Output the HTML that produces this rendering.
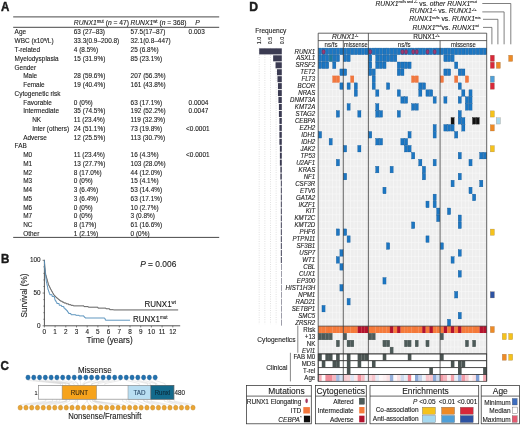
<!DOCTYPE html>
<html><head><meta charset="utf-8"><title>RUNX1 figure</title>
<style>
html,body{margin:0;padding:0;background:#fff;}
body{width:520px;height:425px;overflow:hidden;}
svg{display:block;}
text{font-family:'Liberation Sans', Arial, sans-serif;fill:#1a1a1a;stroke:#1a1a1a;stroke-width:0.1px;}
</style></head>
<body>
<svg width="520" height="425" viewBox="0 0 520 425" font-family="'Liberation Sans', Arial, sans-serif">
<rect width="520" height="425" fill="#fff"/>
<text x="1.0" y="11.4" font-size="11.6" font-weight="bold" style="stroke-width:0.4px" transform="matrix(1 0 0 1.08 0 -0.91)">A</text>
<line x1="13.2" y1="16.9" x2="219.2" y2="16.9" stroke="#333" stroke-width="0.9"/>
<line x1="13.2" y1="27.3" x2="219.2" y2="27.3" stroke="#333" stroke-width="0.9"/>
<line x1="13.2" y1="237.4" x2="219.2" y2="237.4" stroke="#333" stroke-width="0.9"/>
<text x="73.8" y="25.4" font-size="6.75" transform="matrix(1 0 0 1.08 0 -2.03)"><tspan font-style="italic">RUNX1</tspan><tspan font-size="4.3" dy="-2.6">mut</tspan><tspan dy="2.6"> (</tspan><tspan font-style="italic">n</tspan> = 47)</text>
<text x="130.4" y="25.4" font-size="6.75" transform="matrix(1 0 0 1.08 0 -2.03)"><tspan font-style="italic">RUNX1</tspan><tspan font-size="4.3" dy="-2.6">wt</tspan><tspan dy="2.6"> (</tspan><tspan font-style="italic">n</tspan> = 368)</text>
<text x="195.2" y="25.4" font-size="6.75" font-style="italic" transform="matrix(1 0 0 1.08 0 -2.03)">P</text>
<g font-size="6.45">
<text x="14.6" y="34.5" transform="matrix(1 0 0 1.08 0 -2.76)">Age</text>
<text x="73.8" y="34.5" transform="matrix(1 0 0 1.08 0 -2.76)">63 (27–83)</text>
<text x="130.6" y="34.5" transform="matrix(1 0 0 1.08 0 -2.76)">57.5(17–87)</text>
<text x="188.6" y="34.5" transform="matrix(1 0 0 1.08 0 -2.76)">0.003</text>
<text x="14.6" y="43.26" transform="matrix(1 0 0 1.08 0 -3.46)">WBC (x10<tspan font-size="3.8" dy="-2.4">9</tspan><tspan dy="2.4">/L)</tspan></text>
<text x="73.8" y="43.26" transform="matrix(1 0 0 1.08 0 -3.46)">33.3(0.9–200.8)</text>
<text x="130.6" y="43.26" transform="matrix(1 0 0 1.08 0 -3.46)">32.1(0.8–447)</text>
<text x="14.6" y="52.02" transform="matrix(1 0 0 1.08 0 -4.16)">T-related</text>
<text x="73.8" y="52.02" transform="matrix(1 0 0 1.08 0 -4.16)">4 (8.5%)</text>
<text x="130.6" y="52.02" transform="matrix(1 0 0 1.08 0 -4.16)">25 (6.8%)</text>
<text x="14.6" y="60.78" transform="matrix(1 0 0 1.08 0 -4.86)">Myelodysplasia</text>
<text x="73.8" y="60.78" transform="matrix(1 0 0 1.08 0 -4.86)">15 (31.9%)</text>
<text x="130.6" y="60.78" transform="matrix(1 0 0 1.08 0 -4.86)">85 (23.1%)</text>
<text x="14.6" y="69.54" transform="matrix(1 0 0 1.08 0 -5.56)">Gender</text>
<text x="23.2" y="78.3" transform="matrix(1 0 0 1.08 0 -6.26)">Male</text>
<text x="73.8" y="78.3" transform="matrix(1 0 0 1.08 0 -6.26)">28 (59.6%)</text>
<text x="130.6" y="78.3" transform="matrix(1 0 0 1.08 0 -6.26)">207 (56.3%)</text>
<text x="23.2" y="87.06" transform="matrix(1 0 0 1.08 0 -6.96)">Female</text>
<text x="73.8" y="87.06" transform="matrix(1 0 0 1.08 0 -6.96)">19 (40.4%)</text>
<text x="130.6" y="87.06" transform="matrix(1 0 0 1.08 0 -6.96)">161 (43.8%)</text>
<text x="14.6" y="95.82" transform="matrix(1 0 0 1.08 0 -7.67)">Cytogenetic risk</text>
<text x="23.2" y="104.58" transform="matrix(1 0 0 1.08 0 -8.37)">Favorable</text>
<text x="73.8" y="104.58" transform="matrix(1 0 0 1.08 0 -8.37)">0 (0%)</text>
<text x="130.6" y="104.58" transform="matrix(1 0 0 1.08 0 -8.37)">63 (17.1%)</text>
<text x="188.6" y="104.58" transform="matrix(1 0 0 1.08 0 -8.37)">0.0004</text>
<text x="23.2" y="113.34" transform="matrix(1 0 0 1.08 0 -9.07)">Intermediate</text>
<text x="73.8" y="113.34" transform="matrix(1 0 0 1.08 0 -9.07)">35 (74.5%)</text>
<text x="130.6" y="113.34" transform="matrix(1 0 0 1.08 0 -9.07)">192 (52.2%)</text>
<text x="188.6" y="113.34" transform="matrix(1 0 0 1.08 0 -9.07)">0.0047</text>
<text x="32.2" y="122.1" transform="matrix(1 0 0 1.08 0 -9.77)">NK</text>
<text x="73.8" y="122.1" transform="matrix(1 0 0 1.08 0 -9.77)">11 (23.4%)</text>
<text x="130.6" y="122.1" transform="matrix(1 0 0 1.08 0 -9.77)">119 (32.3%)</text>
<text x="32.2" y="130.86" transform="matrix(1 0 0 1.08 0 -10.47)">Inter (others)</text>
<text x="73.8" y="130.86" transform="matrix(1 0 0 1.08 0 -10.47)">24 (51.1%)</text>
<text x="130.6" y="130.86" transform="matrix(1 0 0 1.08 0 -10.47)">73 (19.8%)</text>
<text x="186.1" y="130.86" transform="matrix(1 0 0 1.08 0 -10.47)">&lt;0.0001</text>
<text x="23.2" y="139.62" transform="matrix(1 0 0 1.08 0 -11.17)">Adverse</text>
<text x="73.8" y="139.62" transform="matrix(1 0 0 1.08 0 -11.17)">12 (25.5%)</text>
<text x="130.6" y="139.62" transform="matrix(1 0 0 1.08 0 -11.17)">113 (30.7%)</text>
<text x="14.6" y="148.38" transform="matrix(1 0 0 1.08 0 -11.87)">FAB</text>
<text x="23.2" y="157.14" transform="matrix(1 0 0 1.08 0 -12.57)">M0</text>
<text x="73.8" y="157.14" transform="matrix(1 0 0 1.08 0 -12.57)">11 (23.4%)</text>
<text x="130.6" y="157.14" transform="matrix(1 0 0 1.08 0 -12.57)">16 (4.3%)</text>
<text x="186.1" y="157.14" transform="matrix(1 0 0 1.08 0 -12.57)">&lt;0.0001</text>
<text x="23.2" y="165.9" transform="matrix(1 0 0 1.08 0 -13.27)">M1</text>
<text x="73.8" y="165.9" transform="matrix(1 0 0 1.08 0 -13.27)">13 (27.7%)</text>
<text x="130.6" y="165.9" transform="matrix(1 0 0 1.08 0 -13.27)">103 (28.0%)</text>
<text x="23.2" y="174.66" transform="matrix(1 0 0 1.08 0 -13.97)">M2</text>
<text x="73.8" y="174.66" transform="matrix(1 0 0 1.08 0 -13.97)">8 (17.0%)</text>
<text x="130.6" y="174.66" transform="matrix(1 0 0 1.08 0 -13.97)">44 (12.0%)</text>
<text x="23.2" y="183.42" transform="matrix(1 0 0 1.08 0 -14.67)">M3</text>
<text x="73.8" y="183.42" transform="matrix(1 0 0 1.08 0 -14.67)">0 (0%)</text>
<text x="130.6" y="183.42" transform="matrix(1 0 0 1.08 0 -14.67)">15 (4.1%)</text>
<text x="23.2" y="192.18" transform="matrix(1 0 0 1.08 0 -15.37)">M4</text>
<text x="73.8" y="192.18" transform="matrix(1 0 0 1.08 0 -15.37)">3 (6.4%)</text>
<text x="130.6" y="192.18" transform="matrix(1 0 0 1.08 0 -15.37)">53 (14.4%)</text>
<text x="23.2" y="200.94" transform="matrix(1 0 0 1.08 0 -16.08)">M5</text>
<text x="73.8" y="200.94" transform="matrix(1 0 0 1.08 0 -16.08)">3 (6.4%)</text>
<text x="130.6" y="200.94" transform="matrix(1 0 0 1.08 0 -16.08)">63 (17.1%)</text>
<text x="23.2" y="209.7" transform="matrix(1 0 0 1.08 0 -16.78)">M6</text>
<text x="73.8" y="209.7" transform="matrix(1 0 0 1.08 0 -16.78)">0 (0%)</text>
<text x="130.6" y="209.7" transform="matrix(1 0 0 1.08 0 -16.78)">10 (2.7%)</text>
<text x="23.2" y="218.46" transform="matrix(1 0 0 1.08 0 -17.48)">M7</text>
<text x="73.8" y="218.46" transform="matrix(1 0 0 1.08 0 -17.48)">0 (0%)</text>
<text x="130.6" y="218.46" transform="matrix(1 0 0 1.08 0 -17.48)">3 (0.8%)</text>
<text x="23.2" y="227.22" transform="matrix(1 0 0 1.08 0 -18.18)">NC</text>
<text x="73.8" y="227.22" transform="matrix(1 0 0 1.08 0 -18.18)">8 (17%)</text>
<text x="130.6" y="227.22" transform="matrix(1 0 0 1.08 0 -18.18)">61 (16.6%)</text>
<text x="23.2" y="235.98" transform="matrix(1 0 0 1.08 0 -18.88)">Other</text>
<text x="73.8" y="235.98" transform="matrix(1 0 0 1.08 0 -18.88)">1 (2.1%)</text>
<text x="130.6" y="235.98" transform="matrix(1 0 0 1.08 0 -18.88)">0 (0%)</text>
</g>
<text x="1.0" y="262.7" font-size="11.6" font-weight="bold" style="stroke-width:0.4px" transform="matrix(1 0 0 1.08 0 -21.02)">B</text>
<line x1="44.4" y1="259.8" x2="44.4" y2="325.8" stroke="#555" stroke-width="1.0"/>
<line x1="44.4" y1="325.8" x2="180.2" y2="325.8" stroke="#555" stroke-width="1.0"/>
<line x1="42.6" y1="325.8" x2="44.4" y2="325.8" stroke="#333" stroke-width="0.6"/>
<line x1="43.4" y1="319.25" x2="44.4" y2="319.25" stroke="#333" stroke-width="0.6"/>
<line x1="43.4" y1="312.7" x2="44.4" y2="312.7" stroke="#333" stroke-width="0.6"/>
<line x1="43.4" y1="306.15" x2="44.4" y2="306.15" stroke="#333" stroke-width="0.6"/>
<line x1="43.4" y1="299.6" x2="44.4" y2="299.6" stroke="#333" stroke-width="0.6"/>
<line x1="42.6" y1="293.05" x2="44.4" y2="293.05" stroke="#333" stroke-width="0.6"/>
<line x1="43.4" y1="286.5" x2="44.4" y2="286.5" stroke="#333" stroke-width="0.6"/>
<line x1="43.4" y1="279.95" x2="44.4" y2="279.95" stroke="#333" stroke-width="0.6"/>
<line x1="43.4" y1="273.4" x2="44.4" y2="273.4" stroke="#333" stroke-width="0.6"/>
<line x1="43.4" y1="266.85" x2="44.4" y2="266.85" stroke="#333" stroke-width="0.6"/>
<line x1="42.6" y1="260.3" x2="44.4" y2="260.3" stroke="#333" stroke-width="0.6"/>
<line x1="44.4" y1="325.8" x2="44.4" y2="327.4" stroke="#333" stroke-width="0.6"/>
<line x1="55.1" y1="325.8" x2="55.1" y2="327.4" stroke="#333" stroke-width="0.6"/>
<line x1="65.8" y1="325.8" x2="65.8" y2="327.4" stroke="#333" stroke-width="0.6"/>
<line x1="76.5" y1="325.8" x2="76.5" y2="327.4" stroke="#333" stroke-width="0.6"/>
<line x1="87.2" y1="325.8" x2="87.2" y2="327.4" stroke="#333" stroke-width="0.6"/>
<line x1="97.9" y1="325.8" x2="97.9" y2="327.4" stroke="#333" stroke-width="0.6"/>
<line x1="108.6" y1="325.8" x2="108.6" y2="327.4" stroke="#333" stroke-width="0.6"/>
<line x1="119.3" y1="325.8" x2="119.3" y2="327.4" stroke="#333" stroke-width="0.6"/>
<line x1="130" y1="325.8" x2="130" y2="327.4" stroke="#333" stroke-width="0.6"/>
<line x1="140.7" y1="325.8" x2="140.7" y2="327.4" stroke="#333" stroke-width="0.6"/>
<line x1="151.4" y1="325.8" x2="151.4" y2="327.4" stroke="#333" stroke-width="0.6"/>
<line x1="162.1" y1="325.8" x2="162.1" y2="327.4" stroke="#333" stroke-width="0.6"/>
<line x1="172.8" y1="325.8" x2="172.8" y2="327.4" stroke="#333" stroke-width="0.6"/>
<g font-size="6.4">
<text x="40.6" y="262.5" text-anchor="end" transform="matrix(1 0 0 1.08 0 -21)">100</text>
<text x="40.6" y="295.25" text-anchor="end" transform="matrix(1 0 0 1.08 0 -23.62)">50</text>
<text x="40.6" y="328" text-anchor="end" transform="matrix(1 0 0 1.08 0 -26.24)">0</text>
<text x="44.4" y="333.6" text-anchor="middle" transform="matrix(1 0 0 1.08 0 -26.69)">0</text>
<text x="55.1" y="333.6" text-anchor="middle" transform="matrix(1 0 0 1.08 0 -26.69)">1</text>
<text x="65.8" y="333.6" text-anchor="middle" transform="matrix(1 0 0 1.08 0 -26.69)">2</text>
<text x="76.5" y="333.6" text-anchor="middle" transform="matrix(1 0 0 1.08 0 -26.69)">3</text>
<text x="87.2" y="333.6" text-anchor="middle" transform="matrix(1 0 0 1.08 0 -26.69)">4</text>
<text x="97.9" y="333.6" text-anchor="middle" transform="matrix(1 0 0 1.08 0 -26.69)">5</text>
<text x="108.6" y="333.6" text-anchor="middle" transform="matrix(1 0 0 1.08 0 -26.69)">6</text>
<text x="119.3" y="333.6" text-anchor="middle" transform="matrix(1 0 0 1.08 0 -26.69)">7</text>
<text x="130" y="333.6" text-anchor="middle" transform="matrix(1 0 0 1.08 0 -26.69)">8</text>
<text x="140.7" y="333.6" text-anchor="middle" transform="matrix(1 0 0 1.08 0 -26.69)">9</text>
<text x="151.4" y="333.6" text-anchor="middle" transform="matrix(1 0 0 1.08 0 -26.69)">10</text>
<text x="162.1" y="333.6" text-anchor="middle" transform="matrix(1 0 0 1.08 0 -26.69)">11</text>
<text x="172.8" y="333.6" text-anchor="middle" transform="matrix(1 0 0 1.08 0 -26.69)">12</text>
</g>
<text x="109.6" y="342.6" font-size="8.3" text-anchor="middle" transform="matrix(1 0 0 1.08 0 -27.41)">Time (years)</text>
<text transform="translate(26.6,295.5) rotate(-90)" font-size="8.2" text-anchor="middle">Survival (%)</text>
<text x="176.3" y="266.6" font-size="8.4" text-anchor="end" transform="matrix(1 0 0 1.08 0 -21.33)"><tspan font-style="italic">P</tspan> = 0.006</text>
<text x="144.5" y="307.2" font-size="8" transform="matrix(1 0 0 1.08 0 -24.58)">RUNX1<tspan font-size="4.3" dy="-3.2">wt</tspan></text>
<text x="132.9" y="322.3" font-size="8" transform="matrix(1 0 0 1.08 0 -25.78)">RUNX1<tspan font-size="4.6" dy="-3">mut</tspan></text>
<path d="M44.4,260.3 H44.45 V261.05 H44.49 V261.8 H44.54 V262.55 H44.58 V263.29 H44.63 V264.04 H44.68 V264.79 H44.72 V265.54 H44.8 V266.3 H44.88 V267.07 H44.96 V267.83 H45.04 V268.6 H45.12 V269.36 H45.2 V270.12 H45.28 V270.89 H45.36 V271.65 H45.44 V272.42 H45.52 V273.18 H45.6 V273.95 H45.68 V274.71 H45.91 V275.52 H46.13 V276.32 H46.35 V277.13 H46.57 V277.93 H46.8 V278.74 H47.02 V279.55 H47.24 V280.35 H47.46 V281.16 H47.68 V281.97 H47.91 V282.77 H48.13 V283.58 H48.35 V284.38 H48.57 V285.19 H48.97 V285.99 H49.36 V286.78 H49.75 V287.58 H50.14 V288.38 H50.53 V289.17 H50.93 V289.97 H51.35 V290.73 H51.78 V291.49 H52.21 V292.25 H52.64 V293 H53.07 V293.76 H53.49 V294.52 H53.92 V295.28 H54.65 V296.01 H55.37 V296.75 H56.09 V297.49 H56.81 V298.22 H57.72 V298.96 H58.63 V299.7 H59.54 V300.44 H60.45 V301.17 H62.16 V302.09 H63.87 V303.01 H66.23 V303.86 H68.58 V304.71 H70.94 V305.3 H73.29 V305.89 H83.99 V306.61 H88.27 V307.2 H97.9 V308.12 H105.92 V308.77 H109.67 V309.69 H113.41 V309.95 H178.15 V309.95" fill="none" stroke="#5a5a5a" stroke-width="0.95"/>
<path d="M44.4,260.3 H44.44 V261.61 H44.47 V262.92 H44.51 V264.23 H44.54 V265.54 H44.58 V266.85 H44.61 V268.16 H44.79 V269.58 H44.97 V271 H45.15 V272.42 H45.32 V273.76 H45.49 V275.09 H45.65 V276.43 H45.82 V277.77 H45.99 V279.11 H46.16 V280.45 H46.33 V281.78 H46.61 V283.15 H46.9 V284.51 H47.18 V285.88 H47.47 V287.24 H47.75 V288.61 H48.04 V289.97 H48.47 V291.15 H48.89 V292.33 H49.32 V293.51 H49.75 V294.69 H52.1 V296.52 H54.46 V298.22 H54.78 V299.4 H55.1 V300.58 H55.96 V302.06 H56.81 V303.53 H59.17 V305.3 H61.52 V306.48 H63.87 V308.18 H65.1 V309.39 H66.33 V310.6 H67.46 V312.05 H68.58 V313.49 H70.94 V314.73 H75.75 V315.32 H79.17 V315.91 H83.99 V317.09 H85.06 V318.01 H104.32 V318.01 H104.85 V319.12 H105.39 V320.23 H130 V320.23" fill="none" stroke="#5a92bd" stroke-width="0.95"/>
<text x="0.6" y="370.2" font-size="11.6" font-weight="bold" style="stroke-width:0.4px" transform="matrix(1 0 0 1.08 0 -29.62)">C</text>
<text x="77.9" y="373.1" font-size="8" transform="matrix(1 0 0 1.08 0 -29.85)">Missense</text>
<text x="68.3" y="419.3" font-size="7.7" transform="matrix(1 0 0 1.08 0 -33.54)">Nonsense/Frameshift</text>
<g stroke="#c4c4c4" stroke-width="0.35" fill="none">
<path d="M28,379.5 L28,380.4 L60.5,383.6 L60.5,385.4"/>
<path d="M33.78,379.5 L33.78,380.4 L62.49,383.6 L62.49,385.4"/>
<path d="M39.56,379.5 L39.56,380.4 L65.72,383.6 L65.72,385.4"/>
<path d="M45.34,379.5 L45.34,380.4 L68.9,383.6 L68.9,385.4"/>
<path d="M51.12,379.5 L51.12,380.4 L69.04,383.6 L69.04,385.4"/>
<path d="M56.9,379.5 L56.9,380.4 L69.86,383.6 L69.86,385.4"/>
<path d="M62.68,379.5 L62.68,380.4 L74.06,383.6 L74.06,385.4"/>
<path d="M68.46,379.5 L68.46,380.4 L77.87,383.6 L77.87,385.4"/>
<path d="M74.24,379.5 L74.24,380.4 L78.1,383.6 L78.1,385.4"/>
<path d="M80.02,379.5 L80.02,380.4 L80.68,383.6 L80.68,385.4"/>
<path d="M85.8,379.5 L85.8,380.4 L82.95,383.6 L82.95,385.4"/>
<path d="M91.58,379.5 L91.58,380.4 L83.78,383.6 L83.78,385.4"/>
<path d="M97.36,379.5 L97.36,380.4 L84.28,383.6 L84.28,385.4"/>
<path d="M103.14,379.5 L103.14,380.4 L91.79,383.6 L91.79,385.4"/>
<path d="M108.92,379.5 L108.92,380.4 L91.82,383.6 L91.82,385.4"/>
<path d="M114.7,379.5 L114.7,380.4 L97.83,383.6 L97.83,385.4"/>
<path d="M120.48,379.5 L120.48,380.4 L104.8,383.6 L104.8,385.4"/>
<path d="M126.26,379.5 L126.26,380.4 L139.24,383.6 L139.24,385.4"/>
<path d="M132.04,379.5 L132.04,380.4 L147.61,383.6 L147.61,385.4"/>
<path d="M137.82,379.5 L137.82,380.4 L150.36,383.6 L150.36,385.4"/>
<path d="M143.6,379.5 L143.6,380.4 L155.59,383.6 L155.59,385.4"/>
<path d="M149.38,379.5 L149.38,380.4 L156.87,383.6 L156.87,385.4"/>
<path d="M155.16,379.5 L155.16,380.4 L165.1,383.6 L165.1,385.4"/>
<path d="M20.2,405.6 L20.2,404.8 L45.78,401.2 L45.78,399.2"/>
<path d="M25.96,405.6 L25.96,404.8 L52.53,401.2 L52.53,399.2"/>
<path d="M31.72,405.6 L31.72,404.8 L56.82,401.2 L56.82,399.2"/>
<path d="M37.48,405.6 L37.48,404.8 L59.78,401.2 L59.78,399.2"/>
<path d="M43.24,405.6 L43.24,404.8 L65.41,401.2 L65.41,399.2"/>
<path d="M49,405.6 L49,404.8 L66.64,401.2 L66.64,399.2"/>
<path d="M54.76,405.6 L54.76,404.8 L66.76,401.2 L66.76,399.2"/>
<path d="M60.52,405.6 L60.52,404.8 L69.59,401.2 L69.59,399.2"/>
<path d="M66.28,405.6 L66.28,404.8 L75.82,401.2 L75.82,399.2"/>
<path d="M72.04,405.6 L72.04,404.8 L77.27,401.2 L77.27,399.2"/>
<path d="M77.8,405.6 L77.8,404.8 L77.56,401.2 L77.56,399.2"/>
<path d="M83.56,405.6 L83.56,404.8 L86.99,401.2 L86.99,399.2"/>
<path d="M89.32,405.6 L89.32,404.8 L87.16,401.2 L87.16,399.2"/>
<path d="M95.08,405.6 L95.08,404.8 L90.03,401.2 L90.03,399.2"/>
<path d="M100.84,405.6 L100.84,404.8 L92.76,401.2 L92.76,399.2"/>
<path d="M106.6,405.6 L106.6,404.8 L92.76,401.2 L92.76,399.2"/>
<path d="M112.36,405.6 L112.36,404.8 L94.24,401.2 L94.24,399.2"/>
<path d="M118.12,405.6 L118.12,404.8 L94.75,401.2 L94.75,399.2"/>
<path d="M123.88,405.6 L123.88,404.8 L95.79,401.2 L95.79,399.2"/>
<path d="M129.64,405.6 L129.64,404.8 L122.58,401.2 L122.58,399.2"/>
<path d="M135.4,405.6 L135.4,404.8 L126.32,401.2 L126.32,399.2"/>
<path d="M141.16,405.6 L141.16,404.8 L128.94,401.2 L128.94,399.2"/>
<path d="M146.92,405.6 L146.92,404.8 L138.04,401.2 L138.04,399.2"/>
<path d="M152.68,405.6 L152.68,404.8 L143.82,401.2 L143.82,399.2"/>
<path d="M158.44,405.6 L158.44,404.8 L143.88,401.2 L143.88,399.2"/>
<path d="M164.2,405.6 L164.2,404.8 L147,401.2 L147,399.2"/>
<path d="M169.96,405.6 L169.96,404.8 L151.15,401.2 L151.15,399.2"/>
<path d="M175.72,405.6 L175.72,404.8 L164.23,401.2 L164.23,399.2"/>
<path d="M181.48,405.6 L181.48,404.8 L167.82,401.2 L167.82,399.2"/>
<path d="M187.24,405.6 L187.24,404.8 L169.67,401.2 L169.67,399.2"/>
<path d="M193,405.6 L193,404.8 L174.32,401.2 L174.32,399.2"/>
</g>
<rect x="38.5" y="385.4" width="135.4" height="13.8" fill="#fff" stroke="#8a8a8a" stroke-width="0.7"/>
<rect x="62.1" y="385.4" width="34.5" height="13.8" fill="#f6a31c" stroke="#8a8a8a" stroke-width="0.5"/>
<rect x="128.0" y="385.4" width="22.9" height="13.8" fill="#b9def2" stroke="#8a8a8a" stroke-width="0.5"/>
<rect x="150.9" y="385.4" width="23" height="13.8" fill="#136a8c" stroke="#5a5a5a" stroke-width="0.5"/>
<text x="79.4" y="395.0" font-size="6.3" text-anchor="middle" style="fill:#3a2a10;stroke:#3a2a10" transform="matrix(1 0 0 1.08 0 -31.6)">RUNT</text>
<text x="139.5" y="395.0" font-size="6.3" text-anchor="middle" style="fill:#2a4a6a;stroke:#2a4a6a" transform="matrix(1 0 0 1.08 0 -31.6)">TAD</text>
<text x="162.4" y="394.8" font-size="6.0" text-anchor="middle" style="fill:#0b2a3a;stroke:#0b2a3a" transform="matrix(1 0 0 1.08 0 -31.58)">Runxl</text>
<text x="37.6" y="395.0" font-size="5.6" text-anchor="end" transform="matrix(1 0 0 1.08 0 -31.6)">1</text>
<text x="174.4" y="395.2" font-size="6.3" transform="matrix(1 0 0 1.08 0 -31.62)">480</text>
<ellipse cx="28" cy="377.5" rx="2.15" ry="2.4" fill="#2272b0" stroke="#174f80" stroke-width="0.35"/>
<ellipse cx="33.78" cy="377.5" rx="2.15" ry="2.4" fill="#2272b0" stroke="#174f80" stroke-width="0.35"/>
<ellipse cx="39.56" cy="377.5" rx="2.15" ry="2.4" fill="#2272b0" stroke="#174f80" stroke-width="0.35"/>
<ellipse cx="45.34" cy="377.5" rx="2.15" ry="2.4" fill="#2272b0" stroke="#174f80" stroke-width="0.35"/>
<ellipse cx="51.12" cy="377.5" rx="2.15" ry="2.4" fill="#2272b0" stroke="#174f80" stroke-width="0.35"/>
<ellipse cx="56.9" cy="377.5" rx="2.15" ry="2.4" fill="#2272b0" stroke="#174f80" stroke-width="0.35"/>
<ellipse cx="62.68" cy="377.5" rx="2.15" ry="2.4" fill="#2272b0" stroke="#174f80" stroke-width="0.35"/>
<ellipse cx="68.46" cy="377.5" rx="2.15" ry="2.4" fill="#2272b0" stroke="#174f80" stroke-width="0.35"/>
<ellipse cx="74.24" cy="377.5" rx="2.15" ry="2.4" fill="#2272b0" stroke="#174f80" stroke-width="0.35"/>
<ellipse cx="80.02" cy="377.5" rx="2.15" ry="2.4" fill="#2272b0" stroke="#174f80" stroke-width="0.35"/>
<ellipse cx="85.8" cy="377.5" rx="2.15" ry="2.4" fill="#2272b0" stroke="#174f80" stroke-width="0.35"/>
<ellipse cx="91.58" cy="377.5" rx="2.15" ry="2.4" fill="#2272b0" stroke="#174f80" stroke-width="0.35"/>
<ellipse cx="97.36" cy="377.5" rx="2.15" ry="2.4" fill="#2272b0" stroke="#174f80" stroke-width="0.35"/>
<ellipse cx="103.14" cy="377.5" rx="2.15" ry="2.4" fill="#2272b0" stroke="#174f80" stroke-width="0.35"/>
<ellipse cx="108.92" cy="377.5" rx="2.15" ry="2.4" fill="#2272b0" stroke="#174f80" stroke-width="0.35"/>
<ellipse cx="114.7" cy="377.5" rx="2.15" ry="2.4" fill="#2272b0" stroke="#174f80" stroke-width="0.35"/>
<ellipse cx="120.48" cy="377.5" rx="2.15" ry="2.4" fill="#2272b0" stroke="#174f80" stroke-width="0.35"/>
<ellipse cx="126.26" cy="377.5" rx="2.15" ry="2.4" fill="#2272b0" stroke="#174f80" stroke-width="0.35"/>
<ellipse cx="132.04" cy="377.5" rx="2.15" ry="2.4" fill="#2272b0" stroke="#174f80" stroke-width="0.35"/>
<ellipse cx="137.82" cy="377.5" rx="2.15" ry="2.4" fill="#2272b0" stroke="#174f80" stroke-width="0.35"/>
<ellipse cx="143.6" cy="377.5" rx="2.15" ry="2.4" fill="#2272b0" stroke="#174f80" stroke-width="0.35"/>
<ellipse cx="149.38" cy="377.5" rx="2.15" ry="2.4" fill="#2272b0" stroke="#174f80" stroke-width="0.35"/>
<ellipse cx="155.16" cy="377.5" rx="2.15" ry="2.4" fill="#2272b0" stroke="#174f80" stroke-width="0.35"/>
<ellipse cx="20.2" cy="407.7" rx="2.15" ry="2.4" fill="#eba533" stroke="#b57b16" stroke-width="0.4"/>
<ellipse cx="25.96" cy="407.7" rx="2.15" ry="2.4" fill="#eba533" stroke="#b57b16" stroke-width="0.4"/>
<ellipse cx="31.72" cy="407.7" rx="2.15" ry="2.4" fill="#eba533" stroke="#b57b16" stroke-width="0.4"/>
<ellipse cx="37.48" cy="407.7" rx="2.15" ry="2.4" fill="#eba533" stroke="#b57b16" stroke-width="0.4"/>
<ellipse cx="43.24" cy="407.7" rx="2.15" ry="2.4" fill="#eba533" stroke="#b57b16" stroke-width="0.4"/>
<ellipse cx="49" cy="407.7" rx="2.15" ry="2.4" fill="#eba533" stroke="#b57b16" stroke-width="0.4"/>
<ellipse cx="54.76" cy="407.7" rx="2.15" ry="2.4" fill="#eba533" stroke="#b57b16" stroke-width="0.4"/>
<ellipse cx="60.52" cy="407.7" rx="2.15" ry="2.4" fill="#eba533" stroke="#b57b16" stroke-width="0.4"/>
<ellipse cx="66.28" cy="407.7" rx="2.15" ry="2.4" fill="#eba533" stroke="#b57b16" stroke-width="0.4"/>
<ellipse cx="72.04" cy="407.7" rx="2.15" ry="2.4" fill="#eba533" stroke="#b57b16" stroke-width="0.4"/>
<ellipse cx="77.8" cy="407.7" rx="2.15" ry="2.4" fill="#eba533" stroke="#b57b16" stroke-width="0.4"/>
<ellipse cx="83.56" cy="407.7" rx="2.15" ry="2.4" fill="#eba533" stroke="#b57b16" stroke-width="0.4"/>
<ellipse cx="89.32" cy="407.7" rx="2.15" ry="2.4" fill="#eba533" stroke="#b57b16" stroke-width="0.4"/>
<ellipse cx="95.08" cy="407.7" rx="2.15" ry="2.4" fill="#eba533" stroke="#b57b16" stroke-width="0.4"/>
<ellipse cx="100.84" cy="407.7" rx="2.15" ry="2.4" fill="#eba533" stroke="#b57b16" stroke-width="0.4"/>
<ellipse cx="106.6" cy="407.7" rx="2.15" ry="2.4" fill="#eba533" stroke="#b57b16" stroke-width="0.4"/>
<ellipse cx="112.36" cy="407.7" rx="2.15" ry="2.4" fill="#eba533" stroke="#b57b16" stroke-width="0.4"/>
<ellipse cx="118.12" cy="407.7" rx="2.15" ry="2.4" fill="#eba533" stroke="#b57b16" stroke-width="0.4"/>
<ellipse cx="123.88" cy="407.7" rx="2.15" ry="2.4" fill="#eba533" stroke="#b57b16" stroke-width="0.4"/>
<ellipse cx="129.64" cy="407.7" rx="2.15" ry="2.4" fill="#eba533" stroke="#b57b16" stroke-width="0.4"/>
<ellipse cx="135.4" cy="407.7" rx="2.15" ry="2.4" fill="#eba533" stroke="#b57b16" stroke-width="0.4"/>
<ellipse cx="141.16" cy="407.7" rx="2.15" ry="2.4" fill="#eba533" stroke="#b57b16" stroke-width="0.4"/>
<ellipse cx="146.92" cy="407.7" rx="2.15" ry="2.4" fill="#eba533" stroke="#b57b16" stroke-width="0.4"/>
<ellipse cx="152.68" cy="407.7" rx="2.15" ry="2.4" fill="#eba533" stroke="#b57b16" stroke-width="0.4"/>
<ellipse cx="158.44" cy="407.7" rx="2.15" ry="2.4" fill="#eba533" stroke="#b57b16" stroke-width="0.4"/>
<ellipse cx="164.2" cy="407.7" rx="2.15" ry="2.4" fill="#eba533" stroke="#b57b16" stroke-width="0.4"/>
<ellipse cx="169.96" cy="407.7" rx="2.15" ry="2.4" fill="#eba533" stroke="#b57b16" stroke-width="0.4"/>
<ellipse cx="175.72" cy="407.7" rx="2.15" ry="2.4" fill="#eba533" stroke="#b57b16" stroke-width="0.4"/>
<ellipse cx="181.48" cy="407.7" rx="2.15" ry="2.4" fill="#eba533" stroke="#b57b16" stroke-width="0.4"/>
<ellipse cx="187.24" cy="407.7" rx="2.15" ry="2.4" fill="#eba533" stroke="#b57b16" stroke-width="0.4"/>
<ellipse cx="193" cy="407.7" rx="2.15" ry="2.4" fill="#eba533" stroke="#b57b16" stroke-width="0.4"/>
<text x="249.3" y="10.8" font-size="12.2" font-weight="bold" style="stroke-width:0.45px" transform="matrix(1 0 0 1.08 0 -0.86)">D</text>
<rect x="318.2" y="47.9" width="168.5" height="306.02" fill="#f9f9f9"/>
<rect x="318.4" y="48.1" width="3.19" height="6.55" fill="#1c76c2" stroke="#125896" stroke-width="0.4"/>
<rect x="321.98" y="48.1" width="3.19" height="6.55" fill="#1c76c2" stroke="#125896" stroke-width="0.4"/>
<rect x="325.57" y="48.1" width="3.19" height="6.55" fill="#1c76c2" stroke="#125896" stroke-width="0.4"/>
<rect x="329.15" y="48.1" width="3.19" height="6.55" fill="#1c76c2" stroke="#125896" stroke-width="0.4"/>
<rect x="332.74" y="48.1" width="3.19" height="6.55" fill="#1c76c2" stroke="#125896" stroke-width="0.4"/>
<rect x="336.32" y="48.1" width="3.19" height="6.55" fill="#1c76c2" stroke="#125896" stroke-width="0.4"/>
<rect x="339.91" y="48.1" width="3.19" height="6.55" fill="#1c76c2" stroke="#125896" stroke-width="0.4"/>
<rect x="343.49" y="48.1" width="3.19" height="6.55" fill="#1c76c2" stroke="#125896" stroke-width="0.4"/>
<rect x="347.08" y="48.1" width="3.19" height="6.55" fill="#1c76c2" stroke="#125896" stroke-width="0.4"/>
<rect x="350.66" y="48.1" width="3.19" height="6.55" fill="#1c76c2" stroke="#125896" stroke-width="0.4"/>
<rect x="354.25" y="48.1" width="3.19" height="6.55" fill="#1c76c2" stroke="#125896" stroke-width="0.4"/>
<rect x="357.83" y="48.1" width="3.19" height="6.55" fill="#1c76c2" stroke="#125896" stroke-width="0.4"/>
<rect x="361.42" y="48.1" width="3.19" height="6.55" fill="#1c76c2" stroke="#125896" stroke-width="0.4"/>
<rect x="365" y="48.1" width="3.19" height="6.55" fill="#1c76c2" stroke="#125896" stroke-width="0.4"/>
<rect x="368.59" y="48.1" width="3.19" height="6.55" fill="#1c76c2" stroke="#125896" stroke-width="0.4"/>
<rect x="372.17" y="48.1" width="3.19" height="6.55" fill="#1c76c2" stroke="#125896" stroke-width="0.4"/>
<rect x="375.76" y="48.1" width="3.19" height="6.55" fill="#1c76c2" stroke="#125896" stroke-width="0.4"/>
<rect x="379.34" y="48.1" width="3.19" height="6.55" fill="#1c76c2" stroke="#125896" stroke-width="0.4"/>
<rect x="382.93" y="48.1" width="3.19" height="6.55" fill="#1c76c2" stroke="#125896" stroke-width="0.4"/>
<rect x="386.51" y="48.1" width="3.19" height="6.55" fill="#1c76c2" stroke="#125896" stroke-width="0.4"/>
<rect x="390.1" y="48.1" width="3.19" height="6.55" fill="#1c76c2" stroke="#125896" stroke-width="0.4"/>
<rect x="393.69" y="48.1" width="3.19" height="6.55" fill="#1c76c2" stroke="#125896" stroke-width="0.4"/>
<rect x="397.27" y="48.1" width="3.19" height="6.55" fill="#1c76c2" stroke="#125896" stroke-width="0.4"/>
<rect x="400.85" y="48.1" width="3.19" height="6.55" fill="#1c76c2" stroke="#125896" stroke-width="0.4"/>
<rect x="404.44" y="48.1" width="3.19" height="6.55" fill="#1c76c2" stroke="#125896" stroke-width="0.4"/>
<rect x="408.02" y="48.1" width="3.19" height="6.55" fill="#1c76c2" stroke="#125896" stroke-width="0.4"/>
<rect x="411.61" y="48.1" width="3.19" height="6.55" fill="#1c76c2" stroke="#125896" stroke-width="0.4"/>
<rect x="415.19" y="48.1" width="3.19" height="6.55" fill="#1c76c2" stroke="#125896" stroke-width="0.4"/>
<rect x="418.78" y="48.1" width="3.19" height="6.55" fill="#1c76c2" stroke="#125896" stroke-width="0.4"/>
<rect x="422.36" y="48.1" width="3.19" height="6.55" fill="#1c76c2" stroke="#125896" stroke-width="0.4"/>
<rect x="425.95" y="48.1" width="3.19" height="6.55" fill="#1c76c2" stroke="#125896" stroke-width="0.4"/>
<rect x="429.53" y="48.1" width="3.19" height="6.55" fill="#1c76c2" stroke="#125896" stroke-width="0.4"/>
<rect x="433.12" y="48.1" width="3.19" height="6.55" fill="#1c76c2" stroke="#125896" stroke-width="0.4"/>
<rect x="436.7" y="48.1" width="3.19" height="6.55" fill="#1c76c2" stroke="#125896" stroke-width="0.4"/>
<rect x="440.29" y="48.1" width="3.19" height="6.55" fill="#1c76c2" stroke="#125896" stroke-width="0.4"/>
<rect x="443.87" y="48.1" width="3.19" height="6.55" fill="#1c76c2" stroke="#125896" stroke-width="0.4"/>
<rect x="447.46" y="48.1" width="3.19" height="6.55" fill="#1c76c2" stroke="#125896" stroke-width="0.4"/>
<rect x="451.05" y="48.1" width="3.19" height="6.55" fill="#1c76c2" stroke="#125896" stroke-width="0.4"/>
<rect x="454.63" y="48.1" width="3.19" height="6.55" fill="#1c76c2" stroke="#125896" stroke-width="0.4"/>
<rect x="458.21" y="48.1" width="3.19" height="6.55" fill="#1c76c2" stroke="#125896" stroke-width="0.4"/>
<rect x="461.8" y="48.1" width="3.19" height="6.55" fill="#1c76c2" stroke="#125896" stroke-width="0.4"/>
<rect x="465.38" y="48.1" width="3.19" height="6.55" fill="#1c76c2" stroke="#125896" stroke-width="0.4"/>
<rect x="468.97" y="48.1" width="3.19" height="6.55" fill="#1c76c2" stroke="#125896" stroke-width="0.4"/>
<rect x="472.56" y="48.1" width="3.19" height="6.55" fill="#1c76c2" stroke="#125896" stroke-width="0.4"/>
<rect x="476.14" y="48.1" width="3.19" height="6.55" fill="#1c76c2" stroke="#125896" stroke-width="0.4"/>
<rect x="479.72" y="48.1" width="3.19" height="6.55" fill="#1c76c2" stroke="#125896" stroke-width="0.4"/>
<rect x="483.31" y="48.1" width="3.19" height="6.55" fill="#1c76c2" stroke="#125896" stroke-width="0.4"/>
<rect x="318.4" y="55.05" width="3.19" height="6.55" fill="#1c76c2" stroke="#125896" stroke-width="0.4"/>
<rect x="321.98" y="55.05" width="3.19" height="6.55" fill="#1c76c2" stroke="#125896" stroke-width="0.4"/>
<rect x="325.57" y="55.05" width="3.19" height="6.55" fill="#1c76c2" stroke="#125896" stroke-width="0.4"/>
<rect x="329.15" y="55.05" width="3.19" height="6.55" fill="#1d7aa0" stroke="#14628a" stroke-width="0.4"/>
<rect x="332.74" y="55.05" width="3.19" height="6.55" fill="#1c76c2" stroke="#125896" stroke-width="0.4"/>
<rect x="336.32" y="55.05" width="3.19" height="6.55" fill="#1c76c2" stroke="#125896" stroke-width="0.4"/>
<rect x="339.98" y="55.13" width="3.04" height="6.41" fill="#eeeeee"/>
<rect x="343.49" y="55.05" width="3.19" height="6.55" fill="#1c76c2" stroke="#125896" stroke-width="0.4"/>
<rect x="347.08" y="55.05" width="3.19" height="6.55" fill="#1c76c2" stroke="#125896" stroke-width="0.4"/>
<rect x="350.74" y="55.13" width="3.04" height="6.41" fill="#eeeeee"/>
<rect x="354.32" y="55.13" width="3.04" height="6.41" fill="#eeeeee"/>
<rect x="357.91" y="55.13" width="3.04" height="6.41" fill="#eeeeee"/>
<rect x="361.49" y="55.13" width="3.04" height="6.41" fill="#eeeeee"/>
<rect x="365.08" y="55.13" width="3.04" height="6.41" fill="#eeeeee"/>
<rect x="368.59" y="55.05" width="3.19" height="6.55" fill="#1c76c2" stroke="#125896" stroke-width="0.4"/>
<rect x="372.25" y="55.13" width="3.04" height="6.41" fill="#eeeeee"/>
<rect x="375.76" y="55.05" width="3.19" height="6.55" fill="#1c76c2" stroke="#125896" stroke-width="0.4"/>
<rect x="379.34" y="55.05" width="3.19" height="6.55" fill="#1c76c2" stroke="#125896" stroke-width="0.4"/>
<rect x="382.93" y="55.05" width="3.19" height="6.55" fill="#1c76c2" stroke="#125896" stroke-width="0.4"/>
<rect x="386.51" y="55.05" width="3.19" height="6.55" fill="#1c76c2" stroke="#125896" stroke-width="0.4"/>
<rect x="390.1" y="55.05" width="3.19" height="6.55" fill="#1c76c2" stroke="#125896" stroke-width="0.4"/>
<rect x="393.69" y="55.05" width="3.19" height="6.55" fill="#1c76c2" stroke="#125896" stroke-width="0.4"/>
<rect x="397.34" y="55.13" width="3.04" height="6.41" fill="#eeeeee"/>
<rect x="400.93" y="55.13" width="3.04" height="6.41" fill="#eeeeee"/>
<rect x="404.51" y="55.13" width="3.04" height="6.41" fill="#eeeeee"/>
<rect x="408.1" y="55.13" width="3.04" height="6.41" fill="#eeeeee"/>
<rect x="411.68" y="55.13" width="3.04" height="6.41" fill="#eeeeee"/>
<rect x="415.27" y="55.13" width="3.04" height="6.41" fill="#eeeeee"/>
<rect x="418.85" y="55.13" width="3.04" height="6.41" fill="#eeeeee"/>
<rect x="422.44" y="55.13" width="3.04" height="6.41" fill="#eeeeee"/>
<rect x="426.02" y="55.13" width="3.04" height="6.41" fill="#eeeeee"/>
<rect x="429.61" y="55.13" width="3.04" height="6.41" fill="#eeeeee"/>
<rect x="433.19" y="55.13" width="3.04" height="6.41" fill="#eeeeee"/>
<rect x="436.78" y="55.13" width="3.04" height="6.41" fill="#eeeeee"/>
<rect x="440.36" y="55.13" width="3.04" height="6.41" fill="#eeeeee"/>
<rect x="443.87" y="55.05" width="3.19" height="6.55" fill="#1c76c2" stroke="#125896" stroke-width="0.4"/>
<rect x="447.46" y="55.05" width="3.19" height="6.55" fill="#1c76c2" stroke="#125896" stroke-width="0.4"/>
<rect x="451.05" y="55.05" width="3.19" height="6.55" fill="#1c76c2" stroke="#125896" stroke-width="0.4"/>
<rect x="454.7" y="55.13" width="3.04" height="6.41" fill="#eeeeee"/>
<rect x="458.29" y="55.13" width="3.04" height="6.41" fill="#eeeeee"/>
<rect x="461.88" y="55.13" width="3.04" height="6.41" fill="#eeeeee"/>
<rect x="465.46" y="55.13" width="3.04" height="6.41" fill="#eeeeee"/>
<rect x="469.04" y="55.13" width="3.04" height="6.41" fill="#eeeeee"/>
<rect x="472.63" y="55.13" width="3.04" height="6.41" fill="#eeeeee"/>
<rect x="476.21" y="55.13" width="3.04" height="6.41" fill="#eeeeee"/>
<rect x="479.8" y="55.13" width="3.04" height="6.41" fill="#eeeeee"/>
<rect x="483.38" y="55.13" width="3.04" height="6.41" fill="#eeeeee"/>
<rect x="318.4" y="62.01" width="3.19" height="6.55" fill="#1c76c2" stroke="#125896" stroke-width="0.4"/>
<rect x="321.98" y="62.01" width="3.19" height="6.55" fill="#1c76c2" stroke="#125896" stroke-width="0.4"/>
<rect x="325.57" y="62.01" width="3.19" height="6.55" fill="#1c76c2" stroke="#125896" stroke-width="0.4"/>
<rect x="329.23" y="62.09" width="3.04" height="6.41" fill="#eeeeee"/>
<rect x="332.74" y="62.01" width="3.19" height="6.55" fill="#1c76c2" stroke="#125896" stroke-width="0.4"/>
<rect x="336.4" y="62.09" width="3.04" height="6.41" fill="#eeeeee"/>
<rect x="339.98" y="62.09" width="3.04" height="6.41" fill="#eeeeee"/>
<rect x="343.57" y="62.09" width="3.04" height="6.41" fill="#eeeeee"/>
<rect x="347.15" y="62.09" width="3.04" height="6.41" fill="#eeeeee"/>
<rect x="350.74" y="62.09" width="3.04" height="6.41" fill="#eeeeee"/>
<rect x="354.32" y="62.09" width="3.04" height="6.41" fill="#eeeeee"/>
<rect x="357.91" y="62.09" width="3.04" height="6.41" fill="#eeeeee"/>
<rect x="361.49" y="62.09" width="3.04" height="6.41" fill="#eeeeee"/>
<rect x="365.08" y="62.09" width="3.04" height="6.41" fill="#eeeeee"/>
<rect x="368.59" y="62.01" width="3.19" height="6.55" fill="#1c76c2" stroke="#125896" stroke-width="0.4"/>
<rect x="372.25" y="62.09" width="3.04" height="6.41" fill="#eeeeee"/>
<rect x="375.76" y="62.01" width="3.19" height="6.55" fill="#1c76c2" stroke="#125896" stroke-width="0.4"/>
<rect x="379.34" y="62.01" width="3.19" height="6.55" fill="#1c76c2" stroke="#125896" stroke-width="0.4"/>
<rect x="382.93" y="62.01" width="3.19" height="6.55" fill="#1c76c2" stroke="#125896" stroke-width="0.4"/>
<rect x="386.59" y="62.09" width="3.04" height="6.41" fill="#eeeeee"/>
<rect x="390.17" y="62.09" width="3.04" height="6.41" fill="#eeeeee"/>
<rect x="393.76" y="62.09" width="3.04" height="6.41" fill="#eeeeee"/>
<rect x="397.27" y="62.01" width="3.19" height="6.55" fill="#1c76c2" stroke="#125896" stroke-width="0.4"/>
<rect x="400.85" y="62.01" width="3.19" height="6.55" fill="#1c76c2" stroke="#125896" stroke-width="0.4"/>
<rect x="404.44" y="62.01" width="3.19" height="6.55" fill="#1c76c2" stroke="#125896" stroke-width="0.4"/>
<rect x="408.02" y="62.01" width="3.19" height="6.55" fill="#1c76c2" stroke="#125896" stroke-width="0.4"/>
<rect x="411.68" y="62.09" width="3.04" height="6.41" fill="#eeeeee"/>
<rect x="415.27" y="62.09" width="3.04" height="6.41" fill="#eeeeee"/>
<rect x="418.85" y="62.09" width="3.04" height="6.41" fill="#eeeeee"/>
<rect x="422.44" y="62.09" width="3.04" height="6.41" fill="#eeeeee"/>
<rect x="426.02" y="62.09" width="3.04" height="6.41" fill="#eeeeee"/>
<rect x="429.61" y="62.09" width="3.04" height="6.41" fill="#eeeeee"/>
<rect x="433.19" y="62.09" width="3.04" height="6.41" fill="#eeeeee"/>
<rect x="436.78" y="62.09" width="3.04" height="6.41" fill="#eeeeee"/>
<rect x="440.36" y="62.09" width="3.04" height="6.41" fill="#eeeeee"/>
<rect x="443.95" y="62.09" width="3.04" height="6.41" fill="#eeeeee"/>
<rect x="447.53" y="62.09" width="3.04" height="6.41" fill="#eeeeee"/>
<rect x="451.12" y="62.09" width="3.04" height="6.41" fill="#eeeeee"/>
<rect x="454.63" y="62.01" width="3.19" height="6.55" fill="#1c76c2" stroke="#125896" stroke-width="0.4"/>
<rect x="458.29" y="62.09" width="3.04" height="6.41" fill="#eeeeee"/>
<rect x="461.88" y="62.09" width="3.04" height="6.41" fill="#eeeeee"/>
<rect x="465.46" y="62.09" width="3.04" height="6.41" fill="#eeeeee"/>
<rect x="469.04" y="62.09" width="3.04" height="6.41" fill="#eeeeee"/>
<rect x="472.63" y="62.09" width="3.04" height="6.41" fill="#eeeeee"/>
<rect x="476.21" y="62.09" width="3.04" height="6.41" fill="#eeeeee"/>
<rect x="479.8" y="62.09" width="3.04" height="6.41" fill="#eeeeee"/>
<rect x="483.38" y="62.09" width="3.04" height="6.41" fill="#eeeeee"/>
<rect x="318.47" y="69.04" width="3.04" height="6.41" fill="#eeeeee"/>
<rect x="322.06" y="69.04" width="3.04" height="6.41" fill="#eeeeee"/>
<rect x="325.64" y="69.04" width="3.04" height="6.41" fill="#eeeeee"/>
<rect x="329.23" y="69.04" width="3.04" height="6.41" fill="#eeeeee"/>
<rect x="332.81" y="69.04" width="3.04" height="6.41" fill="#eeeeee"/>
<rect x="336.4" y="69.04" width="3.04" height="6.41" fill="#eeeeee"/>
<rect x="339.91" y="68.97" width="3.19" height="6.55" fill="#1c76c2" stroke="#125896" stroke-width="0.4"/>
<rect x="343.49" y="68.97" width="3.19" height="6.55" fill="#1c76c2" stroke="#125896" stroke-width="0.4"/>
<rect x="347.15" y="69.04" width="3.04" height="6.41" fill="#eeeeee"/>
<rect x="350.74" y="69.04" width="3.04" height="6.41" fill="#eeeeee"/>
<rect x="354.32" y="69.04" width="3.04" height="6.41" fill="#eeeeee"/>
<rect x="357.91" y="69.04" width="3.04" height="6.41" fill="#eeeeee"/>
<rect x="361.49" y="69.04" width="3.04" height="6.41" fill="#eeeeee"/>
<rect x="365.08" y="69.04" width="3.04" height="6.41" fill="#eeeeee"/>
<rect x="368.59" y="68.97" width="3.19" height="6.55" fill="#1c76c2" stroke="#125896" stroke-width="0.4"/>
<rect x="372.17" y="68.97" width="3.19" height="6.55" fill="#1c76c2" stroke="#125896" stroke-width="0.4"/>
<rect x="375.83" y="69.04" width="3.04" height="6.41" fill="#eeeeee"/>
<rect x="379.42" y="69.04" width="3.04" height="6.41" fill="#eeeeee"/>
<rect x="383" y="69.04" width="3.04" height="6.41" fill="#eeeeee"/>
<rect x="386.59" y="69.04" width="3.04" height="6.41" fill="#eeeeee"/>
<rect x="390.17" y="69.04" width="3.04" height="6.41" fill="#eeeeee"/>
<rect x="393.76" y="69.04" width="3.04" height="6.41" fill="#eeeeee"/>
<rect x="397.27" y="68.97" width="3.19" height="6.55" fill="#1c76c2" stroke="#125896" stroke-width="0.4"/>
<rect x="400.85" y="68.97" width="3.19" height="6.55" fill="#1c76c2" stroke="#125896" stroke-width="0.4"/>
<rect x="404.51" y="69.04" width="3.04" height="6.41" fill="#eeeeee"/>
<rect x="408.1" y="69.04" width="3.04" height="6.41" fill="#eeeeee"/>
<rect x="411.68" y="69.04" width="3.04" height="6.41" fill="#eeeeee"/>
<rect x="415.27" y="69.04" width="3.04" height="6.41" fill="#eeeeee"/>
<rect x="418.85" y="69.04" width="3.04" height="6.41" fill="#eeeeee"/>
<rect x="422.44" y="69.04" width="3.04" height="6.41" fill="#eeeeee"/>
<rect x="426.02" y="69.04" width="3.04" height="6.41" fill="#eeeeee"/>
<rect x="429.61" y="69.04" width="3.04" height="6.41" fill="#eeeeee"/>
<rect x="433.19" y="69.04" width="3.04" height="6.41" fill="#eeeeee"/>
<rect x="436.78" y="69.04" width="3.04" height="6.41" fill="#eeeeee"/>
<rect x="440.36" y="69.04" width="3.04" height="6.41" fill="#eeeeee"/>
<rect x="443.87" y="68.97" width="3.19" height="6.55" fill="#1c76c2" stroke="#125896" stroke-width="0.4"/>
<rect x="447.46" y="68.97" width="3.19" height="6.55" fill="#1c76c2" stroke="#125896" stroke-width="0.4"/>
<rect x="451.12" y="69.04" width="3.04" height="6.41" fill="#eeeeee"/>
<rect x="454.7" y="69.04" width="3.04" height="6.41" fill="#eeeeee"/>
<rect x="458.21" y="68.97" width="3.19" height="6.55" fill="#1c76c2" stroke="#125896" stroke-width="0.4"/>
<rect x="461.8" y="68.97" width="3.19" height="6.55" fill="#1c76c2" stroke="#125896" stroke-width="0.4"/>
<rect x="465.46" y="69.04" width="3.04" height="6.41" fill="#eeeeee"/>
<rect x="469.04" y="69.04" width="3.04" height="6.41" fill="#eeeeee"/>
<rect x="472.63" y="69.04" width="3.04" height="6.41" fill="#eeeeee"/>
<rect x="476.21" y="69.04" width="3.04" height="6.41" fill="#eeeeee"/>
<rect x="479.8" y="69.04" width="3.04" height="6.41" fill="#eeeeee"/>
<rect x="483.38" y="69.04" width="3.04" height="6.41" fill="#eeeeee"/>
<rect x="318.47" y="76" width="3.04" height="6.41" fill="#eeeeee"/>
<rect x="322.06" y="76" width="3.04" height="6.41" fill="#eeeeee"/>
<rect x="325.64" y="76" width="3.04" height="6.41" fill="#eeeeee"/>
<rect x="329.23" y="76" width="3.04" height="6.41" fill="#eeeeee"/>
<rect x="332.74" y="75.92" width="3.19" height="6.55" fill="#f3773d" stroke="#e0652e" stroke-width="0.4"/>
<rect x="336.32" y="75.92" width="3.19" height="6.55" fill="#f3773d" stroke="#e0652e" stroke-width="0.4"/>
<rect x="339.98" y="76" width="3.04" height="6.41" fill="#eeeeee"/>
<rect x="343.57" y="76" width="3.04" height="6.41" fill="#eeeeee"/>
<rect x="347.15" y="76" width="3.04" height="6.41" fill="#eeeeee"/>
<rect x="350.66" y="75.92" width="3.19" height="6.55" fill="#f3773d" stroke="#e0652e" stroke-width="0.4"/>
<rect x="354.32" y="76" width="3.04" height="6.41" fill="#eeeeee"/>
<rect x="357.91" y="76" width="3.04" height="6.41" fill="#eeeeee"/>
<rect x="361.49" y="76" width="3.04" height="6.41" fill="#eeeeee"/>
<rect x="365.08" y="76" width="3.04" height="6.41" fill="#eeeeee"/>
<rect x="368.66" y="76" width="3.04" height="6.41" fill="#eeeeee"/>
<rect x="372.17" y="75.92" width="3.19" height="6.55" fill="#1c76c2" stroke="#125896" stroke-width="0.4"/>
<rect x="375.83" y="76" width="3.04" height="6.41" fill="#eeeeee"/>
<rect x="379.42" y="76" width="3.04" height="6.41" fill="#eeeeee"/>
<rect x="383" y="76" width="3.04" height="6.41" fill="#eeeeee"/>
<rect x="386.59" y="76" width="3.04" height="6.41" fill="#eeeeee"/>
<rect x="390.17" y="76" width="3.04" height="6.41" fill="#eeeeee"/>
<rect x="393.76" y="76" width="3.04" height="6.41" fill="#eeeeee"/>
<rect x="397.34" y="76" width="3.04" height="6.41" fill="#eeeeee"/>
<rect x="400.93" y="76" width="3.04" height="6.41" fill="#eeeeee"/>
<rect x="404.51" y="76" width="3.04" height="6.41" fill="#eeeeee"/>
<rect x="408.1" y="76" width="3.04" height="6.41" fill="#eeeeee"/>
<rect x="411.61" y="75.92" width="3.19" height="6.55" fill="#f3773d" stroke="#e0652e" stroke-width="0.4"/>
<rect x="415.19" y="75.92" width="3.19" height="6.55" fill="#f3773d" stroke="#e0652e" stroke-width="0.4"/>
<rect x="418.85" y="76" width="3.04" height="6.41" fill="#eeeeee"/>
<rect x="422.44" y="76" width="3.04" height="6.41" fill="#eeeeee"/>
<rect x="426.02" y="76" width="3.04" height="6.41" fill="#eeeeee"/>
<rect x="429.61" y="76" width="3.04" height="6.41" fill="#eeeeee"/>
<rect x="433.19" y="76" width="3.04" height="6.41" fill="#eeeeee"/>
<rect x="436.78" y="76" width="3.04" height="6.41" fill="#eeeeee"/>
<rect x="440.29" y="75.92" width="3.19" height="6.55" fill="#f3773d" stroke="#e0652e" stroke-width="0.4"/>
<rect x="443.95" y="76" width="3.04" height="6.41" fill="#eeeeee"/>
<rect x="447.53" y="76" width="3.04" height="6.41" fill="#eeeeee"/>
<rect x="451.12" y="76" width="3.04" height="6.41" fill="#eeeeee"/>
<rect x="454.63" y="75.92" width="3.19" height="6.55" fill="#f3773d" stroke="#e0652e" stroke-width="0.4"/>
<rect x="458.29" y="76" width="3.04" height="6.41" fill="#eeeeee"/>
<rect x="461.88" y="76" width="3.04" height="6.41" fill="#eeeeee"/>
<rect x="465.38" y="75.92" width="3.19" height="6.55" fill="#f3773d" stroke="#e0652e" stroke-width="0.4"/>
<rect x="469.04" y="76" width="3.04" height="6.41" fill="#eeeeee"/>
<rect x="472.63" y="76" width="3.04" height="6.41" fill="#eeeeee"/>
<rect x="476.21" y="76" width="3.04" height="6.41" fill="#eeeeee"/>
<rect x="479.8" y="76" width="3.04" height="6.41" fill="#eeeeee"/>
<rect x="483.38" y="76" width="3.04" height="6.41" fill="#eeeeee"/>
<rect x="318.47" y="82.95" width="3.04" height="6.41" fill="#eeeeee"/>
<rect x="322.06" y="82.95" width="3.04" height="6.41" fill="#eeeeee"/>
<rect x="325.64" y="82.95" width="3.04" height="6.41" fill="#eeeeee"/>
<rect x="329.23" y="82.95" width="3.04" height="6.41" fill="#eeeeee"/>
<rect x="332.81" y="82.95" width="3.04" height="6.41" fill="#eeeeee"/>
<rect x="336.4" y="82.95" width="3.04" height="6.41" fill="#eeeeee"/>
<rect x="339.91" y="82.88" width="3.19" height="6.55" fill="#1c76c2" stroke="#125896" stroke-width="0.4"/>
<rect x="343.57" y="82.95" width="3.04" height="6.41" fill="#eeeeee"/>
<rect x="347.08" y="82.88" width="3.19" height="6.55" fill="#1c76c2" stroke="#125896" stroke-width="0.4"/>
<rect x="350.74" y="82.95" width="3.04" height="6.41" fill="#eeeeee"/>
<rect x="354.25" y="82.88" width="3.19" height="6.55" fill="#1c76c2" stroke="#125896" stroke-width="0.4"/>
<rect x="357.91" y="82.95" width="3.04" height="6.41" fill="#eeeeee"/>
<rect x="361.49" y="82.95" width="3.04" height="6.41" fill="#eeeeee"/>
<rect x="365.08" y="82.95" width="3.04" height="6.41" fill="#eeeeee"/>
<rect x="368.66" y="82.95" width="3.04" height="6.41" fill="#eeeeee"/>
<rect x="372.17" y="82.88" width="3.19" height="6.55" fill="#1c76c2" stroke="#125896" stroke-width="0.4"/>
<rect x="375.83" y="82.95" width="3.04" height="6.41" fill="#eeeeee"/>
<rect x="379.42" y="82.95" width="3.04" height="6.41" fill="#eeeeee"/>
<rect x="383" y="82.95" width="3.04" height="6.41" fill="#eeeeee"/>
<rect x="386.51" y="82.88" width="3.19" height="6.55" fill="#1c76c2" stroke="#125896" stroke-width="0.4"/>
<rect x="390.17" y="82.95" width="3.04" height="6.41" fill="#eeeeee"/>
<rect x="393.76" y="82.95" width="3.04" height="6.41" fill="#eeeeee"/>
<rect x="397.34" y="82.95" width="3.04" height="6.41" fill="#eeeeee"/>
<rect x="400.93" y="82.95" width="3.04" height="6.41" fill="#eeeeee"/>
<rect x="404.51" y="82.95" width="3.04" height="6.41" fill="#eeeeee"/>
<rect x="408.1" y="82.95" width="3.04" height="6.41" fill="#eeeeee"/>
<rect x="411.68" y="82.95" width="3.04" height="6.41" fill="#eeeeee"/>
<rect x="415.27" y="82.95" width="3.04" height="6.41" fill="#eeeeee"/>
<rect x="418.78" y="82.88" width="3.19" height="6.55" fill="#1c76c2" stroke="#125896" stroke-width="0.4"/>
<rect x="422.36" y="82.88" width="3.19" height="6.55" fill="#1c76c2" stroke="#125896" stroke-width="0.4"/>
<rect x="426.02" y="82.95" width="3.04" height="6.41" fill="#eeeeee"/>
<rect x="429.61" y="82.95" width="3.04" height="6.41" fill="#eeeeee"/>
<rect x="433.19" y="82.95" width="3.04" height="6.41" fill="#eeeeee"/>
<rect x="436.78" y="82.95" width="3.04" height="6.41" fill="#eeeeee"/>
<rect x="440.36" y="82.95" width="3.04" height="6.41" fill="#eeeeee"/>
<rect x="443.95" y="82.95" width="3.04" height="6.41" fill="#eeeeee"/>
<rect x="447.53" y="82.95" width="3.04" height="6.41" fill="#eeeeee"/>
<rect x="451.12" y="82.95" width="3.04" height="6.41" fill="#eeeeee"/>
<rect x="454.7" y="82.95" width="3.04" height="6.41" fill="#eeeeee"/>
<rect x="458.21" y="82.88" width="3.19" height="6.55" fill="#1c76c2" stroke="#125896" stroke-width="0.4"/>
<rect x="461.88" y="82.95" width="3.04" height="6.41" fill="#eeeeee"/>
<rect x="465.46" y="82.95" width="3.04" height="6.41" fill="#eeeeee"/>
<rect x="469.04" y="82.95" width="3.04" height="6.41" fill="#eeeeee"/>
<rect x="472.63" y="82.95" width="3.04" height="6.41" fill="#eeeeee"/>
<rect x="476.21" y="82.95" width="3.04" height="6.41" fill="#eeeeee"/>
<rect x="479.8" y="82.95" width="3.04" height="6.41" fill="#eeeeee"/>
<rect x="483.38" y="82.95" width="3.04" height="6.41" fill="#eeeeee"/>
<rect x="318.47" y="89.91" width="3.04" height="6.41" fill="#eeeeee"/>
<rect x="322.06" y="89.91" width="3.04" height="6.41" fill="#eeeeee"/>
<rect x="325.64" y="89.91" width="3.04" height="6.41" fill="#eeeeee"/>
<rect x="329.23" y="89.91" width="3.04" height="6.41" fill="#eeeeee"/>
<rect x="332.81" y="89.91" width="3.04" height="6.41" fill="#eeeeee"/>
<rect x="336.4" y="89.91" width="3.04" height="6.41" fill="#eeeeee"/>
<rect x="339.98" y="89.91" width="3.04" height="6.41" fill="#eeeeee"/>
<rect x="343.57" y="89.91" width="3.04" height="6.41" fill="#eeeeee"/>
<rect x="347.15" y="89.91" width="3.04" height="6.41" fill="#eeeeee"/>
<rect x="350.74" y="89.91" width="3.04" height="6.41" fill="#eeeeee"/>
<rect x="354.25" y="89.83" width="3.19" height="6.55" fill="#1c76c2" stroke="#125896" stroke-width="0.4"/>
<rect x="357.91" y="89.91" width="3.04" height="6.41" fill="#eeeeee"/>
<rect x="361.49" y="89.91" width="3.04" height="6.41" fill="#eeeeee"/>
<rect x="365.08" y="89.91" width="3.04" height="6.41" fill="#eeeeee"/>
<rect x="368.66" y="89.91" width="3.04" height="6.41" fill="#eeeeee"/>
<rect x="372.25" y="89.91" width="3.04" height="6.41" fill="#eeeeee"/>
<rect x="375.76" y="89.83" width="3.19" height="6.55" fill="#1c76c2" stroke="#125896" stroke-width="0.4"/>
<rect x="379.42" y="89.91" width="3.04" height="6.41" fill="#eeeeee"/>
<rect x="383" y="89.91" width="3.04" height="6.41" fill="#eeeeee"/>
<rect x="386.59" y="89.91" width="3.04" height="6.41" fill="#eeeeee"/>
<rect x="390.17" y="89.91" width="3.04" height="6.41" fill="#eeeeee"/>
<rect x="393.76" y="89.91" width="3.04" height="6.41" fill="#eeeeee"/>
<rect x="397.27" y="89.83" width="3.19" height="6.55" fill="#1c76c2" stroke="#125896" stroke-width="0.4"/>
<rect x="400.93" y="89.91" width="3.04" height="6.41" fill="#eeeeee"/>
<rect x="404.51" y="89.91" width="3.04" height="6.41" fill="#eeeeee"/>
<rect x="408.1" y="89.91" width="3.04" height="6.41" fill="#eeeeee"/>
<rect x="411.68" y="89.91" width="3.04" height="6.41" fill="#eeeeee"/>
<rect x="415.27" y="89.91" width="3.04" height="6.41" fill="#eeeeee"/>
<rect x="418.78" y="89.83" width="3.19" height="6.55" fill="#1c76c2" stroke="#125896" stroke-width="0.4"/>
<rect x="422.44" y="89.91" width="3.04" height="6.41" fill="#eeeeee"/>
<rect x="425.95" y="89.83" width="3.19" height="6.55" fill="#1c76c2" stroke="#125896" stroke-width="0.4"/>
<rect x="429.53" y="89.83" width="3.19" height="6.55" fill="#1c76c2" stroke="#125896" stroke-width="0.4"/>
<rect x="433.19" y="89.91" width="3.04" height="6.41" fill="#eeeeee"/>
<rect x="436.78" y="89.91" width="3.04" height="6.41" fill="#eeeeee"/>
<rect x="440.36" y="89.91" width="3.04" height="6.41" fill="#eeeeee"/>
<rect x="443.95" y="89.91" width="3.04" height="6.41" fill="#eeeeee"/>
<rect x="447.53" y="89.91" width="3.04" height="6.41" fill="#eeeeee"/>
<rect x="451.12" y="89.91" width="3.04" height="6.41" fill="#eeeeee"/>
<rect x="454.7" y="89.91" width="3.04" height="6.41" fill="#eeeeee"/>
<rect x="458.29" y="89.91" width="3.04" height="6.41" fill="#eeeeee"/>
<rect x="461.8" y="89.83" width="3.19" height="6.55" fill="#1c76c2" stroke="#125896" stroke-width="0.4"/>
<rect x="465.46" y="89.91" width="3.04" height="6.41" fill="#eeeeee"/>
<rect x="468.97" y="89.83" width="3.19" height="6.55" fill="#1c76c2" stroke="#125896" stroke-width="0.4"/>
<rect x="472.63" y="89.91" width="3.04" height="6.41" fill="#eeeeee"/>
<rect x="476.21" y="89.91" width="3.04" height="6.41" fill="#eeeeee"/>
<rect x="479.8" y="89.91" width="3.04" height="6.41" fill="#eeeeee"/>
<rect x="483.38" y="89.91" width="3.04" height="6.41" fill="#eeeeee"/>
<rect x="318.47" y="96.86" width="3.04" height="6.41" fill="#eeeeee"/>
<rect x="322.06" y="96.86" width="3.04" height="6.41" fill="#eeeeee"/>
<rect x="325.64" y="96.86" width="3.04" height="6.41" fill="#eeeeee"/>
<rect x="329.23" y="96.86" width="3.04" height="6.41" fill="#eeeeee"/>
<rect x="332.81" y="96.86" width="3.04" height="6.41" fill="#eeeeee"/>
<rect x="336.4" y="96.86" width="3.04" height="6.41" fill="#eeeeee"/>
<rect x="339.98" y="96.86" width="3.04" height="6.41" fill="#eeeeee"/>
<rect x="343.57" y="96.86" width="3.04" height="6.41" fill="#eeeeee"/>
<rect x="347.15" y="96.86" width="3.04" height="6.41" fill="#eeeeee"/>
<rect x="350.74" y="96.86" width="3.04" height="6.41" fill="#eeeeee"/>
<rect x="354.32" y="96.86" width="3.04" height="6.41" fill="#eeeeee"/>
<rect x="357.91" y="96.86" width="3.04" height="6.41" fill="#eeeeee"/>
<rect x="361.49" y="96.86" width="3.04" height="6.41" fill="#eeeeee"/>
<rect x="365.08" y="96.86" width="3.04" height="6.41" fill="#eeeeee"/>
<rect x="368.66" y="96.86" width="3.04" height="6.41" fill="#eeeeee"/>
<rect x="372.25" y="96.86" width="3.04" height="6.41" fill="#eeeeee"/>
<rect x="375.83" y="96.86" width="3.04" height="6.41" fill="#eeeeee"/>
<rect x="379.42" y="96.86" width="3.04" height="6.41" fill="#eeeeee"/>
<rect x="383" y="96.86" width="3.04" height="6.41" fill="#eeeeee"/>
<rect x="386.59" y="96.86" width="3.04" height="6.41" fill="#eeeeee"/>
<rect x="390.17" y="96.86" width="3.04" height="6.41" fill="#eeeeee"/>
<rect x="393.76" y="96.86" width="3.04" height="6.41" fill="#eeeeee"/>
<rect x="397.34" y="96.86" width="3.04" height="6.41" fill="#eeeeee"/>
<rect x="400.85" y="96.79" width="3.19" height="6.55" fill="#1c76c2" stroke="#125896" stroke-width="0.4"/>
<rect x="404.44" y="96.79" width="3.19" height="6.55" fill="#1c76c2" stroke="#125896" stroke-width="0.4"/>
<rect x="408.1" y="96.86" width="3.04" height="6.41" fill="#eeeeee"/>
<rect x="411.68" y="96.86" width="3.04" height="6.41" fill="#eeeeee"/>
<rect x="415.27" y="96.86" width="3.04" height="6.41" fill="#eeeeee"/>
<rect x="418.85" y="96.86" width="3.04" height="6.41" fill="#eeeeee"/>
<rect x="422.44" y="96.86" width="3.04" height="6.41" fill="#eeeeee"/>
<rect x="426.02" y="96.86" width="3.04" height="6.41" fill="#eeeeee"/>
<rect x="429.61" y="96.86" width="3.04" height="6.41" fill="#eeeeee"/>
<rect x="433.12" y="96.79" width="3.19" height="6.55" fill="#1c76c2" stroke="#125896" stroke-width="0.4"/>
<rect x="436.78" y="96.86" width="3.04" height="6.41" fill="#eeeeee"/>
<rect x="440.36" y="96.86" width="3.04" height="6.41" fill="#eeeeee"/>
<rect x="443.87" y="96.79" width="3.19" height="6.55" fill="#1c76c2" stroke="#125896" stroke-width="0.4"/>
<rect x="447.53" y="96.86" width="3.04" height="6.41" fill="#eeeeee"/>
<rect x="451.12" y="96.86" width="3.04" height="6.41" fill="#eeeeee"/>
<rect x="454.7" y="96.86" width="3.04" height="6.41" fill="#eeeeee"/>
<rect x="458.21" y="96.79" width="3.19" height="6.55" fill="#1c76c2" stroke="#125896" stroke-width="0.4"/>
<rect x="461.88" y="96.86" width="3.04" height="6.41" fill="#eeeeee"/>
<rect x="465.38" y="96.79" width="3.19" height="6.55" fill="#1c76c2" stroke="#125896" stroke-width="0.4"/>
<rect x="468.97" y="96.79" width="3.19" height="6.55" fill="#1c76c2" stroke="#125896" stroke-width="0.4"/>
<rect x="472.63" y="96.86" width="3.04" height="6.41" fill="#eeeeee"/>
<rect x="476.21" y="96.86" width="3.04" height="6.41" fill="#eeeeee"/>
<rect x="479.8" y="96.86" width="3.04" height="6.41" fill="#eeeeee"/>
<rect x="483.38" y="96.86" width="3.04" height="6.41" fill="#eeeeee"/>
<rect x="318.47" y="103.81" width="3.04" height="6.41" fill="#eeeeee"/>
<rect x="322.06" y="103.81" width="3.04" height="6.41" fill="#eeeeee"/>
<rect x="325.64" y="103.81" width="3.04" height="6.41" fill="#eeeeee"/>
<rect x="329.23" y="103.81" width="3.04" height="6.41" fill="#eeeeee"/>
<rect x="332.81" y="103.81" width="3.04" height="6.41" fill="#eeeeee"/>
<rect x="336.4" y="103.81" width="3.04" height="6.41" fill="#eeeeee"/>
<rect x="339.98" y="103.81" width="3.04" height="6.41" fill="#eeeeee"/>
<rect x="343.57" y="103.81" width="3.04" height="6.41" fill="#eeeeee"/>
<rect x="347.08" y="103.74" width="3.19" height="6.55" fill="#1c76c2" stroke="#125896" stroke-width="0.4"/>
<rect x="350.74" y="103.81" width="3.04" height="6.41" fill="#eeeeee"/>
<rect x="354.32" y="103.81" width="3.04" height="6.41" fill="#eeeeee"/>
<rect x="357.91" y="103.81" width="3.04" height="6.41" fill="#eeeeee"/>
<rect x="361.49" y="103.81" width="3.04" height="6.41" fill="#eeeeee"/>
<rect x="365.08" y="103.81" width="3.04" height="6.41" fill="#eeeeee"/>
<rect x="368.66" y="103.81" width="3.04" height="6.41" fill="#eeeeee"/>
<rect x="372.25" y="103.81" width="3.04" height="6.41" fill="#eeeeee"/>
<rect x="375.76" y="103.74" width="3.19" height="6.55" fill="#1c76c2" stroke="#125896" stroke-width="0.4"/>
<rect x="379.42" y="103.81" width="3.04" height="6.41" fill="#eeeeee"/>
<rect x="383" y="103.81" width="3.04" height="6.41" fill="#eeeeee"/>
<rect x="386.59" y="103.81" width="3.04" height="6.41" fill="#eeeeee"/>
<rect x="390.17" y="103.81" width="3.04" height="6.41" fill="#eeeeee"/>
<rect x="393.76" y="103.81" width="3.04" height="6.41" fill="#eeeeee"/>
<rect x="397.34" y="103.81" width="3.04" height="6.41" fill="#eeeeee"/>
<rect x="400.93" y="103.81" width="3.04" height="6.41" fill="#eeeeee"/>
<rect x="404.51" y="103.81" width="3.04" height="6.41" fill="#eeeeee"/>
<rect x="408.1" y="103.81" width="3.04" height="6.41" fill="#eeeeee"/>
<rect x="411.61" y="103.74" width="3.19" height="6.55" fill="#1c76c2" stroke="#125896" stroke-width="0.4"/>
<rect x="415.19" y="103.74" width="3.19" height="6.55" fill="#1c76c2" stroke="#125896" stroke-width="0.4"/>
<rect x="418.85" y="103.81" width="3.04" height="6.41" fill="#eeeeee"/>
<rect x="422.44" y="103.81" width="3.04" height="6.41" fill="#eeeeee"/>
<rect x="426.02" y="103.81" width="3.04" height="6.41" fill="#eeeeee"/>
<rect x="429.61" y="103.81" width="3.04" height="6.41" fill="#eeeeee"/>
<rect x="433.19" y="103.81" width="3.04" height="6.41" fill="#eeeeee"/>
<rect x="436.78" y="103.81" width="3.04" height="6.41" fill="#eeeeee"/>
<rect x="440.36" y="103.81" width="3.04" height="6.41" fill="#eeeeee"/>
<rect x="443.95" y="103.81" width="3.04" height="6.41" fill="#eeeeee"/>
<rect x="447.53" y="103.81" width="3.04" height="6.41" fill="#eeeeee"/>
<rect x="451.12" y="103.81" width="3.04" height="6.41" fill="#eeeeee"/>
<rect x="454.7" y="103.81" width="3.04" height="6.41" fill="#eeeeee"/>
<rect x="458.29" y="103.81" width="3.04" height="6.41" fill="#eeeeee"/>
<rect x="461.88" y="103.81" width="3.04" height="6.41" fill="#eeeeee"/>
<rect x="465.38" y="103.74" width="3.19" height="6.55" fill="#1c76c2" stroke="#125896" stroke-width="0.4"/>
<rect x="468.97" y="103.74" width="3.19" height="6.55" fill="#1c76c2" stroke="#125896" stroke-width="0.4"/>
<rect x="472.63" y="103.81" width="3.04" height="6.41" fill="#eeeeee"/>
<rect x="476.21" y="103.81" width="3.04" height="6.41" fill="#eeeeee"/>
<rect x="479.8" y="103.81" width="3.04" height="6.41" fill="#eeeeee"/>
<rect x="483.38" y="103.81" width="3.04" height="6.41" fill="#eeeeee"/>
<rect x="318.47" y="110.77" width="3.04" height="6.41" fill="#eeeeee"/>
<rect x="322.06" y="110.77" width="3.04" height="6.41" fill="#eeeeee"/>
<rect x="325.64" y="110.77" width="3.04" height="6.41" fill="#eeeeee"/>
<rect x="329.23" y="110.77" width="3.04" height="6.41" fill="#eeeeee"/>
<rect x="332.81" y="110.77" width="3.04" height="6.41" fill="#eeeeee"/>
<rect x="336.32" y="110.7" width="3.19" height="6.55" fill="#1c76c2" stroke="#125896" stroke-width="0.4"/>
<rect x="339.98" y="110.77" width="3.04" height="6.41" fill="#eeeeee"/>
<rect x="343.57" y="110.77" width="3.04" height="6.41" fill="#eeeeee"/>
<rect x="347.15" y="110.77" width="3.04" height="6.41" fill="#eeeeee"/>
<rect x="350.74" y="110.77" width="3.04" height="6.41" fill="#eeeeee"/>
<rect x="354.32" y="110.77" width="3.04" height="6.41" fill="#eeeeee"/>
<rect x="357.83" y="110.7" width="3.19" height="6.55" fill="#1c76c2" stroke="#125896" stroke-width="0.4"/>
<rect x="361.49" y="110.77" width="3.04" height="6.41" fill="#eeeeee"/>
<rect x="365.08" y="110.77" width="3.04" height="6.41" fill="#eeeeee"/>
<rect x="368.66" y="110.77" width="3.04" height="6.41" fill="#eeeeee"/>
<rect x="372.25" y="110.77" width="3.04" height="6.41" fill="#eeeeee"/>
<rect x="375.76" y="110.7" width="3.19" height="6.55" fill="#1c76c2" stroke="#125896" stroke-width="0.4"/>
<rect x="379.34" y="110.7" width="3.19" height="6.55" fill="#1c76c2" stroke="#125896" stroke-width="0.4"/>
<rect x="383" y="110.77" width="3.04" height="6.41" fill="#eeeeee"/>
<rect x="386.59" y="110.77" width="3.04" height="6.41" fill="#eeeeee"/>
<rect x="390.17" y="110.77" width="3.04" height="6.41" fill="#eeeeee"/>
<rect x="393.76" y="110.77" width="3.04" height="6.41" fill="#eeeeee"/>
<rect x="397.27" y="110.7" width="3.19" height="6.55" fill="#1c76c2" stroke="#125896" stroke-width="0.4"/>
<rect x="400.93" y="110.77" width="3.04" height="6.41" fill="#eeeeee"/>
<rect x="404.51" y="110.77" width="3.04" height="6.41" fill="#eeeeee"/>
<rect x="408.1" y="110.77" width="3.04" height="6.41" fill="#eeeeee"/>
<rect x="411.68" y="110.77" width="3.04" height="6.41" fill="#eeeeee"/>
<rect x="415.27" y="110.77" width="3.04" height="6.41" fill="#eeeeee"/>
<rect x="418.85" y="110.77" width="3.04" height="6.41" fill="#eeeeee"/>
<rect x="422.44" y="110.77" width="3.04" height="6.41" fill="#eeeeee"/>
<rect x="426.02" y="110.77" width="3.04" height="6.41" fill="#eeeeee"/>
<rect x="429.61" y="110.77" width="3.04" height="6.41" fill="#eeeeee"/>
<rect x="433.19" y="110.77" width="3.04" height="6.41" fill="#eeeeee"/>
<rect x="436.78" y="110.77" width="3.04" height="6.41" fill="#eeeeee"/>
<rect x="440.36" y="110.77" width="3.04" height="6.41" fill="#eeeeee"/>
<rect x="443.95" y="110.77" width="3.04" height="6.41" fill="#eeeeee"/>
<rect x="447.53" y="110.77" width="3.04" height="6.41" fill="#eeeeee"/>
<rect x="451.12" y="110.77" width="3.04" height="6.41" fill="#eeeeee"/>
<rect x="454.7" y="110.77" width="3.04" height="6.41" fill="#eeeeee"/>
<rect x="458.21" y="110.7" width="3.19" height="6.55" fill="#1c76c2" stroke="#125896" stroke-width="0.4"/>
<rect x="461.88" y="110.77" width="3.04" height="6.41" fill="#eeeeee"/>
<rect x="465.46" y="110.77" width="3.04" height="6.41" fill="#eeeeee"/>
<rect x="469.04" y="110.77" width="3.04" height="6.41" fill="#eeeeee"/>
<rect x="472.63" y="110.77" width="3.04" height="6.41" fill="#eeeeee"/>
<rect x="476.21" y="110.77" width="3.04" height="6.41" fill="#eeeeee"/>
<rect x="479.8" y="110.77" width="3.04" height="6.41" fill="#eeeeee"/>
<rect x="483.38" y="110.77" width="3.04" height="6.41" fill="#eeeeee"/>
<rect x="318.47" y="117.72" width="3.04" height="6.41" fill="#eeeeee"/>
<rect x="322.06" y="117.72" width="3.04" height="6.41" fill="#eeeeee"/>
<rect x="325.64" y="117.72" width="3.04" height="6.41" fill="#eeeeee"/>
<rect x="329.23" y="117.72" width="3.04" height="6.41" fill="#eeeeee"/>
<rect x="332.81" y="117.72" width="3.04" height="6.41" fill="#eeeeee"/>
<rect x="336.4" y="117.72" width="3.04" height="6.41" fill="#eeeeee"/>
<rect x="339.98" y="117.72" width="3.04" height="6.41" fill="#eeeeee"/>
<rect x="343.57" y="117.72" width="3.04" height="6.41" fill="#eeeeee"/>
<rect x="347.15" y="117.72" width="3.04" height="6.41" fill="#eeeeee"/>
<rect x="350.74" y="117.72" width="3.04" height="6.41" fill="#eeeeee"/>
<rect x="354.32" y="117.72" width="3.04" height="6.41" fill="#eeeeee"/>
<rect x="357.91" y="117.72" width="3.04" height="6.41" fill="#eeeeee"/>
<rect x="361.49" y="117.72" width="3.04" height="6.41" fill="#eeeeee"/>
<rect x="365.08" y="117.72" width="3.04" height="6.41" fill="#eeeeee"/>
<rect x="368.66" y="117.72" width="3.04" height="6.41" fill="#eeeeee"/>
<rect x="372.25" y="117.72" width="3.04" height="6.41" fill="#eeeeee"/>
<rect x="375.83" y="117.72" width="3.04" height="6.41" fill="#eeeeee"/>
<rect x="379.42" y="117.72" width="3.04" height="6.41" fill="#eeeeee"/>
<rect x="383" y="117.72" width="3.04" height="6.41" fill="#eeeeee"/>
<rect x="386.59" y="117.72" width="3.04" height="6.41" fill="#eeeeee"/>
<rect x="390.17" y="117.72" width="3.04" height="6.41" fill="#eeeeee"/>
<rect x="393.76" y="117.72" width="3.04" height="6.41" fill="#eeeeee"/>
<rect x="397.34" y="117.72" width="3.04" height="6.41" fill="#eeeeee"/>
<rect x="400.93" y="117.72" width="3.04" height="6.41" fill="#eeeeee"/>
<rect x="404.51" y="117.72" width="3.04" height="6.41" fill="#eeeeee"/>
<rect x="408.1" y="117.72" width="3.04" height="6.41" fill="#eeeeee"/>
<rect x="411.68" y="117.72" width="3.04" height="6.41" fill="#eeeeee"/>
<rect x="415.27" y="117.72" width="3.04" height="6.41" fill="#eeeeee"/>
<rect x="418.85" y="117.72" width="3.04" height="6.41" fill="#eeeeee"/>
<rect x="422.44" y="117.72" width="3.04" height="6.41" fill="#eeeeee"/>
<rect x="426.02" y="117.72" width="3.04" height="6.41" fill="#eeeeee"/>
<rect x="429.61" y="117.72" width="3.04" height="6.41" fill="#eeeeee"/>
<rect x="433.19" y="117.72" width="3.04" height="6.41" fill="#eeeeee"/>
<rect x="436.78" y="117.72" width="3.04" height="6.41" fill="#eeeeee"/>
<rect x="440.36" y="117.72" width="3.04" height="6.41" fill="#eeeeee"/>
<rect x="443.95" y="117.72" width="3.04" height="6.41" fill="#eeeeee"/>
<rect x="447.53" y="117.72" width="3.04" height="6.41" fill="#eeeeee"/>
<rect x="451.05" y="117.65" width="3.19" height="6.55" fill="#111111" stroke="#111" stroke-width="0.4"/>
<rect x="454.7" y="117.72" width="3.04" height="6.41" fill="#eeeeee"/>
<rect x="458.21" y="117.65" width="3.19" height="6.55" fill="#1c76c2" stroke="#125896" stroke-width="0.4"/>
<rect x="461.8" y="117.65" width="3.19" height="6.55" fill="#1c76c2" stroke="#125896" stroke-width="0.4"/>
<rect x="465.46" y="117.72" width="3.04" height="6.41" fill="#eeeeee"/>
<rect x="469.04" y="117.72" width="3.04" height="6.41" fill="#eeeeee"/>
<rect x="472.56" y="117.65" width="3.19" height="6.55" fill="#111111" stroke="#111" stroke-width="0.4"/>
<rect x="476.14" y="117.65" width="3.19" height="6.55" fill="#111111" stroke="#111" stroke-width="0.4"/>
<rect x="479.8" y="117.72" width="3.04" height="6.41" fill="#eeeeee"/>
<rect x="483.38" y="117.72" width="3.04" height="6.41" fill="#eeeeee"/>
<rect x="318.47" y="124.68" width="3.04" height="6.41" fill="#eeeeee"/>
<rect x="322.06" y="124.68" width="3.04" height="6.41" fill="#eeeeee"/>
<rect x="325.64" y="124.68" width="3.04" height="6.41" fill="#eeeeee"/>
<rect x="329.23" y="124.68" width="3.04" height="6.41" fill="#eeeeee"/>
<rect x="332.81" y="124.68" width="3.04" height="6.41" fill="#eeeeee"/>
<rect x="336.4" y="124.68" width="3.04" height="6.41" fill="#eeeeee"/>
<rect x="339.98" y="124.68" width="3.04" height="6.41" fill="#eeeeee"/>
<rect x="343.57" y="124.68" width="3.04" height="6.41" fill="#eeeeee"/>
<rect x="347.15" y="124.68" width="3.04" height="6.41" fill="#eeeeee"/>
<rect x="350.74" y="124.68" width="3.04" height="6.41" fill="#eeeeee"/>
<rect x="354.32" y="124.68" width="3.04" height="6.41" fill="#eeeeee"/>
<rect x="357.91" y="124.68" width="3.04" height="6.41" fill="#eeeeee"/>
<rect x="361.49" y="124.68" width="3.04" height="6.41" fill="#eeeeee"/>
<rect x="365.08" y="124.68" width="3.04" height="6.41" fill="#eeeeee"/>
<rect x="368.66" y="124.68" width="3.04" height="6.41" fill="#eeeeee"/>
<rect x="372.25" y="124.68" width="3.04" height="6.41" fill="#eeeeee"/>
<rect x="375.83" y="124.68" width="3.04" height="6.41" fill="#eeeeee"/>
<rect x="379.42" y="124.68" width="3.04" height="6.41" fill="#eeeeee"/>
<rect x="383" y="124.68" width="3.04" height="6.41" fill="#eeeeee"/>
<rect x="386.59" y="124.68" width="3.04" height="6.41" fill="#eeeeee"/>
<rect x="390.17" y="124.68" width="3.04" height="6.41" fill="#eeeeee"/>
<rect x="393.76" y="124.68" width="3.04" height="6.41" fill="#eeeeee"/>
<rect x="397.34" y="124.68" width="3.04" height="6.41" fill="#eeeeee"/>
<rect x="400.93" y="124.68" width="3.04" height="6.41" fill="#eeeeee"/>
<rect x="404.51" y="124.68" width="3.04" height="6.41" fill="#eeeeee"/>
<rect x="408.1" y="124.68" width="3.04" height="6.41" fill="#eeeeee"/>
<rect x="411.68" y="124.68" width="3.04" height="6.41" fill="#eeeeee"/>
<rect x="415.27" y="124.68" width="3.04" height="6.41" fill="#eeeeee"/>
<rect x="418.85" y="124.68" width="3.04" height="6.41" fill="#eeeeee"/>
<rect x="422.44" y="124.68" width="3.04" height="6.41" fill="#eeeeee"/>
<rect x="426.02" y="124.68" width="3.04" height="6.41" fill="#eeeeee"/>
<rect x="429.61" y="124.68" width="3.04" height="6.41" fill="#eeeeee"/>
<rect x="433.12" y="124.61" width="3.19" height="6.55" fill="#1c76c2" stroke="#125896" stroke-width="0.4"/>
<rect x="436.78" y="124.68" width="3.04" height="6.41" fill="#eeeeee"/>
<rect x="440.36" y="124.68" width="3.04" height="6.41" fill="#eeeeee"/>
<rect x="443.87" y="124.61" width="3.19" height="6.55" fill="#1c76c2" stroke="#125896" stroke-width="0.4"/>
<rect x="447.46" y="124.61" width="3.19" height="6.55" fill="#1c76c2" stroke="#125896" stroke-width="0.4"/>
<rect x="451.05" y="124.61" width="3.19" height="6.55" fill="#1c76c2" stroke="#125896" stroke-width="0.4"/>
<rect x="454.7" y="124.68" width="3.04" height="6.41" fill="#eeeeee"/>
<rect x="458.29" y="124.68" width="3.04" height="6.41" fill="#eeeeee"/>
<rect x="461.8" y="124.61" width="3.19" height="6.55" fill="#1c76c2" stroke="#125896" stroke-width="0.4"/>
<rect x="465.46" y="124.68" width="3.04" height="6.41" fill="#eeeeee"/>
<rect x="469.04" y="124.68" width="3.04" height="6.41" fill="#eeeeee"/>
<rect x="472.63" y="124.68" width="3.04" height="6.41" fill="#eeeeee"/>
<rect x="476.21" y="124.68" width="3.04" height="6.41" fill="#eeeeee"/>
<rect x="479.8" y="124.68" width="3.04" height="6.41" fill="#eeeeee"/>
<rect x="483.38" y="124.68" width="3.04" height="6.41" fill="#eeeeee"/>
<rect x="318.4" y="131.56" width="3.19" height="6.55" fill="#1c76c2" stroke="#125896" stroke-width="0.4"/>
<rect x="322.06" y="131.64" width="3.04" height="6.41" fill="#eeeeee"/>
<rect x="325.64" y="131.64" width="3.04" height="6.41" fill="#eeeeee"/>
<rect x="329.23" y="131.64" width="3.04" height="6.41" fill="#eeeeee"/>
<rect x="332.81" y="131.64" width="3.04" height="6.41" fill="#eeeeee"/>
<rect x="336.4" y="131.64" width="3.04" height="6.41" fill="#eeeeee"/>
<rect x="339.98" y="131.64" width="3.04" height="6.41" fill="#eeeeee"/>
<rect x="343.57" y="131.64" width="3.04" height="6.41" fill="#eeeeee"/>
<rect x="347.15" y="131.64" width="3.04" height="6.41" fill="#eeeeee"/>
<rect x="350.74" y="131.64" width="3.04" height="6.41" fill="#eeeeee"/>
<rect x="354.32" y="131.64" width="3.04" height="6.41" fill="#eeeeee"/>
<rect x="357.91" y="131.64" width="3.04" height="6.41" fill="#eeeeee"/>
<rect x="361.49" y="131.64" width="3.04" height="6.41" fill="#eeeeee"/>
<rect x="365.08" y="131.64" width="3.04" height="6.41" fill="#eeeeee"/>
<rect x="368.59" y="131.56" width="3.19" height="6.55" fill="#1c76c2" stroke="#125896" stroke-width="0.4"/>
<rect x="372.25" y="131.64" width="3.04" height="6.41" fill="#eeeeee"/>
<rect x="375.83" y="131.64" width="3.04" height="6.41" fill="#eeeeee"/>
<rect x="379.42" y="131.64" width="3.04" height="6.41" fill="#eeeeee"/>
<rect x="383" y="131.64" width="3.04" height="6.41" fill="#eeeeee"/>
<rect x="386.59" y="131.64" width="3.04" height="6.41" fill="#eeeeee"/>
<rect x="390.17" y="131.64" width="3.04" height="6.41" fill="#eeeeee"/>
<rect x="393.76" y="131.64" width="3.04" height="6.41" fill="#eeeeee"/>
<rect x="397.34" y="131.64" width="3.04" height="6.41" fill="#eeeeee"/>
<rect x="400.93" y="131.64" width="3.04" height="6.41" fill="#eeeeee"/>
<rect x="404.51" y="131.64" width="3.04" height="6.41" fill="#eeeeee"/>
<rect x="408.02" y="131.56" width="3.19" height="6.55" fill="#1c76c2" stroke="#125896" stroke-width="0.4"/>
<rect x="411.68" y="131.64" width="3.04" height="6.41" fill="#eeeeee"/>
<rect x="415.27" y="131.64" width="3.04" height="6.41" fill="#eeeeee"/>
<rect x="418.85" y="131.64" width="3.04" height="6.41" fill="#eeeeee"/>
<rect x="422.44" y="131.64" width="3.04" height="6.41" fill="#eeeeee"/>
<rect x="426.02" y="131.64" width="3.04" height="6.41" fill="#eeeeee"/>
<rect x="429.61" y="131.64" width="3.04" height="6.41" fill="#eeeeee"/>
<rect x="433.12" y="131.56" width="3.19" height="6.55" fill="#1c76c2" stroke="#125896" stroke-width="0.4"/>
<rect x="436.78" y="131.64" width="3.04" height="6.41" fill="#eeeeee"/>
<rect x="440.36" y="131.64" width="3.04" height="6.41" fill="#eeeeee"/>
<rect x="443.95" y="131.64" width="3.04" height="6.41" fill="#eeeeee"/>
<rect x="447.53" y="131.64" width="3.04" height="6.41" fill="#eeeeee"/>
<rect x="451.12" y="131.64" width="3.04" height="6.41" fill="#eeeeee"/>
<rect x="454.63" y="131.56" width="3.19" height="6.55" fill="#1c76c2" stroke="#125896" stroke-width="0.4"/>
<rect x="458.29" y="131.64" width="3.04" height="6.41" fill="#eeeeee"/>
<rect x="461.88" y="131.64" width="3.04" height="6.41" fill="#eeeeee"/>
<rect x="465.46" y="131.64" width="3.04" height="6.41" fill="#eeeeee"/>
<rect x="469.04" y="131.64" width="3.04" height="6.41" fill="#eeeeee"/>
<rect x="472.63" y="131.64" width="3.04" height="6.41" fill="#eeeeee"/>
<rect x="476.21" y="131.64" width="3.04" height="6.41" fill="#eeeeee"/>
<rect x="479.8" y="131.64" width="3.04" height="6.41" fill="#eeeeee"/>
<rect x="483.38" y="131.64" width="3.04" height="6.41" fill="#eeeeee"/>
<rect x="318.47" y="138.59" width="3.04" height="6.41" fill="#eeeeee"/>
<rect x="322.06" y="138.59" width="3.04" height="6.41" fill="#eeeeee"/>
<rect x="325.64" y="138.59" width="3.04" height="6.41" fill="#eeeeee"/>
<rect x="329.15" y="138.51" width="3.19" height="6.55" fill="#1c76c2" stroke="#125896" stroke-width="0.4"/>
<rect x="332.81" y="138.59" width="3.04" height="6.41" fill="#eeeeee"/>
<rect x="336.4" y="138.59" width="3.04" height="6.41" fill="#eeeeee"/>
<rect x="339.98" y="138.59" width="3.04" height="6.41" fill="#eeeeee"/>
<rect x="343.57" y="138.59" width="3.04" height="6.41" fill="#eeeeee"/>
<rect x="347.15" y="138.59" width="3.04" height="6.41" fill="#eeeeee"/>
<rect x="350.74" y="138.59" width="3.04" height="6.41" fill="#eeeeee"/>
<rect x="354.32" y="138.59" width="3.04" height="6.41" fill="#eeeeee"/>
<rect x="357.91" y="138.59" width="3.04" height="6.41" fill="#eeeeee"/>
<rect x="361.49" y="138.59" width="3.04" height="6.41" fill="#eeeeee"/>
<rect x="365.08" y="138.59" width="3.04" height="6.41" fill="#eeeeee"/>
<rect x="368.66" y="138.59" width="3.04" height="6.41" fill="#eeeeee"/>
<rect x="372.25" y="138.59" width="3.04" height="6.41" fill="#eeeeee"/>
<rect x="375.76" y="138.51" width="3.19" height="6.55" fill="#1c76c2" stroke="#125896" stroke-width="0.4"/>
<rect x="379.34" y="138.51" width="3.19" height="6.55" fill="#1c76c2" stroke="#125896" stroke-width="0.4"/>
<rect x="383" y="138.59" width="3.04" height="6.41" fill="#eeeeee"/>
<rect x="386.59" y="138.59" width="3.04" height="6.41" fill="#eeeeee"/>
<rect x="390.17" y="138.59" width="3.04" height="6.41" fill="#eeeeee"/>
<rect x="393.76" y="138.59" width="3.04" height="6.41" fill="#eeeeee"/>
<rect x="397.34" y="138.59" width="3.04" height="6.41" fill="#eeeeee"/>
<rect x="400.85" y="138.51" width="3.19" height="6.55" fill="#1c76c2" stroke="#125896" stroke-width="0.4"/>
<rect x="404.44" y="138.51" width="3.19" height="6.55" fill="#1c76c2" stroke="#125896" stroke-width="0.4"/>
<rect x="408.1" y="138.59" width="3.04" height="6.41" fill="#eeeeee"/>
<rect x="411.68" y="138.59" width="3.04" height="6.41" fill="#eeeeee"/>
<rect x="415.27" y="138.59" width="3.04" height="6.41" fill="#eeeeee"/>
<rect x="418.85" y="138.59" width="3.04" height="6.41" fill="#eeeeee"/>
<rect x="422.44" y="138.59" width="3.04" height="6.41" fill="#eeeeee"/>
<rect x="426.02" y="138.59" width="3.04" height="6.41" fill="#eeeeee"/>
<rect x="429.61" y="138.59" width="3.04" height="6.41" fill="#eeeeee"/>
<rect x="433.19" y="138.59" width="3.04" height="6.41" fill="#eeeeee"/>
<rect x="436.78" y="138.59" width="3.04" height="6.41" fill="#eeeeee"/>
<rect x="440.36" y="138.59" width="3.04" height="6.41" fill="#eeeeee"/>
<rect x="443.95" y="138.59" width="3.04" height="6.41" fill="#eeeeee"/>
<rect x="447.53" y="138.59" width="3.04" height="6.41" fill="#eeeeee"/>
<rect x="451.12" y="138.59" width="3.04" height="6.41" fill="#eeeeee"/>
<rect x="454.7" y="138.59" width="3.04" height="6.41" fill="#eeeeee"/>
<rect x="458.29" y="138.59" width="3.04" height="6.41" fill="#eeeeee"/>
<rect x="461.88" y="138.59" width="3.04" height="6.41" fill="#eeeeee"/>
<rect x="465.46" y="138.59" width="3.04" height="6.41" fill="#eeeeee"/>
<rect x="469.04" y="138.59" width="3.04" height="6.41" fill="#eeeeee"/>
<rect x="472.63" y="138.59" width="3.04" height="6.41" fill="#eeeeee"/>
<rect x="476.21" y="138.59" width="3.04" height="6.41" fill="#eeeeee"/>
<rect x="479.8" y="138.59" width="3.04" height="6.41" fill="#eeeeee"/>
<rect x="483.38" y="138.59" width="3.04" height="6.41" fill="#eeeeee"/>
<rect x="318.47" y="145.55" width="3.04" height="6.41" fill="#eeeeee"/>
<rect x="322.06" y="145.55" width="3.04" height="6.41" fill="#eeeeee"/>
<rect x="325.64" y="145.55" width="3.04" height="6.41" fill="#eeeeee"/>
<rect x="329.23" y="145.55" width="3.04" height="6.41" fill="#eeeeee"/>
<rect x="332.81" y="145.55" width="3.04" height="6.41" fill="#eeeeee"/>
<rect x="336.4" y="145.55" width="3.04" height="6.41" fill="#eeeeee"/>
<rect x="339.98" y="145.55" width="3.04" height="6.41" fill="#eeeeee"/>
<rect x="343.49" y="145.47" width="3.19" height="6.55" fill="#1c76c2" stroke="#125896" stroke-width="0.4"/>
<rect x="347.15" y="145.55" width="3.04" height="6.41" fill="#eeeeee"/>
<rect x="350.74" y="145.55" width="3.04" height="6.41" fill="#eeeeee"/>
<rect x="354.32" y="145.55" width="3.04" height="6.41" fill="#eeeeee"/>
<rect x="357.83" y="145.47" width="3.19" height="6.55" fill="#1c76c2" stroke="#125896" stroke-width="0.4"/>
<rect x="361.49" y="145.55" width="3.04" height="6.41" fill="#eeeeee"/>
<rect x="365.08" y="145.55" width="3.04" height="6.41" fill="#eeeeee"/>
<rect x="368.66" y="145.55" width="3.04" height="6.41" fill="#eeeeee"/>
<rect x="372.25" y="145.55" width="3.04" height="6.41" fill="#eeeeee"/>
<rect x="375.83" y="145.55" width="3.04" height="6.41" fill="#eeeeee"/>
<rect x="379.42" y="145.55" width="3.04" height="6.41" fill="#eeeeee"/>
<rect x="383" y="145.55" width="3.04" height="6.41" fill="#eeeeee"/>
<rect x="386.59" y="145.55" width="3.04" height="6.41" fill="#eeeeee"/>
<rect x="390.17" y="145.55" width="3.04" height="6.41" fill="#eeeeee"/>
<rect x="393.76" y="145.55" width="3.04" height="6.41" fill="#eeeeee"/>
<rect x="397.34" y="145.55" width="3.04" height="6.41" fill="#eeeeee"/>
<rect x="400.93" y="145.55" width="3.04" height="6.41" fill="#eeeeee"/>
<rect x="404.44" y="145.47" width="3.19" height="6.55" fill="#1c76c2" stroke="#125896" stroke-width="0.4"/>
<rect x="408.02" y="145.47" width="3.19" height="6.55" fill="#1c76c2" stroke="#125896" stroke-width="0.4"/>
<rect x="411.68" y="145.55" width="3.04" height="6.41" fill="#eeeeee"/>
<rect x="415.27" y="145.55" width="3.04" height="6.41" fill="#eeeeee"/>
<rect x="418.85" y="145.55" width="3.04" height="6.41" fill="#eeeeee"/>
<rect x="422.44" y="145.55" width="3.04" height="6.41" fill="#eeeeee"/>
<rect x="426.02" y="145.55" width="3.04" height="6.41" fill="#eeeeee"/>
<rect x="429.61" y="145.55" width="3.04" height="6.41" fill="#eeeeee"/>
<rect x="433.19" y="145.55" width="3.04" height="6.41" fill="#eeeeee"/>
<rect x="436.78" y="145.55" width="3.04" height="6.41" fill="#eeeeee"/>
<rect x="440.36" y="145.55" width="3.04" height="6.41" fill="#eeeeee"/>
<rect x="443.95" y="145.55" width="3.04" height="6.41" fill="#eeeeee"/>
<rect x="447.53" y="145.55" width="3.04" height="6.41" fill="#eeeeee"/>
<rect x="451.12" y="145.55" width="3.04" height="6.41" fill="#eeeeee"/>
<rect x="454.7" y="145.55" width="3.04" height="6.41" fill="#eeeeee"/>
<rect x="458.29" y="145.55" width="3.04" height="6.41" fill="#eeeeee"/>
<rect x="461.88" y="145.55" width="3.04" height="6.41" fill="#eeeeee"/>
<rect x="465.46" y="145.55" width="3.04" height="6.41" fill="#eeeeee"/>
<rect x="469.04" y="145.55" width="3.04" height="6.41" fill="#eeeeee"/>
<rect x="472.63" y="145.55" width="3.04" height="6.41" fill="#eeeeee"/>
<rect x="476.21" y="145.55" width="3.04" height="6.41" fill="#eeeeee"/>
<rect x="479.8" y="145.55" width="3.04" height="6.41" fill="#eeeeee"/>
<rect x="483.38" y="145.55" width="3.04" height="6.41" fill="#eeeeee"/>
<rect x="318.47" y="152.5" width="3.04" height="6.41" fill="#eeeeee"/>
<rect x="322.06" y="152.5" width="3.04" height="6.41" fill="#eeeeee"/>
<rect x="325.64" y="152.5" width="3.04" height="6.41" fill="#eeeeee"/>
<rect x="329.23" y="152.5" width="3.04" height="6.41" fill="#eeeeee"/>
<rect x="332.81" y="152.5" width="3.04" height="6.41" fill="#eeeeee"/>
<rect x="336.4" y="152.5" width="3.04" height="6.41" fill="#eeeeee"/>
<rect x="339.98" y="152.5" width="3.04" height="6.41" fill="#eeeeee"/>
<rect x="343.57" y="152.5" width="3.04" height="6.41" fill="#eeeeee"/>
<rect x="347.15" y="152.5" width="3.04" height="6.41" fill="#eeeeee"/>
<rect x="350.74" y="152.5" width="3.04" height="6.41" fill="#eeeeee"/>
<rect x="354.32" y="152.5" width="3.04" height="6.41" fill="#eeeeee"/>
<rect x="357.91" y="152.5" width="3.04" height="6.41" fill="#eeeeee"/>
<rect x="361.49" y="152.5" width="3.04" height="6.41" fill="#eeeeee"/>
<rect x="365.08" y="152.5" width="3.04" height="6.41" fill="#eeeeee"/>
<rect x="368.66" y="152.5" width="3.04" height="6.41" fill="#eeeeee"/>
<rect x="372.25" y="152.5" width="3.04" height="6.41" fill="#eeeeee"/>
<rect x="375.83" y="152.5" width="3.04" height="6.41" fill="#eeeeee"/>
<rect x="379.42" y="152.5" width="3.04" height="6.41" fill="#eeeeee"/>
<rect x="383" y="152.5" width="3.04" height="6.41" fill="#eeeeee"/>
<rect x="386.59" y="152.5" width="3.04" height="6.41" fill="#eeeeee"/>
<rect x="390.17" y="152.5" width="3.04" height="6.41" fill="#eeeeee"/>
<rect x="393.76" y="152.5" width="3.04" height="6.41" fill="#eeeeee"/>
<rect x="397.34" y="152.5" width="3.04" height="6.41" fill="#eeeeee"/>
<rect x="400.93" y="152.5" width="3.04" height="6.41" fill="#eeeeee"/>
<rect x="404.51" y="152.5" width="3.04" height="6.41" fill="#eeeeee"/>
<rect x="408.1" y="152.5" width="3.04" height="6.41" fill="#eeeeee"/>
<rect x="411.61" y="152.42" width="3.19" height="6.55" fill="#1c76c2" stroke="#125896" stroke-width="0.4"/>
<rect x="415.27" y="152.5" width="3.04" height="6.41" fill="#eeeeee"/>
<rect x="418.85" y="152.5" width="3.04" height="6.41" fill="#eeeeee"/>
<rect x="422.44" y="152.5" width="3.04" height="6.41" fill="#eeeeee"/>
<rect x="426.02" y="152.5" width="3.04" height="6.41" fill="#eeeeee"/>
<rect x="429.61" y="152.5" width="3.04" height="6.41" fill="#eeeeee"/>
<rect x="433.19" y="152.5" width="3.04" height="6.41" fill="#eeeeee"/>
<rect x="436.78" y="152.5" width="3.04" height="6.41" fill="#eeeeee"/>
<rect x="440.36" y="152.5" width="3.04" height="6.41" fill="#eeeeee"/>
<rect x="443.95" y="152.5" width="3.04" height="6.41" fill="#eeeeee"/>
<rect x="447.53" y="152.5" width="3.04" height="6.41" fill="#eeeeee"/>
<rect x="451.12" y="152.5" width="3.04" height="6.41" fill="#eeeeee"/>
<rect x="454.7" y="152.5" width="3.04" height="6.41" fill="#eeeeee"/>
<rect x="458.21" y="152.42" width="3.19" height="6.55" fill="#1c76c2" stroke="#125896" stroke-width="0.4"/>
<rect x="461.88" y="152.5" width="3.04" height="6.41" fill="#eeeeee"/>
<rect x="465.46" y="152.5" width="3.04" height="6.41" fill="#eeeeee"/>
<rect x="469.04" y="152.5" width="3.04" height="6.41" fill="#eeeeee"/>
<rect x="472.63" y="152.5" width="3.04" height="6.41" fill="#eeeeee"/>
<rect x="476.21" y="152.5" width="3.04" height="6.41" fill="#eeeeee"/>
<rect x="479.72" y="152.42" width="3.19" height="6.55" fill="#1c76c2" stroke="#125896" stroke-width="0.4"/>
<rect x="483.31" y="152.42" width="3.19" height="6.55" fill="#1c76c2" stroke="#125896" stroke-width="0.4"/>
<rect x="318.47" y="159.46" width="3.04" height="6.41" fill="#eeeeee"/>
<rect x="322.06" y="159.46" width="3.04" height="6.41" fill="#eeeeee"/>
<rect x="325.64" y="159.46" width="3.04" height="6.41" fill="#eeeeee"/>
<rect x="329.23" y="159.46" width="3.04" height="6.41" fill="#eeeeee"/>
<rect x="332.81" y="159.46" width="3.04" height="6.41" fill="#eeeeee"/>
<rect x="336.32" y="159.38" width="3.19" height="6.55" fill="#1c76c2" stroke="#125896" stroke-width="0.4"/>
<rect x="339.98" y="159.46" width="3.04" height="6.41" fill="#eeeeee"/>
<rect x="343.57" y="159.46" width="3.04" height="6.41" fill="#eeeeee"/>
<rect x="347.15" y="159.46" width="3.04" height="6.41" fill="#eeeeee"/>
<rect x="350.74" y="159.46" width="3.04" height="6.41" fill="#eeeeee"/>
<rect x="354.32" y="159.46" width="3.04" height="6.41" fill="#eeeeee"/>
<rect x="357.91" y="159.46" width="3.04" height="6.41" fill="#eeeeee"/>
<rect x="361.49" y="159.46" width="3.04" height="6.41" fill="#eeeeee"/>
<rect x="365.08" y="159.46" width="3.04" height="6.41" fill="#eeeeee"/>
<rect x="368.66" y="159.46" width="3.04" height="6.41" fill="#eeeeee"/>
<rect x="372.25" y="159.46" width="3.04" height="6.41" fill="#eeeeee"/>
<rect x="375.83" y="159.46" width="3.04" height="6.41" fill="#eeeeee"/>
<rect x="379.42" y="159.46" width="3.04" height="6.41" fill="#eeeeee"/>
<rect x="383" y="159.46" width="3.04" height="6.41" fill="#eeeeee"/>
<rect x="386.59" y="159.46" width="3.04" height="6.41" fill="#eeeeee"/>
<rect x="390.17" y="159.46" width="3.04" height="6.41" fill="#eeeeee"/>
<rect x="393.76" y="159.46" width="3.04" height="6.41" fill="#eeeeee"/>
<rect x="397.34" y="159.46" width="3.04" height="6.41" fill="#eeeeee"/>
<rect x="400.93" y="159.46" width="3.04" height="6.41" fill="#eeeeee"/>
<rect x="404.51" y="159.46" width="3.04" height="6.41" fill="#eeeeee"/>
<rect x="408.1" y="159.46" width="3.04" height="6.41" fill="#eeeeee"/>
<rect x="411.68" y="159.46" width="3.04" height="6.41" fill="#eeeeee"/>
<rect x="415.27" y="159.46" width="3.04" height="6.41" fill="#eeeeee"/>
<rect x="418.78" y="159.38" width="3.19" height="6.55" fill="#1c76c2" stroke="#125896" stroke-width="0.4"/>
<rect x="422.44" y="159.46" width="3.04" height="6.41" fill="#eeeeee"/>
<rect x="426.02" y="159.46" width="3.04" height="6.41" fill="#eeeeee"/>
<rect x="429.61" y="159.46" width="3.04" height="6.41" fill="#eeeeee"/>
<rect x="433.12" y="159.38" width="3.19" height="6.55" fill="#1c76c2" stroke="#125896" stroke-width="0.4"/>
<rect x="436.78" y="159.46" width="3.04" height="6.41" fill="#eeeeee"/>
<rect x="440.36" y="159.46" width="3.04" height="6.41" fill="#eeeeee"/>
<rect x="443.95" y="159.46" width="3.04" height="6.41" fill="#eeeeee"/>
<rect x="447.53" y="159.46" width="3.04" height="6.41" fill="#eeeeee"/>
<rect x="451.12" y="159.46" width="3.04" height="6.41" fill="#eeeeee"/>
<rect x="454.7" y="159.46" width="3.04" height="6.41" fill="#eeeeee"/>
<rect x="458.29" y="159.46" width="3.04" height="6.41" fill="#eeeeee"/>
<rect x="461.88" y="159.46" width="3.04" height="6.41" fill="#eeeeee"/>
<rect x="465.46" y="159.46" width="3.04" height="6.41" fill="#eeeeee"/>
<rect x="468.97" y="159.38" width="3.19" height="6.55" fill="#1c76c2" stroke="#125896" stroke-width="0.4"/>
<rect x="472.63" y="159.46" width="3.04" height="6.41" fill="#eeeeee"/>
<rect x="476.21" y="159.46" width="3.04" height="6.41" fill="#eeeeee"/>
<rect x="479.8" y="159.46" width="3.04" height="6.41" fill="#eeeeee"/>
<rect x="483.38" y="159.46" width="3.04" height="6.41" fill="#eeeeee"/>
<rect x="318.47" y="166.41" width="3.04" height="6.41" fill="#eeeeee"/>
<rect x="322.06" y="166.41" width="3.04" height="6.41" fill="#eeeeee"/>
<rect x="325.64" y="166.41" width="3.04" height="6.41" fill="#eeeeee"/>
<rect x="329.23" y="166.41" width="3.04" height="6.41" fill="#eeeeee"/>
<rect x="332.81" y="166.41" width="3.04" height="6.41" fill="#eeeeee"/>
<rect x="336.4" y="166.41" width="3.04" height="6.41" fill="#eeeeee"/>
<rect x="339.98" y="166.41" width="3.04" height="6.41" fill="#eeeeee"/>
<rect x="343.57" y="166.41" width="3.04" height="6.41" fill="#eeeeee"/>
<rect x="347.15" y="166.41" width="3.04" height="6.41" fill="#eeeeee"/>
<rect x="350.74" y="166.41" width="3.04" height="6.41" fill="#eeeeee"/>
<rect x="354.32" y="166.41" width="3.04" height="6.41" fill="#eeeeee"/>
<rect x="357.91" y="166.41" width="3.04" height="6.41" fill="#eeeeee"/>
<rect x="361.49" y="166.41" width="3.04" height="6.41" fill="#eeeeee"/>
<rect x="365.08" y="166.41" width="3.04" height="6.41" fill="#eeeeee"/>
<rect x="368.66" y="166.41" width="3.04" height="6.41" fill="#eeeeee"/>
<rect x="372.25" y="166.41" width="3.04" height="6.41" fill="#eeeeee"/>
<rect x="375.76" y="166.33" width="3.19" height="6.55" fill="#1c76c2" stroke="#125896" stroke-width="0.4"/>
<rect x="379.42" y="166.41" width="3.04" height="6.41" fill="#eeeeee"/>
<rect x="383" y="166.41" width="3.04" height="6.41" fill="#eeeeee"/>
<rect x="386.59" y="166.41" width="3.04" height="6.41" fill="#eeeeee"/>
<rect x="390.1" y="166.33" width="3.19" height="6.55" fill="#1c76c2" stroke="#125896" stroke-width="0.4"/>
<rect x="393.76" y="166.41" width="3.04" height="6.41" fill="#eeeeee"/>
<rect x="397.34" y="166.41" width="3.04" height="6.41" fill="#eeeeee"/>
<rect x="400.93" y="166.41" width="3.04" height="6.41" fill="#eeeeee"/>
<rect x="404.51" y="166.41" width="3.04" height="6.41" fill="#eeeeee"/>
<rect x="408.1" y="166.41" width="3.04" height="6.41" fill="#eeeeee"/>
<rect x="411.68" y="166.41" width="3.04" height="6.41" fill="#eeeeee"/>
<rect x="415.27" y="166.41" width="3.04" height="6.41" fill="#eeeeee"/>
<rect x="418.85" y="166.41" width="3.04" height="6.41" fill="#eeeeee"/>
<rect x="422.36" y="166.33" width="3.19" height="6.55" fill="#1c76c2" stroke="#125896" stroke-width="0.4"/>
<rect x="426.02" y="166.41" width="3.04" height="6.41" fill="#eeeeee"/>
<rect x="429.61" y="166.41" width="3.04" height="6.41" fill="#eeeeee"/>
<rect x="433.19" y="166.41" width="3.04" height="6.41" fill="#eeeeee"/>
<rect x="436.78" y="166.41" width="3.04" height="6.41" fill="#eeeeee"/>
<rect x="440.36" y="166.41" width="3.04" height="6.41" fill="#eeeeee"/>
<rect x="443.95" y="166.41" width="3.04" height="6.41" fill="#eeeeee"/>
<rect x="447.53" y="166.41" width="3.04" height="6.41" fill="#eeeeee"/>
<rect x="451.12" y="166.41" width="3.04" height="6.41" fill="#eeeeee"/>
<rect x="454.7" y="166.41" width="3.04" height="6.41" fill="#eeeeee"/>
<rect x="458.29" y="166.41" width="3.04" height="6.41" fill="#eeeeee"/>
<rect x="461.88" y="166.41" width="3.04" height="6.41" fill="#eeeeee"/>
<rect x="465.46" y="166.41" width="3.04" height="6.41" fill="#eeeeee"/>
<rect x="469.04" y="166.41" width="3.04" height="6.41" fill="#eeeeee"/>
<rect x="472.63" y="166.41" width="3.04" height="6.41" fill="#eeeeee"/>
<rect x="476.21" y="166.41" width="3.04" height="6.41" fill="#eeeeee"/>
<rect x="479.8" y="166.41" width="3.04" height="6.41" fill="#eeeeee"/>
<rect x="483.38" y="166.41" width="3.04" height="6.41" fill="#eeeeee"/>
<rect x="318.47" y="173.37" width="3.04" height="6.41" fill="#eeeeee"/>
<rect x="322.06" y="173.37" width="3.04" height="6.41" fill="#eeeeee"/>
<rect x="325.64" y="173.37" width="3.04" height="6.41" fill="#eeeeee"/>
<rect x="329.23" y="173.37" width="3.04" height="6.41" fill="#eeeeee"/>
<rect x="332.81" y="173.37" width="3.04" height="6.41" fill="#eeeeee"/>
<rect x="336.4" y="173.37" width="3.04" height="6.41" fill="#eeeeee"/>
<rect x="339.98" y="173.37" width="3.04" height="6.41" fill="#eeeeee"/>
<rect x="343.49" y="173.29" width="3.19" height="6.55" fill="#1c76c2" stroke="#125896" stroke-width="0.4"/>
<rect x="347.15" y="173.37" width="3.04" height="6.41" fill="#eeeeee"/>
<rect x="350.74" y="173.37" width="3.04" height="6.41" fill="#eeeeee"/>
<rect x="354.32" y="173.37" width="3.04" height="6.41" fill="#eeeeee"/>
<rect x="357.91" y="173.37" width="3.04" height="6.41" fill="#eeeeee"/>
<rect x="361.49" y="173.37" width="3.04" height="6.41" fill="#eeeeee"/>
<rect x="365.08" y="173.37" width="3.04" height="6.41" fill="#eeeeee"/>
<rect x="368.66" y="173.37" width="3.04" height="6.41" fill="#eeeeee"/>
<rect x="372.25" y="173.37" width="3.04" height="6.41" fill="#eeeeee"/>
<rect x="375.83" y="173.37" width="3.04" height="6.41" fill="#eeeeee"/>
<rect x="379.42" y="173.37" width="3.04" height="6.41" fill="#eeeeee"/>
<rect x="383" y="173.37" width="3.04" height="6.41" fill="#eeeeee"/>
<rect x="386.59" y="173.37" width="3.04" height="6.41" fill="#eeeeee"/>
<rect x="390.17" y="173.37" width="3.04" height="6.41" fill="#eeeeee"/>
<rect x="393.76" y="173.37" width="3.04" height="6.41" fill="#eeeeee"/>
<rect x="397.34" y="173.37" width="3.04" height="6.41" fill="#eeeeee"/>
<rect x="400.93" y="173.37" width="3.04" height="6.41" fill="#eeeeee"/>
<rect x="404.51" y="173.37" width="3.04" height="6.41" fill="#eeeeee"/>
<rect x="408.1" y="173.37" width="3.04" height="6.41" fill="#eeeeee"/>
<rect x="411.68" y="173.37" width="3.04" height="6.41" fill="#eeeeee"/>
<rect x="415.27" y="173.37" width="3.04" height="6.41" fill="#eeeeee"/>
<rect x="418.85" y="173.37" width="3.04" height="6.41" fill="#eeeeee"/>
<rect x="422.36" y="173.29" width="3.19" height="6.55" fill="#1c76c2" stroke="#125896" stroke-width="0.4"/>
<rect x="426.02" y="173.37" width="3.04" height="6.41" fill="#eeeeee"/>
<rect x="429.61" y="173.37" width="3.04" height="6.41" fill="#eeeeee"/>
<rect x="433.19" y="173.37" width="3.04" height="6.41" fill="#eeeeee"/>
<rect x="436.78" y="173.37" width="3.04" height="6.41" fill="#eeeeee"/>
<rect x="440.36" y="173.37" width="3.04" height="6.41" fill="#eeeeee"/>
<rect x="443.95" y="173.37" width="3.04" height="6.41" fill="#eeeeee"/>
<rect x="447.53" y="173.37" width="3.04" height="6.41" fill="#eeeeee"/>
<rect x="451.12" y="173.37" width="3.04" height="6.41" fill="#eeeeee"/>
<rect x="454.7" y="173.37" width="3.04" height="6.41" fill="#eeeeee"/>
<rect x="458.21" y="173.29" width="3.19" height="6.55" fill="#1c76c2" stroke="#125896" stroke-width="0.4"/>
<rect x="461.88" y="173.37" width="3.04" height="6.41" fill="#eeeeee"/>
<rect x="465.46" y="173.37" width="3.04" height="6.41" fill="#eeeeee"/>
<rect x="469.04" y="173.37" width="3.04" height="6.41" fill="#eeeeee"/>
<rect x="472.63" y="173.37" width="3.04" height="6.41" fill="#eeeeee"/>
<rect x="476.21" y="173.37" width="3.04" height="6.41" fill="#eeeeee"/>
<rect x="479.8" y="173.37" width="3.04" height="6.41" fill="#eeeeee"/>
<rect x="483.38" y="173.37" width="3.04" height="6.41" fill="#eeeeee"/>
<rect x="318.47" y="180.32" width="3.04" height="6.41" fill="#eeeeee"/>
<rect x="322.06" y="180.32" width="3.04" height="6.41" fill="#eeeeee"/>
<rect x="325.64" y="180.32" width="3.04" height="6.41" fill="#eeeeee"/>
<rect x="329.23" y="180.32" width="3.04" height="6.41" fill="#eeeeee"/>
<rect x="332.81" y="180.32" width="3.04" height="6.41" fill="#eeeeee"/>
<rect x="336.4" y="180.32" width="3.04" height="6.41" fill="#eeeeee"/>
<rect x="339.98" y="180.32" width="3.04" height="6.41" fill="#eeeeee"/>
<rect x="343.57" y="180.32" width="3.04" height="6.41" fill="#eeeeee"/>
<rect x="347.15" y="180.32" width="3.04" height="6.41" fill="#eeeeee"/>
<rect x="350.74" y="180.32" width="3.04" height="6.41" fill="#eeeeee"/>
<rect x="354.32" y="180.32" width="3.04" height="6.41" fill="#eeeeee"/>
<rect x="357.91" y="180.32" width="3.04" height="6.41" fill="#eeeeee"/>
<rect x="361.49" y="180.32" width="3.04" height="6.41" fill="#eeeeee"/>
<rect x="365.08" y="180.32" width="3.04" height="6.41" fill="#eeeeee"/>
<rect x="368.66" y="180.32" width="3.04" height="6.41" fill="#eeeeee"/>
<rect x="372.25" y="180.32" width="3.04" height="6.41" fill="#eeeeee"/>
<rect x="375.83" y="180.32" width="3.04" height="6.41" fill="#eeeeee"/>
<rect x="379.42" y="180.32" width="3.04" height="6.41" fill="#eeeeee"/>
<rect x="383" y="180.32" width="3.04" height="6.41" fill="#eeeeee"/>
<rect x="386.59" y="180.32" width="3.04" height="6.41" fill="#eeeeee"/>
<rect x="390.17" y="180.32" width="3.04" height="6.41" fill="#eeeeee"/>
<rect x="393.76" y="180.32" width="3.04" height="6.41" fill="#eeeeee"/>
<rect x="397.34" y="180.32" width="3.04" height="6.41" fill="#eeeeee"/>
<rect x="400.93" y="180.32" width="3.04" height="6.41" fill="#eeeeee"/>
<rect x="404.51" y="180.32" width="3.04" height="6.41" fill="#eeeeee"/>
<rect x="408.1" y="180.32" width="3.04" height="6.41" fill="#eeeeee"/>
<rect x="411.68" y="180.32" width="3.04" height="6.41" fill="#eeeeee"/>
<rect x="415.27" y="180.32" width="3.04" height="6.41" fill="#eeeeee"/>
<rect x="418.85" y="180.32" width="3.04" height="6.41" fill="#eeeeee"/>
<rect x="422.44" y="180.32" width="3.04" height="6.41" fill="#eeeeee"/>
<rect x="426.02" y="180.32" width="3.04" height="6.41" fill="#eeeeee"/>
<rect x="429.61" y="180.32" width="3.04" height="6.41" fill="#eeeeee"/>
<rect x="433.19" y="180.32" width="3.04" height="6.41" fill="#eeeeee"/>
<rect x="436.78" y="180.32" width="3.04" height="6.41" fill="#eeeeee"/>
<rect x="440.36" y="180.32" width="3.04" height="6.41" fill="#eeeeee"/>
<rect x="443.95" y="180.32" width="3.04" height="6.41" fill="#eeeeee"/>
<rect x="447.53" y="180.32" width="3.04" height="6.41" fill="#eeeeee"/>
<rect x="451.05" y="180.25" width="3.19" height="6.55" fill="#1c76c2" stroke="#125896" stroke-width="0.4"/>
<rect x="454.7" y="180.32" width="3.04" height="6.41" fill="#eeeeee"/>
<rect x="458.29" y="180.32" width="3.04" height="6.41" fill="#eeeeee"/>
<rect x="461.88" y="180.32" width="3.04" height="6.41" fill="#eeeeee"/>
<rect x="465.46" y="180.32" width="3.04" height="6.41" fill="#eeeeee"/>
<rect x="469.04" y="180.32" width="3.04" height="6.41" fill="#eeeeee"/>
<rect x="472.63" y="180.32" width="3.04" height="6.41" fill="#eeeeee"/>
<rect x="476.21" y="180.32" width="3.04" height="6.41" fill="#eeeeee"/>
<rect x="479.72" y="180.25" width="3.19" height="6.55" fill="#1c76c2" stroke="#125896" stroke-width="0.4"/>
<rect x="483.38" y="180.32" width="3.04" height="6.41" fill="#eeeeee"/>
<rect x="318.47" y="187.28" width="3.04" height="6.41" fill="#eeeeee"/>
<rect x="322.06" y="187.28" width="3.04" height="6.41" fill="#eeeeee"/>
<rect x="325.64" y="187.28" width="3.04" height="6.41" fill="#eeeeee"/>
<rect x="329.23" y="187.28" width="3.04" height="6.41" fill="#eeeeee"/>
<rect x="332.81" y="187.28" width="3.04" height="6.41" fill="#eeeeee"/>
<rect x="336.4" y="187.28" width="3.04" height="6.41" fill="#eeeeee"/>
<rect x="339.98" y="187.28" width="3.04" height="6.41" fill="#eeeeee"/>
<rect x="343.57" y="187.28" width="3.04" height="6.41" fill="#eeeeee"/>
<rect x="347.15" y="187.28" width="3.04" height="6.41" fill="#eeeeee"/>
<rect x="350.74" y="187.28" width="3.04" height="6.41" fill="#eeeeee"/>
<rect x="354.32" y="187.28" width="3.04" height="6.41" fill="#eeeeee"/>
<rect x="357.91" y="187.28" width="3.04" height="6.41" fill="#eeeeee"/>
<rect x="361.49" y="187.28" width="3.04" height="6.41" fill="#eeeeee"/>
<rect x="365.08" y="187.28" width="3.04" height="6.41" fill="#eeeeee"/>
<rect x="368.66" y="187.28" width="3.04" height="6.41" fill="#eeeeee"/>
<rect x="372.25" y="187.28" width="3.04" height="6.41" fill="#eeeeee"/>
<rect x="375.83" y="187.28" width="3.04" height="6.41" fill="#eeeeee"/>
<rect x="379.42" y="187.28" width="3.04" height="6.41" fill="#eeeeee"/>
<rect x="382.93" y="187.2" width="3.19" height="6.55" fill="#1c76c2" stroke="#125896" stroke-width="0.4"/>
<rect x="386.59" y="187.28" width="3.04" height="6.41" fill="#eeeeee"/>
<rect x="390.17" y="187.28" width="3.04" height="6.41" fill="#eeeeee"/>
<rect x="393.76" y="187.28" width="3.04" height="6.41" fill="#eeeeee"/>
<rect x="397.34" y="187.28" width="3.04" height="6.41" fill="#eeeeee"/>
<rect x="400.93" y="187.28" width="3.04" height="6.41" fill="#eeeeee"/>
<rect x="404.51" y="187.28" width="3.04" height="6.41" fill="#eeeeee"/>
<rect x="408.1" y="187.28" width="3.04" height="6.41" fill="#eeeeee"/>
<rect x="411.68" y="187.28" width="3.04" height="6.41" fill="#eeeeee"/>
<rect x="415.27" y="187.28" width="3.04" height="6.41" fill="#eeeeee"/>
<rect x="418.85" y="187.28" width="3.04" height="6.41" fill="#eeeeee"/>
<rect x="422.44" y="187.28" width="3.04" height="6.41" fill="#eeeeee"/>
<rect x="426.02" y="187.28" width="3.04" height="6.41" fill="#eeeeee"/>
<rect x="429.61" y="187.28" width="3.04" height="6.41" fill="#eeeeee"/>
<rect x="433.19" y="187.28" width="3.04" height="6.41" fill="#eeeeee"/>
<rect x="436.78" y="187.28" width="3.04" height="6.41" fill="#eeeeee"/>
<rect x="440.36" y="187.28" width="3.04" height="6.41" fill="#eeeeee"/>
<rect x="443.95" y="187.28" width="3.04" height="6.41" fill="#eeeeee"/>
<rect x="447.53" y="187.28" width="3.04" height="6.41" fill="#eeeeee"/>
<rect x="451.12" y="187.28" width="3.04" height="6.41" fill="#eeeeee"/>
<rect x="454.7" y="187.28" width="3.04" height="6.41" fill="#eeeeee"/>
<rect x="458.29" y="187.28" width="3.04" height="6.41" fill="#eeeeee"/>
<rect x="461.88" y="187.28" width="3.04" height="6.41" fill="#eeeeee"/>
<rect x="465.46" y="187.28" width="3.04" height="6.41" fill="#eeeeee"/>
<rect x="468.97" y="187.2" width="3.19" height="6.55" fill="#1c76c2" stroke="#125896" stroke-width="0.4"/>
<rect x="472.63" y="187.28" width="3.04" height="6.41" fill="#eeeeee"/>
<rect x="476.21" y="187.28" width="3.04" height="6.41" fill="#eeeeee"/>
<rect x="479.8" y="187.28" width="3.04" height="6.41" fill="#eeeeee"/>
<rect x="483.38" y="187.28" width="3.04" height="6.41" fill="#eeeeee"/>
<rect x="318.47" y="194.23" width="3.04" height="6.41" fill="#eeeeee"/>
<rect x="322.06" y="194.23" width="3.04" height="6.41" fill="#eeeeee"/>
<rect x="325.64" y="194.23" width="3.04" height="6.41" fill="#eeeeee"/>
<rect x="329.23" y="194.23" width="3.04" height="6.41" fill="#eeeeee"/>
<rect x="332.81" y="194.23" width="3.04" height="6.41" fill="#eeeeee"/>
<rect x="336.4" y="194.23" width="3.04" height="6.41" fill="#eeeeee"/>
<rect x="339.98" y="194.23" width="3.04" height="6.41" fill="#eeeeee"/>
<rect x="343.57" y="194.23" width="3.04" height="6.41" fill="#eeeeee"/>
<rect x="347.15" y="194.23" width="3.04" height="6.41" fill="#eeeeee"/>
<rect x="350.74" y="194.23" width="3.04" height="6.41" fill="#eeeeee"/>
<rect x="354.32" y="194.23" width="3.04" height="6.41" fill="#eeeeee"/>
<rect x="357.91" y="194.23" width="3.04" height="6.41" fill="#eeeeee"/>
<rect x="361.49" y="194.23" width="3.04" height="6.41" fill="#eeeeee"/>
<rect x="365.08" y="194.23" width="3.04" height="6.41" fill="#eeeeee"/>
<rect x="368.66" y="194.23" width="3.04" height="6.41" fill="#eeeeee"/>
<rect x="372.25" y="194.23" width="3.04" height="6.41" fill="#eeeeee"/>
<rect x="375.83" y="194.23" width="3.04" height="6.41" fill="#eeeeee"/>
<rect x="379.42" y="194.23" width="3.04" height="6.41" fill="#eeeeee"/>
<rect x="383" y="194.23" width="3.04" height="6.41" fill="#eeeeee"/>
<rect x="386.59" y="194.23" width="3.04" height="6.41" fill="#eeeeee"/>
<rect x="390.17" y="194.23" width="3.04" height="6.41" fill="#eeeeee"/>
<rect x="393.76" y="194.23" width="3.04" height="6.41" fill="#eeeeee"/>
<rect x="397.34" y="194.23" width="3.04" height="6.41" fill="#eeeeee"/>
<rect x="400.93" y="194.23" width="3.04" height="6.41" fill="#eeeeee"/>
<rect x="404.51" y="194.23" width="3.04" height="6.41" fill="#eeeeee"/>
<rect x="408.1" y="194.23" width="3.04" height="6.41" fill="#eeeeee"/>
<rect x="411.68" y="194.23" width="3.04" height="6.41" fill="#eeeeee"/>
<rect x="415.27" y="194.23" width="3.04" height="6.41" fill="#eeeeee"/>
<rect x="418.85" y="194.23" width="3.04" height="6.41" fill="#eeeeee"/>
<rect x="422.44" y="194.23" width="3.04" height="6.41" fill="#eeeeee"/>
<rect x="426.02" y="194.23" width="3.04" height="6.41" fill="#eeeeee"/>
<rect x="429.61" y="194.23" width="3.04" height="6.41" fill="#eeeeee"/>
<rect x="433.12" y="194.16" width="3.19" height="6.55" fill="#1c76c2" stroke="#125896" stroke-width="0.4"/>
<rect x="436.78" y="194.23" width="3.04" height="6.41" fill="#eeeeee"/>
<rect x="440.36" y="194.23" width="3.04" height="6.41" fill="#eeeeee"/>
<rect x="443.95" y="194.23" width="3.04" height="6.41" fill="#eeeeee"/>
<rect x="447.53" y="194.23" width="3.04" height="6.41" fill="#eeeeee"/>
<rect x="451.12" y="194.23" width="3.04" height="6.41" fill="#eeeeee"/>
<rect x="454.7" y="194.23" width="3.04" height="6.41" fill="#eeeeee"/>
<rect x="458.29" y="194.23" width="3.04" height="6.41" fill="#eeeeee"/>
<rect x="461.88" y="194.23" width="3.04" height="6.41" fill="#eeeeee"/>
<rect x="465.46" y="194.23" width="3.04" height="6.41" fill="#eeeeee"/>
<rect x="469.04" y="194.23" width="3.04" height="6.41" fill="#eeeeee"/>
<rect x="472.56" y="194.16" width="3.19" height="6.55" fill="#1c76c2" stroke="#125896" stroke-width="0.4"/>
<rect x="476.21" y="194.23" width="3.04" height="6.41" fill="#eeeeee"/>
<rect x="479.8" y="194.23" width="3.04" height="6.41" fill="#eeeeee"/>
<rect x="483.38" y="194.23" width="3.04" height="6.41" fill="#eeeeee"/>
<rect x="318.47" y="201.19" width="3.04" height="6.41" fill="#eeeeee"/>
<rect x="322.06" y="201.19" width="3.04" height="6.41" fill="#eeeeee"/>
<rect x="325.64" y="201.19" width="3.04" height="6.41" fill="#eeeeee"/>
<rect x="329.23" y="201.19" width="3.04" height="6.41" fill="#eeeeee"/>
<rect x="332.81" y="201.19" width="3.04" height="6.41" fill="#eeeeee"/>
<rect x="336.4" y="201.19" width="3.04" height="6.41" fill="#eeeeee"/>
<rect x="339.98" y="201.19" width="3.04" height="6.41" fill="#eeeeee"/>
<rect x="343.57" y="201.19" width="3.04" height="6.41" fill="#eeeeee"/>
<rect x="347.15" y="201.19" width="3.04" height="6.41" fill="#eeeeee"/>
<rect x="350.74" y="201.19" width="3.04" height="6.41" fill="#eeeeee"/>
<rect x="354.32" y="201.19" width="3.04" height="6.41" fill="#eeeeee"/>
<rect x="357.91" y="201.19" width="3.04" height="6.41" fill="#eeeeee"/>
<rect x="361.49" y="201.19" width="3.04" height="6.41" fill="#eeeeee"/>
<rect x="365.08" y="201.19" width="3.04" height="6.41" fill="#eeeeee"/>
<rect x="368.66" y="201.19" width="3.04" height="6.41" fill="#eeeeee"/>
<rect x="372.25" y="201.19" width="3.04" height="6.41" fill="#eeeeee"/>
<rect x="375.83" y="201.19" width="3.04" height="6.41" fill="#eeeeee"/>
<rect x="379.42" y="201.19" width="3.04" height="6.41" fill="#eeeeee"/>
<rect x="383" y="201.19" width="3.04" height="6.41" fill="#eeeeee"/>
<rect x="386.59" y="201.19" width="3.04" height="6.41" fill="#eeeeee"/>
<rect x="390.17" y="201.19" width="3.04" height="6.41" fill="#eeeeee"/>
<rect x="393.76" y="201.19" width="3.04" height="6.41" fill="#eeeeee"/>
<rect x="397.34" y="201.19" width="3.04" height="6.41" fill="#eeeeee"/>
<rect x="400.93" y="201.19" width="3.04" height="6.41" fill="#eeeeee"/>
<rect x="404.51" y="201.19" width="3.04" height="6.41" fill="#eeeeee"/>
<rect x="408.1" y="201.19" width="3.04" height="6.41" fill="#eeeeee"/>
<rect x="411.68" y="201.19" width="3.04" height="6.41" fill="#eeeeee"/>
<rect x="415.27" y="201.19" width="3.04" height="6.41" fill="#eeeeee"/>
<rect x="418.85" y="201.19" width="3.04" height="6.41" fill="#eeeeee"/>
<rect x="422.44" y="201.19" width="3.04" height="6.41" fill="#eeeeee"/>
<rect x="425.95" y="201.11" width="3.19" height="6.55" fill="#1c76c2" stroke="#125896" stroke-width="0.4"/>
<rect x="429.61" y="201.19" width="3.04" height="6.41" fill="#eeeeee"/>
<rect x="433.12" y="201.11" width="3.19" height="6.55" fill="#1c76c2" stroke="#125896" stroke-width="0.4"/>
<rect x="436.78" y="201.19" width="3.04" height="6.41" fill="#eeeeee"/>
<rect x="440.36" y="201.19" width="3.04" height="6.41" fill="#eeeeee"/>
<rect x="443.95" y="201.19" width="3.04" height="6.41" fill="#eeeeee"/>
<rect x="447.53" y="201.19" width="3.04" height="6.41" fill="#eeeeee"/>
<rect x="451.12" y="201.19" width="3.04" height="6.41" fill="#eeeeee"/>
<rect x="454.7" y="201.19" width="3.04" height="6.41" fill="#eeeeee"/>
<rect x="458.29" y="201.19" width="3.04" height="6.41" fill="#eeeeee"/>
<rect x="461.88" y="201.19" width="3.04" height="6.41" fill="#eeeeee"/>
<rect x="465.46" y="201.19" width="3.04" height="6.41" fill="#eeeeee"/>
<rect x="469.04" y="201.19" width="3.04" height="6.41" fill="#eeeeee"/>
<rect x="472.63" y="201.19" width="3.04" height="6.41" fill="#eeeeee"/>
<rect x="476.21" y="201.19" width="3.04" height="6.41" fill="#eeeeee"/>
<rect x="479.8" y="201.19" width="3.04" height="6.41" fill="#eeeeee"/>
<rect x="483.38" y="201.19" width="3.04" height="6.41" fill="#eeeeee"/>
<rect x="318.47" y="208.14" width="3.04" height="6.41" fill="#eeeeee"/>
<rect x="322.06" y="208.14" width="3.04" height="6.41" fill="#eeeeee"/>
<rect x="325.64" y="208.14" width="3.04" height="6.41" fill="#eeeeee"/>
<rect x="329.23" y="208.14" width="3.04" height="6.41" fill="#eeeeee"/>
<rect x="332.81" y="208.14" width="3.04" height="6.41" fill="#eeeeee"/>
<rect x="336.4" y="208.14" width="3.04" height="6.41" fill="#eeeeee"/>
<rect x="339.98" y="208.14" width="3.04" height="6.41" fill="#eeeeee"/>
<rect x="343.57" y="208.14" width="3.04" height="6.41" fill="#eeeeee"/>
<rect x="347.15" y="208.14" width="3.04" height="6.41" fill="#eeeeee"/>
<rect x="350.74" y="208.14" width="3.04" height="6.41" fill="#eeeeee"/>
<rect x="354.32" y="208.14" width="3.04" height="6.41" fill="#eeeeee"/>
<rect x="357.91" y="208.14" width="3.04" height="6.41" fill="#eeeeee"/>
<rect x="361.49" y="208.14" width="3.04" height="6.41" fill="#eeeeee"/>
<rect x="365.08" y="208.14" width="3.04" height="6.41" fill="#eeeeee"/>
<rect x="368.66" y="208.14" width="3.04" height="6.41" fill="#eeeeee"/>
<rect x="372.25" y="208.14" width="3.04" height="6.41" fill="#eeeeee"/>
<rect x="375.83" y="208.14" width="3.04" height="6.41" fill="#eeeeee"/>
<rect x="379.42" y="208.14" width="3.04" height="6.41" fill="#eeeeee"/>
<rect x="383" y="208.14" width="3.04" height="6.41" fill="#eeeeee"/>
<rect x="386.59" y="208.14" width="3.04" height="6.41" fill="#eeeeee"/>
<rect x="390.17" y="208.14" width="3.04" height="6.41" fill="#eeeeee"/>
<rect x="393.76" y="208.14" width="3.04" height="6.41" fill="#eeeeee"/>
<rect x="397.34" y="208.14" width="3.04" height="6.41" fill="#eeeeee"/>
<rect x="400.93" y="208.14" width="3.04" height="6.41" fill="#eeeeee"/>
<rect x="404.51" y="208.14" width="3.04" height="6.41" fill="#eeeeee"/>
<rect x="408.1" y="208.14" width="3.04" height="6.41" fill="#eeeeee"/>
<rect x="411.68" y="208.14" width="3.04" height="6.41" fill="#eeeeee"/>
<rect x="415.27" y="208.14" width="3.04" height="6.41" fill="#eeeeee"/>
<rect x="418.85" y="208.14" width="3.04" height="6.41" fill="#eeeeee"/>
<rect x="422.44" y="208.14" width="3.04" height="6.41" fill="#eeeeee"/>
<rect x="426.02" y="208.14" width="3.04" height="6.41" fill="#eeeeee"/>
<rect x="429.61" y="208.14" width="3.04" height="6.41" fill="#eeeeee"/>
<rect x="433.19" y="208.14" width="3.04" height="6.41" fill="#eeeeee"/>
<rect x="436.7" y="208.06" width="3.19" height="6.55" fill="#1c76c2" stroke="#125896" stroke-width="0.4"/>
<rect x="440.36" y="208.14" width="3.04" height="6.41" fill="#eeeeee"/>
<rect x="443.95" y="208.14" width="3.04" height="6.41" fill="#eeeeee"/>
<rect x="447.46" y="208.06" width="3.19" height="6.55" fill="#1c76c2" stroke="#125896" stroke-width="0.4"/>
<rect x="451.12" y="208.14" width="3.04" height="6.41" fill="#eeeeee"/>
<rect x="454.7" y="208.14" width="3.04" height="6.41" fill="#eeeeee"/>
<rect x="458.29" y="208.14" width="3.04" height="6.41" fill="#eeeeee"/>
<rect x="461.88" y="208.14" width="3.04" height="6.41" fill="#eeeeee"/>
<rect x="465.46" y="208.14" width="3.04" height="6.41" fill="#eeeeee"/>
<rect x="469.04" y="208.14" width="3.04" height="6.41" fill="#eeeeee"/>
<rect x="472.63" y="208.14" width="3.04" height="6.41" fill="#eeeeee"/>
<rect x="476.21" y="208.14" width="3.04" height="6.41" fill="#eeeeee"/>
<rect x="479.8" y="208.14" width="3.04" height="6.41" fill="#eeeeee"/>
<rect x="483.38" y="208.14" width="3.04" height="6.41" fill="#eeeeee"/>
<rect x="318.47" y="215.1" width="3.04" height="6.41" fill="#eeeeee"/>
<rect x="322.06" y="215.1" width="3.04" height="6.41" fill="#eeeeee"/>
<rect x="325.64" y="215.1" width="3.04" height="6.41" fill="#eeeeee"/>
<rect x="329.23" y="215.1" width="3.04" height="6.41" fill="#eeeeee"/>
<rect x="332.81" y="215.1" width="3.04" height="6.41" fill="#eeeeee"/>
<rect x="336.4" y="215.1" width="3.04" height="6.41" fill="#eeeeee"/>
<rect x="339.98" y="215.1" width="3.04" height="6.41" fill="#eeeeee"/>
<rect x="343.57" y="215.1" width="3.04" height="6.41" fill="#eeeeee"/>
<rect x="347.15" y="215.1" width="3.04" height="6.41" fill="#eeeeee"/>
<rect x="350.74" y="215.1" width="3.04" height="6.41" fill="#eeeeee"/>
<rect x="354.32" y="215.1" width="3.04" height="6.41" fill="#eeeeee"/>
<rect x="357.91" y="215.1" width="3.04" height="6.41" fill="#eeeeee"/>
<rect x="361.49" y="215.1" width="3.04" height="6.41" fill="#eeeeee"/>
<rect x="365.08" y="215.1" width="3.04" height="6.41" fill="#eeeeee"/>
<rect x="368.66" y="215.1" width="3.04" height="6.41" fill="#eeeeee"/>
<rect x="372.25" y="215.1" width="3.04" height="6.41" fill="#eeeeee"/>
<rect x="375.83" y="215.1" width="3.04" height="6.41" fill="#eeeeee"/>
<rect x="379.42" y="215.1" width="3.04" height="6.41" fill="#eeeeee"/>
<rect x="383" y="215.1" width="3.04" height="6.41" fill="#eeeeee"/>
<rect x="386.59" y="215.1" width="3.04" height="6.41" fill="#eeeeee"/>
<rect x="390.17" y="215.1" width="3.04" height="6.41" fill="#eeeeee"/>
<rect x="393.76" y="215.1" width="3.04" height="6.41" fill="#eeeeee"/>
<rect x="397.34" y="215.1" width="3.04" height="6.41" fill="#eeeeee"/>
<rect x="400.93" y="215.1" width="3.04" height="6.41" fill="#eeeeee"/>
<rect x="404.51" y="215.1" width="3.04" height="6.41" fill="#eeeeee"/>
<rect x="408.1" y="215.1" width="3.04" height="6.41" fill="#eeeeee"/>
<rect x="411.68" y="215.1" width="3.04" height="6.41" fill="#eeeeee"/>
<rect x="415.27" y="215.1" width="3.04" height="6.41" fill="#eeeeee"/>
<rect x="418.85" y="215.1" width="3.04" height="6.41" fill="#eeeeee"/>
<rect x="422.44" y="215.1" width="3.04" height="6.41" fill="#eeeeee"/>
<rect x="426.02" y="215.1" width="3.04" height="6.41" fill="#eeeeee"/>
<rect x="429.61" y="215.1" width="3.04" height="6.41" fill="#eeeeee"/>
<rect x="433.19" y="215.1" width="3.04" height="6.41" fill="#eeeeee"/>
<rect x="436.7" y="215.02" width="3.19" height="6.55" fill="#1c76c2" stroke="#125896" stroke-width="0.4"/>
<rect x="440.36" y="215.1" width="3.04" height="6.41" fill="#eeeeee"/>
<rect x="443.95" y="215.1" width="3.04" height="6.41" fill="#eeeeee"/>
<rect x="447.53" y="215.1" width="3.04" height="6.41" fill="#eeeeee"/>
<rect x="451.12" y="215.1" width="3.04" height="6.41" fill="#eeeeee"/>
<rect x="454.7" y="215.1" width="3.04" height="6.41" fill="#eeeeee"/>
<rect x="458.21" y="215.02" width="3.19" height="6.55" fill="#1c76c2" stroke="#125896" stroke-width="0.4"/>
<rect x="461.88" y="215.1" width="3.04" height="6.41" fill="#eeeeee"/>
<rect x="465.46" y="215.1" width="3.04" height="6.41" fill="#eeeeee"/>
<rect x="469.04" y="215.1" width="3.04" height="6.41" fill="#eeeeee"/>
<rect x="472.63" y="215.1" width="3.04" height="6.41" fill="#eeeeee"/>
<rect x="476.21" y="215.1" width="3.04" height="6.41" fill="#eeeeee"/>
<rect x="479.8" y="215.1" width="3.04" height="6.41" fill="#eeeeee"/>
<rect x="483.38" y="215.1" width="3.04" height="6.41" fill="#eeeeee"/>
<rect x="318.47" y="222.05" width="3.04" height="6.41" fill="#eeeeee"/>
<rect x="322.06" y="222.05" width="3.04" height="6.41" fill="#eeeeee"/>
<rect x="325.64" y="222.05" width="3.04" height="6.41" fill="#eeeeee"/>
<rect x="329.23" y="222.05" width="3.04" height="6.41" fill="#eeeeee"/>
<rect x="332.81" y="222.05" width="3.04" height="6.41" fill="#eeeeee"/>
<rect x="336.4" y="222.05" width="3.04" height="6.41" fill="#eeeeee"/>
<rect x="339.98" y="222.05" width="3.04" height="6.41" fill="#eeeeee"/>
<rect x="343.57" y="222.05" width="3.04" height="6.41" fill="#eeeeee"/>
<rect x="347.15" y="222.05" width="3.04" height="6.41" fill="#eeeeee"/>
<rect x="350.74" y="222.05" width="3.04" height="6.41" fill="#eeeeee"/>
<rect x="354.32" y="222.05" width="3.04" height="6.41" fill="#eeeeee"/>
<rect x="357.91" y="222.05" width="3.04" height="6.41" fill="#eeeeee"/>
<rect x="361.49" y="222.05" width="3.04" height="6.41" fill="#eeeeee"/>
<rect x="365.08" y="222.05" width="3.04" height="6.41" fill="#eeeeee"/>
<rect x="368.66" y="222.05" width="3.04" height="6.41" fill="#eeeeee"/>
<rect x="372.25" y="222.05" width="3.04" height="6.41" fill="#eeeeee"/>
<rect x="375.83" y="222.05" width="3.04" height="6.41" fill="#eeeeee"/>
<rect x="379.42" y="222.05" width="3.04" height="6.41" fill="#eeeeee"/>
<rect x="383" y="222.05" width="3.04" height="6.41" fill="#eeeeee"/>
<rect x="386.59" y="222.05" width="3.04" height="6.41" fill="#eeeeee"/>
<rect x="390.17" y="222.05" width="3.04" height="6.41" fill="#eeeeee"/>
<rect x="393.76" y="222.05" width="3.04" height="6.41" fill="#eeeeee"/>
<rect x="397.34" y="222.05" width="3.04" height="6.41" fill="#eeeeee"/>
<rect x="400.93" y="222.05" width="3.04" height="6.41" fill="#eeeeee"/>
<rect x="404.51" y="222.05" width="3.04" height="6.41" fill="#eeeeee"/>
<rect x="408.1" y="222.05" width="3.04" height="6.41" fill="#eeeeee"/>
<rect x="411.61" y="221.97" width="3.19" height="6.55" fill="#1c76c2" stroke="#125896" stroke-width="0.4"/>
<rect x="415.27" y="222.05" width="3.04" height="6.41" fill="#eeeeee"/>
<rect x="418.85" y="222.05" width="3.04" height="6.41" fill="#eeeeee"/>
<rect x="422.44" y="222.05" width="3.04" height="6.41" fill="#eeeeee"/>
<rect x="426.02" y="222.05" width="3.04" height="6.41" fill="#eeeeee"/>
<rect x="429.61" y="222.05" width="3.04" height="6.41" fill="#eeeeee"/>
<rect x="433.19" y="222.05" width="3.04" height="6.41" fill="#eeeeee"/>
<rect x="436.78" y="222.05" width="3.04" height="6.41" fill="#eeeeee"/>
<rect x="440.36" y="222.05" width="3.04" height="6.41" fill="#eeeeee"/>
<rect x="443.95" y="222.05" width="3.04" height="6.41" fill="#eeeeee"/>
<rect x="447.53" y="222.05" width="3.04" height="6.41" fill="#eeeeee"/>
<rect x="451.12" y="222.05" width="3.04" height="6.41" fill="#eeeeee"/>
<rect x="454.7" y="222.05" width="3.04" height="6.41" fill="#eeeeee"/>
<rect x="458.21" y="221.97" width="3.19" height="6.55" fill="#1c76c2" stroke="#125896" stroke-width="0.4"/>
<rect x="461.88" y="222.05" width="3.04" height="6.41" fill="#eeeeee"/>
<rect x="465.46" y="222.05" width="3.04" height="6.41" fill="#eeeeee"/>
<rect x="469.04" y="222.05" width="3.04" height="6.41" fill="#eeeeee"/>
<rect x="472.63" y="222.05" width="3.04" height="6.41" fill="#eeeeee"/>
<rect x="476.21" y="222.05" width="3.04" height="6.41" fill="#eeeeee"/>
<rect x="479.8" y="222.05" width="3.04" height="6.41" fill="#eeeeee"/>
<rect x="483.38" y="222.05" width="3.04" height="6.41" fill="#eeeeee"/>
<rect x="318.47" y="229.01" width="3.04" height="6.41" fill="#eeeeee"/>
<rect x="322.06" y="229.01" width="3.04" height="6.41" fill="#eeeeee"/>
<rect x="325.64" y="229.01" width="3.04" height="6.41" fill="#eeeeee"/>
<rect x="329.23" y="229.01" width="3.04" height="6.41" fill="#eeeeee"/>
<rect x="332.81" y="229.01" width="3.04" height="6.41" fill="#eeeeee"/>
<rect x="336.32" y="228.93" width="3.19" height="6.55" fill="#1c76c2" stroke="#125896" stroke-width="0.4"/>
<rect x="339.98" y="229.01" width="3.04" height="6.41" fill="#eeeeee"/>
<rect x="343.49" y="228.93" width="3.19" height="6.55" fill="#1c76c2" stroke="#125896" stroke-width="0.4"/>
<rect x="347.15" y="229.01" width="3.04" height="6.41" fill="#eeeeee"/>
<rect x="350.74" y="229.01" width="3.04" height="6.41" fill="#eeeeee"/>
<rect x="354.32" y="229.01" width="3.04" height="6.41" fill="#eeeeee"/>
<rect x="357.91" y="229.01" width="3.04" height="6.41" fill="#eeeeee"/>
<rect x="361.49" y="229.01" width="3.04" height="6.41" fill="#eeeeee"/>
<rect x="365.08" y="229.01" width="3.04" height="6.41" fill="#eeeeee"/>
<rect x="368.66" y="229.01" width="3.04" height="6.41" fill="#eeeeee"/>
<rect x="372.25" y="229.01" width="3.04" height="6.41" fill="#eeeeee"/>
<rect x="375.83" y="229.01" width="3.04" height="6.41" fill="#eeeeee"/>
<rect x="379.42" y="229.01" width="3.04" height="6.41" fill="#eeeeee"/>
<rect x="383" y="229.01" width="3.04" height="6.41" fill="#eeeeee"/>
<rect x="386.59" y="229.01" width="3.04" height="6.41" fill="#eeeeee"/>
<rect x="390.17" y="229.01" width="3.04" height="6.41" fill="#eeeeee"/>
<rect x="393.76" y="229.01" width="3.04" height="6.41" fill="#eeeeee"/>
<rect x="397.34" y="229.01" width="3.04" height="6.41" fill="#eeeeee"/>
<rect x="400.93" y="229.01" width="3.04" height="6.41" fill="#eeeeee"/>
<rect x="404.51" y="229.01" width="3.04" height="6.41" fill="#eeeeee"/>
<rect x="408.1" y="229.01" width="3.04" height="6.41" fill="#eeeeee"/>
<rect x="411.68" y="229.01" width="3.04" height="6.41" fill="#eeeeee"/>
<rect x="415.27" y="229.01" width="3.04" height="6.41" fill="#eeeeee"/>
<rect x="418.85" y="229.01" width="3.04" height="6.41" fill="#eeeeee"/>
<rect x="422.44" y="229.01" width="3.04" height="6.41" fill="#eeeeee"/>
<rect x="426.02" y="229.01" width="3.04" height="6.41" fill="#eeeeee"/>
<rect x="429.61" y="229.01" width="3.04" height="6.41" fill="#eeeeee"/>
<rect x="433.19" y="229.01" width="3.04" height="6.41" fill="#eeeeee"/>
<rect x="436.78" y="229.01" width="3.04" height="6.41" fill="#eeeeee"/>
<rect x="440.36" y="229.01" width="3.04" height="6.41" fill="#eeeeee"/>
<rect x="443.95" y="229.01" width="3.04" height="6.41" fill="#eeeeee"/>
<rect x="447.53" y="229.01" width="3.04" height="6.41" fill="#eeeeee"/>
<rect x="451.12" y="229.01" width="3.04" height="6.41" fill="#eeeeee"/>
<rect x="454.7" y="229.01" width="3.04" height="6.41" fill="#eeeeee"/>
<rect x="458.29" y="229.01" width="3.04" height="6.41" fill="#eeeeee"/>
<rect x="461.88" y="229.01" width="3.04" height="6.41" fill="#eeeeee"/>
<rect x="465.46" y="229.01" width="3.04" height="6.41" fill="#eeeeee"/>
<rect x="469.04" y="229.01" width="3.04" height="6.41" fill="#eeeeee"/>
<rect x="472.63" y="229.01" width="3.04" height="6.41" fill="#eeeeee"/>
<rect x="476.21" y="229.01" width="3.04" height="6.41" fill="#eeeeee"/>
<rect x="479.8" y="229.01" width="3.04" height="6.41" fill="#eeeeee"/>
<rect x="483.38" y="229.01" width="3.04" height="6.41" fill="#eeeeee"/>
<rect x="318.47" y="235.96" width="3.04" height="6.41" fill="#eeeeee"/>
<rect x="322.06" y="235.96" width="3.04" height="6.41" fill="#eeeeee"/>
<rect x="325.64" y="235.96" width="3.04" height="6.41" fill="#eeeeee"/>
<rect x="329.23" y="235.96" width="3.04" height="6.41" fill="#eeeeee"/>
<rect x="332.81" y="235.96" width="3.04" height="6.41" fill="#eeeeee"/>
<rect x="336.4" y="235.96" width="3.04" height="6.41" fill="#eeeeee"/>
<rect x="339.98" y="235.96" width="3.04" height="6.41" fill="#eeeeee"/>
<rect x="343.57" y="235.96" width="3.04" height="6.41" fill="#eeeeee"/>
<rect x="347.08" y="235.88" width="3.19" height="6.55" fill="#1c76c2" stroke="#125896" stroke-width="0.4"/>
<rect x="350.74" y="235.96" width="3.04" height="6.41" fill="#eeeeee"/>
<rect x="354.32" y="235.96" width="3.04" height="6.41" fill="#eeeeee"/>
<rect x="357.91" y="235.96" width="3.04" height="6.41" fill="#eeeeee"/>
<rect x="361.49" y="235.96" width="3.04" height="6.41" fill="#eeeeee"/>
<rect x="365.08" y="235.96" width="3.04" height="6.41" fill="#eeeeee"/>
<rect x="368.66" y="235.96" width="3.04" height="6.41" fill="#eeeeee"/>
<rect x="372.25" y="235.96" width="3.04" height="6.41" fill="#eeeeee"/>
<rect x="375.83" y="235.96" width="3.04" height="6.41" fill="#eeeeee"/>
<rect x="379.42" y="235.96" width="3.04" height="6.41" fill="#eeeeee"/>
<rect x="383" y="235.96" width="3.04" height="6.41" fill="#eeeeee"/>
<rect x="386.59" y="235.96" width="3.04" height="6.41" fill="#eeeeee"/>
<rect x="390.17" y="235.96" width="3.04" height="6.41" fill="#eeeeee"/>
<rect x="393.76" y="235.96" width="3.04" height="6.41" fill="#eeeeee"/>
<rect x="397.34" y="235.96" width="3.04" height="6.41" fill="#eeeeee"/>
<rect x="400.93" y="235.96" width="3.04" height="6.41" fill="#eeeeee"/>
<rect x="404.51" y="235.96" width="3.04" height="6.41" fill="#eeeeee"/>
<rect x="408.1" y="235.96" width="3.04" height="6.41" fill="#eeeeee"/>
<rect x="411.68" y="235.96" width="3.04" height="6.41" fill="#eeeeee"/>
<rect x="415.27" y="235.96" width="3.04" height="6.41" fill="#eeeeee"/>
<rect x="418.85" y="235.96" width="3.04" height="6.41" fill="#eeeeee"/>
<rect x="422.44" y="235.96" width="3.04" height="6.41" fill="#eeeeee"/>
<rect x="425.95" y="235.88" width="3.19" height="6.55" fill="#1c76c2" stroke="#125896" stroke-width="0.4"/>
<rect x="429.61" y="235.96" width="3.04" height="6.41" fill="#eeeeee"/>
<rect x="433.19" y="235.96" width="3.04" height="6.41" fill="#eeeeee"/>
<rect x="436.78" y="235.96" width="3.04" height="6.41" fill="#eeeeee"/>
<rect x="440.36" y="235.96" width="3.04" height="6.41" fill="#eeeeee"/>
<rect x="443.95" y="235.96" width="3.04" height="6.41" fill="#eeeeee"/>
<rect x="447.53" y="235.96" width="3.04" height="6.41" fill="#eeeeee"/>
<rect x="451.12" y="235.96" width="3.04" height="6.41" fill="#eeeeee"/>
<rect x="454.7" y="235.96" width="3.04" height="6.41" fill="#eeeeee"/>
<rect x="458.29" y="235.96" width="3.04" height="6.41" fill="#eeeeee"/>
<rect x="461.88" y="235.96" width="3.04" height="6.41" fill="#eeeeee"/>
<rect x="465.46" y="235.96" width="3.04" height="6.41" fill="#eeeeee"/>
<rect x="469.04" y="235.96" width="3.04" height="6.41" fill="#eeeeee"/>
<rect x="472.63" y="235.96" width="3.04" height="6.41" fill="#eeeeee"/>
<rect x="476.21" y="235.96" width="3.04" height="6.41" fill="#eeeeee"/>
<rect x="479.8" y="235.96" width="3.04" height="6.41" fill="#eeeeee"/>
<rect x="483.38" y="235.96" width="3.04" height="6.41" fill="#eeeeee"/>
<rect x="318.47" y="242.92" width="3.04" height="6.41" fill="#eeeeee"/>
<rect x="322.06" y="242.92" width="3.04" height="6.41" fill="#eeeeee"/>
<rect x="325.64" y="242.92" width="3.04" height="6.41" fill="#eeeeee"/>
<rect x="329.23" y="242.92" width="3.04" height="6.41" fill="#eeeeee"/>
<rect x="332.81" y="242.92" width="3.04" height="6.41" fill="#eeeeee"/>
<rect x="336.4" y="242.92" width="3.04" height="6.41" fill="#eeeeee"/>
<rect x="339.98" y="242.92" width="3.04" height="6.41" fill="#eeeeee"/>
<rect x="343.57" y="242.92" width="3.04" height="6.41" fill="#eeeeee"/>
<rect x="347.15" y="242.92" width="3.04" height="6.41" fill="#eeeeee"/>
<rect x="350.74" y="242.92" width="3.04" height="6.41" fill="#eeeeee"/>
<rect x="354.32" y="242.92" width="3.04" height="6.41" fill="#eeeeee"/>
<rect x="357.91" y="242.92" width="3.04" height="6.41" fill="#eeeeee"/>
<rect x="361.49" y="242.92" width="3.04" height="6.41" fill="#eeeeee"/>
<rect x="365.08" y="242.92" width="3.04" height="6.41" fill="#eeeeee"/>
<rect x="368.66" y="242.92" width="3.04" height="6.41" fill="#eeeeee"/>
<rect x="372.25" y="242.92" width="3.04" height="6.41" fill="#eeeeee"/>
<rect x="375.83" y="242.92" width="3.04" height="6.41" fill="#eeeeee"/>
<rect x="379.42" y="242.92" width="3.04" height="6.41" fill="#eeeeee"/>
<rect x="383" y="242.92" width="3.04" height="6.41" fill="#eeeeee"/>
<rect x="386.51" y="242.84" width="3.19" height="6.55" fill="#1c76c2" stroke="#125896" stroke-width="0.4"/>
<rect x="390.17" y="242.92" width="3.04" height="6.41" fill="#eeeeee"/>
<rect x="393.76" y="242.92" width="3.04" height="6.41" fill="#eeeeee"/>
<rect x="397.34" y="242.92" width="3.04" height="6.41" fill="#eeeeee"/>
<rect x="400.93" y="242.92" width="3.04" height="6.41" fill="#eeeeee"/>
<rect x="404.51" y="242.92" width="3.04" height="6.41" fill="#eeeeee"/>
<rect x="408.1" y="242.92" width="3.04" height="6.41" fill="#eeeeee"/>
<rect x="411.68" y="242.92" width="3.04" height="6.41" fill="#eeeeee"/>
<rect x="415.27" y="242.92" width="3.04" height="6.41" fill="#eeeeee"/>
<rect x="418.85" y="242.92" width="3.04" height="6.41" fill="#eeeeee"/>
<rect x="422.44" y="242.92" width="3.04" height="6.41" fill="#eeeeee"/>
<rect x="426.02" y="242.92" width="3.04" height="6.41" fill="#eeeeee"/>
<rect x="429.61" y="242.92" width="3.04" height="6.41" fill="#eeeeee"/>
<rect x="433.19" y="242.92" width="3.04" height="6.41" fill="#eeeeee"/>
<rect x="436.78" y="242.92" width="3.04" height="6.41" fill="#eeeeee"/>
<rect x="440.29" y="242.84" width="3.19" height="6.55" fill="#1c76c2" stroke="#125896" stroke-width="0.4"/>
<rect x="443.95" y="242.92" width="3.04" height="6.41" fill="#eeeeee"/>
<rect x="447.53" y="242.92" width="3.04" height="6.41" fill="#eeeeee"/>
<rect x="451.12" y="242.92" width="3.04" height="6.41" fill="#eeeeee"/>
<rect x="454.7" y="242.92" width="3.04" height="6.41" fill="#eeeeee"/>
<rect x="458.29" y="242.92" width="3.04" height="6.41" fill="#eeeeee"/>
<rect x="461.88" y="242.92" width="3.04" height="6.41" fill="#eeeeee"/>
<rect x="465.46" y="242.92" width="3.04" height="6.41" fill="#eeeeee"/>
<rect x="469.04" y="242.92" width="3.04" height="6.41" fill="#eeeeee"/>
<rect x="472.63" y="242.92" width="3.04" height="6.41" fill="#eeeeee"/>
<rect x="476.21" y="242.92" width="3.04" height="6.41" fill="#eeeeee"/>
<rect x="479.8" y="242.92" width="3.04" height="6.41" fill="#eeeeee"/>
<rect x="483.38" y="242.92" width="3.04" height="6.41" fill="#eeeeee"/>
<rect x="318.47" y="249.87" width="3.04" height="6.41" fill="#eeeeee"/>
<rect x="322.06" y="249.87" width="3.04" height="6.41" fill="#eeeeee"/>
<rect x="325.64" y="249.87" width="3.04" height="6.41" fill="#eeeeee"/>
<rect x="329.23" y="249.87" width="3.04" height="6.41" fill="#eeeeee"/>
<rect x="332.81" y="249.87" width="3.04" height="6.41" fill="#eeeeee"/>
<rect x="336.4" y="249.87" width="3.04" height="6.41" fill="#eeeeee"/>
<rect x="339.91" y="249.79" width="3.19" height="6.55" fill="#1c76c2" stroke="#125896" stroke-width="0.4"/>
<rect x="343.57" y="249.87" width="3.04" height="6.41" fill="#eeeeee"/>
<rect x="347.15" y="249.87" width="3.04" height="6.41" fill="#eeeeee"/>
<rect x="350.74" y="249.87" width="3.04" height="6.41" fill="#eeeeee"/>
<rect x="354.32" y="249.87" width="3.04" height="6.41" fill="#eeeeee"/>
<rect x="357.91" y="249.87" width="3.04" height="6.41" fill="#eeeeee"/>
<rect x="361.49" y="249.87" width="3.04" height="6.41" fill="#eeeeee"/>
<rect x="365.08" y="249.87" width="3.04" height="6.41" fill="#eeeeee"/>
<rect x="368.66" y="249.87" width="3.04" height="6.41" fill="#eeeeee"/>
<rect x="372.25" y="249.87" width="3.04" height="6.41" fill="#eeeeee"/>
<rect x="375.83" y="249.87" width="3.04" height="6.41" fill="#eeeeee"/>
<rect x="379.42" y="249.87" width="3.04" height="6.41" fill="#eeeeee"/>
<rect x="383" y="249.87" width="3.04" height="6.41" fill="#eeeeee"/>
<rect x="386.59" y="249.87" width="3.04" height="6.41" fill="#eeeeee"/>
<rect x="390.17" y="249.87" width="3.04" height="6.41" fill="#eeeeee"/>
<rect x="393.76" y="249.87" width="3.04" height="6.41" fill="#eeeeee"/>
<rect x="397.34" y="249.87" width="3.04" height="6.41" fill="#eeeeee"/>
<rect x="400.93" y="249.87" width="3.04" height="6.41" fill="#eeeeee"/>
<rect x="404.51" y="249.87" width="3.04" height="6.41" fill="#eeeeee"/>
<rect x="408.1" y="249.87" width="3.04" height="6.41" fill="#eeeeee"/>
<rect x="411.68" y="249.87" width="3.04" height="6.41" fill="#eeeeee"/>
<rect x="415.27" y="249.87" width="3.04" height="6.41" fill="#eeeeee"/>
<rect x="418.85" y="249.87" width="3.04" height="6.41" fill="#eeeeee"/>
<rect x="422.44" y="249.87" width="3.04" height="6.41" fill="#eeeeee"/>
<rect x="426.02" y="249.87" width="3.04" height="6.41" fill="#eeeeee"/>
<rect x="429.61" y="249.87" width="3.04" height="6.41" fill="#eeeeee"/>
<rect x="433.19" y="249.87" width="3.04" height="6.41" fill="#eeeeee"/>
<rect x="436.78" y="249.87" width="3.04" height="6.41" fill="#eeeeee"/>
<rect x="440.36" y="249.87" width="3.04" height="6.41" fill="#eeeeee"/>
<rect x="443.95" y="249.87" width="3.04" height="6.41" fill="#eeeeee"/>
<rect x="447.53" y="249.87" width="3.04" height="6.41" fill="#eeeeee"/>
<rect x="451.12" y="249.87" width="3.04" height="6.41" fill="#eeeeee"/>
<rect x="454.7" y="249.87" width="3.04" height="6.41" fill="#eeeeee"/>
<rect x="458.21" y="249.79" width="3.19" height="6.55" fill="#1c76c2" stroke="#125896" stroke-width="0.4"/>
<rect x="461.88" y="249.87" width="3.04" height="6.41" fill="#eeeeee"/>
<rect x="465.46" y="249.87" width="3.04" height="6.41" fill="#eeeeee"/>
<rect x="469.04" y="249.87" width="3.04" height="6.41" fill="#eeeeee"/>
<rect x="472.63" y="249.87" width="3.04" height="6.41" fill="#eeeeee"/>
<rect x="476.21" y="249.87" width="3.04" height="6.41" fill="#eeeeee"/>
<rect x="479.8" y="249.87" width="3.04" height="6.41" fill="#eeeeee"/>
<rect x="483.38" y="249.87" width="3.04" height="6.41" fill="#eeeeee"/>
<rect x="318.47" y="256.82" width="3.04" height="6.41" fill="#eeeeee"/>
<rect x="322.06" y="256.82" width="3.04" height="6.41" fill="#eeeeee"/>
<rect x="325.64" y="256.82" width="3.04" height="6.41" fill="#eeeeee"/>
<rect x="329.23" y="256.82" width="3.04" height="6.41" fill="#eeeeee"/>
<rect x="332.81" y="256.82" width="3.04" height="6.41" fill="#eeeeee"/>
<rect x="336.32" y="256.75" width="3.19" height="6.55" fill="#1c76c2" stroke="#125896" stroke-width="0.4"/>
<rect x="339.98" y="256.82" width="3.04" height="6.41" fill="#eeeeee"/>
<rect x="343.57" y="256.82" width="3.04" height="6.41" fill="#eeeeee"/>
<rect x="347.15" y="256.82" width="3.04" height="6.41" fill="#eeeeee"/>
<rect x="350.74" y="256.82" width="3.04" height="6.41" fill="#eeeeee"/>
<rect x="354.32" y="256.82" width="3.04" height="6.41" fill="#eeeeee"/>
<rect x="357.91" y="256.82" width="3.04" height="6.41" fill="#eeeeee"/>
<rect x="361.49" y="256.82" width="3.04" height="6.41" fill="#eeeeee"/>
<rect x="365.08" y="256.82" width="3.04" height="6.41" fill="#eeeeee"/>
<rect x="368.66" y="256.82" width="3.04" height="6.41" fill="#eeeeee"/>
<rect x="372.25" y="256.82" width="3.04" height="6.41" fill="#eeeeee"/>
<rect x="375.83" y="256.82" width="3.04" height="6.41" fill="#eeeeee"/>
<rect x="379.42" y="256.82" width="3.04" height="6.41" fill="#eeeeee"/>
<rect x="383" y="256.82" width="3.04" height="6.41" fill="#eeeeee"/>
<rect x="386.59" y="256.82" width="3.04" height="6.41" fill="#eeeeee"/>
<rect x="390.17" y="256.82" width="3.04" height="6.41" fill="#eeeeee"/>
<rect x="393.76" y="256.82" width="3.04" height="6.41" fill="#eeeeee"/>
<rect x="397.34" y="256.82" width="3.04" height="6.41" fill="#eeeeee"/>
<rect x="400.93" y="256.82" width="3.04" height="6.41" fill="#eeeeee"/>
<rect x="404.51" y="256.82" width="3.04" height="6.41" fill="#eeeeee"/>
<rect x="408.1" y="256.82" width="3.04" height="6.41" fill="#eeeeee"/>
<rect x="411.68" y="256.82" width="3.04" height="6.41" fill="#eeeeee"/>
<rect x="415.27" y="256.82" width="3.04" height="6.41" fill="#eeeeee"/>
<rect x="418.85" y="256.82" width="3.04" height="6.41" fill="#eeeeee"/>
<rect x="422.44" y="256.82" width="3.04" height="6.41" fill="#eeeeee"/>
<rect x="426.02" y="256.82" width="3.04" height="6.41" fill="#eeeeee"/>
<rect x="429.61" y="256.82" width="3.04" height="6.41" fill="#eeeeee"/>
<rect x="433.19" y="256.82" width="3.04" height="6.41" fill="#eeeeee"/>
<rect x="436.78" y="256.82" width="3.04" height="6.41" fill="#eeeeee"/>
<rect x="440.36" y="256.82" width="3.04" height="6.41" fill="#eeeeee"/>
<rect x="443.95" y="256.82" width="3.04" height="6.41" fill="#eeeeee"/>
<rect x="447.53" y="256.82" width="3.04" height="6.41" fill="#eeeeee"/>
<rect x="451.05" y="256.75" width="3.19" height="6.55" fill="#1c76c2" stroke="#125896" stroke-width="0.4"/>
<rect x="454.7" y="256.82" width="3.04" height="6.41" fill="#eeeeee"/>
<rect x="458.29" y="256.82" width="3.04" height="6.41" fill="#eeeeee"/>
<rect x="461.88" y="256.82" width="3.04" height="6.41" fill="#eeeeee"/>
<rect x="465.46" y="256.82" width="3.04" height="6.41" fill="#eeeeee"/>
<rect x="469.04" y="256.82" width="3.04" height="6.41" fill="#eeeeee"/>
<rect x="472.63" y="256.82" width="3.04" height="6.41" fill="#eeeeee"/>
<rect x="476.21" y="256.82" width="3.04" height="6.41" fill="#eeeeee"/>
<rect x="479.8" y="256.82" width="3.04" height="6.41" fill="#eeeeee"/>
<rect x="483.38" y="256.82" width="3.04" height="6.41" fill="#eeeeee"/>
<rect x="318.47" y="263.78" width="3.04" height="6.41" fill="#eeeeee"/>
<rect x="322.06" y="263.78" width="3.04" height="6.41" fill="#eeeeee"/>
<rect x="325.64" y="263.78" width="3.04" height="6.41" fill="#eeeeee"/>
<rect x="329.23" y="263.78" width="3.04" height="6.41" fill="#eeeeee"/>
<rect x="332.81" y="263.78" width="3.04" height="6.41" fill="#eeeeee"/>
<rect x="336.4" y="263.78" width="3.04" height="6.41" fill="#eeeeee"/>
<rect x="339.91" y="263.7" width="3.19" height="6.55" fill="#1c76c2" stroke="#125896" stroke-width="0.4"/>
<rect x="343.57" y="263.78" width="3.04" height="6.41" fill="#eeeeee"/>
<rect x="347.15" y="263.78" width="3.04" height="6.41" fill="#eeeeee"/>
<rect x="350.74" y="263.78" width="3.04" height="6.41" fill="#eeeeee"/>
<rect x="354.32" y="263.78" width="3.04" height="6.41" fill="#eeeeee"/>
<rect x="357.91" y="263.78" width="3.04" height="6.41" fill="#eeeeee"/>
<rect x="361.49" y="263.78" width="3.04" height="6.41" fill="#eeeeee"/>
<rect x="365.08" y="263.78" width="3.04" height="6.41" fill="#eeeeee"/>
<rect x="368.66" y="263.78" width="3.04" height="6.41" fill="#eeeeee"/>
<rect x="372.25" y="263.78" width="3.04" height="6.41" fill="#eeeeee"/>
<rect x="375.83" y="263.78" width="3.04" height="6.41" fill="#eeeeee"/>
<rect x="379.42" y="263.78" width="3.04" height="6.41" fill="#eeeeee"/>
<rect x="383" y="263.78" width="3.04" height="6.41" fill="#eeeeee"/>
<rect x="386.59" y="263.78" width="3.04" height="6.41" fill="#eeeeee"/>
<rect x="390.17" y="263.78" width="3.04" height="6.41" fill="#eeeeee"/>
<rect x="393.76" y="263.78" width="3.04" height="6.41" fill="#eeeeee"/>
<rect x="397.34" y="263.78" width="3.04" height="6.41" fill="#eeeeee"/>
<rect x="400.93" y="263.78" width="3.04" height="6.41" fill="#eeeeee"/>
<rect x="404.51" y="263.78" width="3.04" height="6.41" fill="#eeeeee"/>
<rect x="408.1" y="263.78" width="3.04" height="6.41" fill="#eeeeee"/>
<rect x="411.68" y="263.78" width="3.04" height="6.41" fill="#eeeeee"/>
<rect x="415.27" y="263.78" width="3.04" height="6.41" fill="#eeeeee"/>
<rect x="418.85" y="263.78" width="3.04" height="6.41" fill="#eeeeee"/>
<rect x="422.44" y="263.78" width="3.04" height="6.41" fill="#eeeeee"/>
<rect x="426.02" y="263.78" width="3.04" height="6.41" fill="#eeeeee"/>
<rect x="429.61" y="263.78" width="3.04" height="6.41" fill="#eeeeee"/>
<rect x="433.19" y="263.78" width="3.04" height="6.41" fill="#eeeeee"/>
<rect x="436.78" y="263.78" width="3.04" height="6.41" fill="#eeeeee"/>
<rect x="440.36" y="263.78" width="3.04" height="6.41" fill="#eeeeee"/>
<rect x="443.95" y="263.78" width="3.04" height="6.41" fill="#eeeeee"/>
<rect x="447.53" y="263.78" width="3.04" height="6.41" fill="#eeeeee"/>
<rect x="451.12" y="263.78" width="3.04" height="6.41" fill="#eeeeee"/>
<rect x="454.7" y="263.78" width="3.04" height="6.41" fill="#eeeeee"/>
<rect x="458.29" y="263.78" width="3.04" height="6.41" fill="#eeeeee"/>
<rect x="461.88" y="263.78" width="3.04" height="6.41" fill="#eeeeee"/>
<rect x="465.46" y="263.78" width="3.04" height="6.41" fill="#eeeeee"/>
<rect x="469.04" y="263.78" width="3.04" height="6.41" fill="#eeeeee"/>
<rect x="472.63" y="263.78" width="3.04" height="6.41" fill="#eeeeee"/>
<rect x="476.21" y="263.78" width="3.04" height="6.41" fill="#eeeeee"/>
<rect x="479.8" y="263.78" width="3.04" height="6.41" fill="#eeeeee"/>
<rect x="483.38" y="263.78" width="3.04" height="6.41" fill="#eeeeee"/>
<rect x="318.47" y="270.73" width="3.04" height="6.41" fill="#eeeeee"/>
<rect x="322.06" y="270.73" width="3.04" height="6.41" fill="#eeeeee"/>
<rect x="325.64" y="270.73" width="3.04" height="6.41" fill="#eeeeee"/>
<rect x="329.23" y="270.73" width="3.04" height="6.41" fill="#eeeeee"/>
<rect x="332.81" y="270.73" width="3.04" height="6.41" fill="#eeeeee"/>
<rect x="336.4" y="270.73" width="3.04" height="6.41" fill="#eeeeee"/>
<rect x="339.98" y="270.73" width="3.04" height="6.41" fill="#eeeeee"/>
<rect x="343.57" y="270.73" width="3.04" height="6.41" fill="#eeeeee"/>
<rect x="347.15" y="270.73" width="3.04" height="6.41" fill="#eeeeee"/>
<rect x="350.74" y="270.73" width="3.04" height="6.41" fill="#eeeeee"/>
<rect x="354.32" y="270.73" width="3.04" height="6.41" fill="#eeeeee"/>
<rect x="357.91" y="270.73" width="3.04" height="6.41" fill="#eeeeee"/>
<rect x="361.49" y="270.73" width="3.04" height="6.41" fill="#eeeeee"/>
<rect x="365.08" y="270.73" width="3.04" height="6.41" fill="#eeeeee"/>
<rect x="368.66" y="270.73" width="3.04" height="6.41" fill="#eeeeee"/>
<rect x="372.25" y="270.73" width="3.04" height="6.41" fill="#eeeeee"/>
<rect x="375.83" y="270.73" width="3.04" height="6.41" fill="#eeeeee"/>
<rect x="379.42" y="270.73" width="3.04" height="6.41" fill="#eeeeee"/>
<rect x="383" y="270.73" width="3.04" height="6.41" fill="#eeeeee"/>
<rect x="386.59" y="270.73" width="3.04" height="6.41" fill="#eeeeee"/>
<rect x="390.17" y="270.73" width="3.04" height="6.41" fill="#eeeeee"/>
<rect x="393.76" y="270.73" width="3.04" height="6.41" fill="#eeeeee"/>
<rect x="397.34" y="270.73" width="3.04" height="6.41" fill="#eeeeee"/>
<rect x="400.93" y="270.73" width="3.04" height="6.41" fill="#eeeeee"/>
<rect x="404.51" y="270.73" width="3.04" height="6.41" fill="#eeeeee"/>
<rect x="408.1" y="270.73" width="3.04" height="6.41" fill="#eeeeee"/>
<rect x="411.68" y="270.73" width="3.04" height="6.41" fill="#eeeeee"/>
<rect x="415.27" y="270.73" width="3.04" height="6.41" fill="#eeeeee"/>
<rect x="418.85" y="270.73" width="3.04" height="6.41" fill="#eeeeee"/>
<rect x="422.44" y="270.73" width="3.04" height="6.41" fill="#eeeeee"/>
<rect x="426.02" y="270.73" width="3.04" height="6.41" fill="#eeeeee"/>
<rect x="429.61" y="270.73" width="3.04" height="6.41" fill="#eeeeee"/>
<rect x="433.19" y="270.73" width="3.04" height="6.41" fill="#eeeeee"/>
<rect x="436.78" y="270.73" width="3.04" height="6.41" fill="#eeeeee"/>
<rect x="440.36" y="270.73" width="3.04" height="6.41" fill="#eeeeee"/>
<rect x="443.95" y="270.73" width="3.04" height="6.41" fill="#eeeeee"/>
<rect x="447.53" y="270.73" width="3.04" height="6.41" fill="#eeeeee"/>
<rect x="451.12" y="270.73" width="3.04" height="6.41" fill="#eeeeee"/>
<rect x="454.7" y="270.73" width="3.04" height="6.41" fill="#eeeeee"/>
<rect x="458.21" y="270.66" width="3.19" height="6.55" fill="#1c76c2" stroke="#125896" stroke-width="0.4"/>
<rect x="461.88" y="270.73" width="3.04" height="6.41" fill="#eeeeee"/>
<rect x="465.46" y="270.73" width="3.04" height="6.41" fill="#eeeeee"/>
<rect x="469.04" y="270.73" width="3.04" height="6.41" fill="#eeeeee"/>
<rect x="472.63" y="270.73" width="3.04" height="6.41" fill="#eeeeee"/>
<rect x="476.21" y="270.73" width="3.04" height="6.41" fill="#eeeeee"/>
<rect x="479.8" y="270.73" width="3.04" height="6.41" fill="#eeeeee"/>
<rect x="483.38" y="270.73" width="3.04" height="6.41" fill="#eeeeee"/>
<rect x="318.47" y="277.69" width="3.04" height="6.41" fill="#eeeeee"/>
<rect x="322.06" y="277.69" width="3.04" height="6.41" fill="#eeeeee"/>
<rect x="325.64" y="277.69" width="3.04" height="6.41" fill="#eeeeee"/>
<rect x="329.23" y="277.69" width="3.04" height="6.41" fill="#eeeeee"/>
<rect x="332.81" y="277.69" width="3.04" height="6.41" fill="#eeeeee"/>
<rect x="336.4" y="277.69" width="3.04" height="6.41" fill="#eeeeee"/>
<rect x="339.98" y="277.69" width="3.04" height="6.41" fill="#eeeeee"/>
<rect x="343.57" y="277.69" width="3.04" height="6.41" fill="#eeeeee"/>
<rect x="347.15" y="277.69" width="3.04" height="6.41" fill="#eeeeee"/>
<rect x="350.74" y="277.69" width="3.04" height="6.41" fill="#eeeeee"/>
<rect x="354.32" y="277.69" width="3.04" height="6.41" fill="#eeeeee"/>
<rect x="357.91" y="277.69" width="3.04" height="6.41" fill="#eeeeee"/>
<rect x="361.49" y="277.69" width="3.04" height="6.41" fill="#eeeeee"/>
<rect x="365.08" y="277.69" width="3.04" height="6.41" fill="#eeeeee"/>
<rect x="368.66" y="277.69" width="3.04" height="6.41" fill="#eeeeee"/>
<rect x="372.25" y="277.69" width="3.04" height="6.41" fill="#eeeeee"/>
<rect x="375.83" y="277.69" width="3.04" height="6.41" fill="#eeeeee"/>
<rect x="379.42" y="277.69" width="3.04" height="6.41" fill="#eeeeee"/>
<rect x="382.93" y="277.62" width="3.19" height="6.55" fill="#1c76c2" stroke="#125896" stroke-width="0.4"/>
<rect x="386.59" y="277.69" width="3.04" height="6.41" fill="#eeeeee"/>
<rect x="390.17" y="277.69" width="3.04" height="6.41" fill="#eeeeee"/>
<rect x="393.76" y="277.69" width="3.04" height="6.41" fill="#eeeeee"/>
<rect x="397.34" y="277.69" width="3.04" height="6.41" fill="#eeeeee"/>
<rect x="400.93" y="277.69" width="3.04" height="6.41" fill="#eeeeee"/>
<rect x="404.51" y="277.69" width="3.04" height="6.41" fill="#eeeeee"/>
<rect x="408.1" y="277.69" width="3.04" height="6.41" fill="#eeeeee"/>
<rect x="411.68" y="277.69" width="3.04" height="6.41" fill="#eeeeee"/>
<rect x="415.27" y="277.69" width="3.04" height="6.41" fill="#eeeeee"/>
<rect x="418.85" y="277.69" width="3.04" height="6.41" fill="#eeeeee"/>
<rect x="422.44" y="277.69" width="3.04" height="6.41" fill="#eeeeee"/>
<rect x="426.02" y="277.69" width="3.04" height="6.41" fill="#eeeeee"/>
<rect x="429.61" y="277.69" width="3.04" height="6.41" fill="#eeeeee"/>
<rect x="433.19" y="277.69" width="3.04" height="6.41" fill="#eeeeee"/>
<rect x="436.78" y="277.69" width="3.04" height="6.41" fill="#eeeeee"/>
<rect x="440.36" y="277.69" width="3.04" height="6.41" fill="#eeeeee"/>
<rect x="443.95" y="277.69" width="3.04" height="6.41" fill="#eeeeee"/>
<rect x="447.53" y="277.69" width="3.04" height="6.41" fill="#eeeeee"/>
<rect x="451.12" y="277.69" width="3.04" height="6.41" fill="#eeeeee"/>
<rect x="454.7" y="277.69" width="3.04" height="6.41" fill="#eeeeee"/>
<rect x="458.29" y="277.69" width="3.04" height="6.41" fill="#eeeeee"/>
<rect x="461.88" y="277.69" width="3.04" height="6.41" fill="#eeeeee"/>
<rect x="465.46" y="277.69" width="3.04" height="6.41" fill="#eeeeee"/>
<rect x="469.04" y="277.69" width="3.04" height="6.41" fill="#eeeeee"/>
<rect x="472.63" y="277.69" width="3.04" height="6.41" fill="#eeeeee"/>
<rect x="476.21" y="277.69" width="3.04" height="6.41" fill="#eeeeee"/>
<rect x="479.8" y="277.69" width="3.04" height="6.41" fill="#eeeeee"/>
<rect x="483.38" y="277.69" width="3.04" height="6.41" fill="#eeeeee"/>
<rect x="318.47" y="284.64" width="3.04" height="6.41" fill="#eeeeee"/>
<rect x="322.06" y="284.64" width="3.04" height="6.41" fill="#eeeeee"/>
<rect x="325.64" y="284.64" width="3.04" height="6.41" fill="#eeeeee"/>
<rect x="329.23" y="284.64" width="3.04" height="6.41" fill="#eeeeee"/>
<rect x="332.81" y="284.64" width="3.04" height="6.41" fill="#eeeeee"/>
<rect x="336.4" y="284.64" width="3.04" height="6.41" fill="#eeeeee"/>
<rect x="339.91" y="284.57" width="3.19" height="6.55" fill="#1c76c2" stroke="#125896" stroke-width="0.4"/>
<rect x="343.57" y="284.64" width="3.04" height="6.41" fill="#eeeeee"/>
<rect x="347.15" y="284.64" width="3.04" height="6.41" fill="#eeeeee"/>
<rect x="350.74" y="284.64" width="3.04" height="6.41" fill="#eeeeee"/>
<rect x="354.32" y="284.64" width="3.04" height="6.41" fill="#eeeeee"/>
<rect x="357.91" y="284.64" width="3.04" height="6.41" fill="#eeeeee"/>
<rect x="361.49" y="284.64" width="3.04" height="6.41" fill="#eeeeee"/>
<rect x="365.08" y="284.64" width="3.04" height="6.41" fill="#eeeeee"/>
<rect x="368.66" y="284.64" width="3.04" height="6.41" fill="#eeeeee"/>
<rect x="372.25" y="284.64" width="3.04" height="6.41" fill="#eeeeee"/>
<rect x="375.83" y="284.64" width="3.04" height="6.41" fill="#eeeeee"/>
<rect x="379.42" y="284.64" width="3.04" height="6.41" fill="#eeeeee"/>
<rect x="383" y="284.64" width="3.04" height="6.41" fill="#eeeeee"/>
<rect x="386.59" y="284.64" width="3.04" height="6.41" fill="#eeeeee"/>
<rect x="390.17" y="284.64" width="3.04" height="6.41" fill="#eeeeee"/>
<rect x="393.76" y="284.64" width="3.04" height="6.41" fill="#eeeeee"/>
<rect x="397.34" y="284.64" width="3.04" height="6.41" fill="#eeeeee"/>
<rect x="400.93" y="284.64" width="3.04" height="6.41" fill="#eeeeee"/>
<rect x="404.51" y="284.64" width="3.04" height="6.41" fill="#eeeeee"/>
<rect x="408.1" y="284.64" width="3.04" height="6.41" fill="#eeeeee"/>
<rect x="411.68" y="284.64" width="3.04" height="6.41" fill="#eeeeee"/>
<rect x="415.27" y="284.64" width="3.04" height="6.41" fill="#eeeeee"/>
<rect x="418.85" y="284.64" width="3.04" height="6.41" fill="#eeeeee"/>
<rect x="422.44" y="284.64" width="3.04" height="6.41" fill="#eeeeee"/>
<rect x="426.02" y="284.64" width="3.04" height="6.41" fill="#eeeeee"/>
<rect x="429.61" y="284.64" width="3.04" height="6.41" fill="#eeeeee"/>
<rect x="433.19" y="284.64" width="3.04" height="6.41" fill="#eeeeee"/>
<rect x="436.78" y="284.64" width="3.04" height="6.41" fill="#eeeeee"/>
<rect x="440.36" y="284.64" width="3.04" height="6.41" fill="#eeeeee"/>
<rect x="443.95" y="284.64" width="3.04" height="6.41" fill="#eeeeee"/>
<rect x="447.53" y="284.64" width="3.04" height="6.41" fill="#eeeeee"/>
<rect x="451.12" y="284.64" width="3.04" height="6.41" fill="#eeeeee"/>
<rect x="454.7" y="284.64" width="3.04" height="6.41" fill="#eeeeee"/>
<rect x="458.29" y="284.64" width="3.04" height="6.41" fill="#eeeeee"/>
<rect x="461.88" y="284.64" width="3.04" height="6.41" fill="#eeeeee"/>
<rect x="465.46" y="284.64" width="3.04" height="6.41" fill="#eeeeee"/>
<rect x="469.04" y="284.64" width="3.04" height="6.41" fill="#eeeeee"/>
<rect x="472.63" y="284.64" width="3.04" height="6.41" fill="#eeeeee"/>
<rect x="476.21" y="284.64" width="3.04" height="6.41" fill="#eeeeee"/>
<rect x="479.8" y="284.64" width="3.04" height="6.41" fill="#eeeeee"/>
<rect x="483.38" y="284.64" width="3.04" height="6.41" fill="#eeeeee"/>
<rect x="318.47" y="291.6" width="3.04" height="6.41" fill="#eeeeee"/>
<rect x="322.06" y="291.6" width="3.04" height="6.41" fill="#eeeeee"/>
<rect x="325.64" y="291.6" width="3.04" height="6.41" fill="#eeeeee"/>
<rect x="329.23" y="291.6" width="3.04" height="6.41" fill="#eeeeee"/>
<rect x="332.81" y="291.6" width="3.04" height="6.41" fill="#eeeeee"/>
<rect x="336.4" y="291.6" width="3.04" height="6.41" fill="#eeeeee"/>
<rect x="339.98" y="291.6" width="3.04" height="6.41" fill="#eeeeee"/>
<rect x="343.57" y="291.6" width="3.04" height="6.41" fill="#eeeeee"/>
<rect x="347.15" y="291.6" width="3.04" height="6.41" fill="#eeeeee"/>
<rect x="350.74" y="291.6" width="3.04" height="6.41" fill="#eeeeee"/>
<rect x="354.32" y="291.6" width="3.04" height="6.41" fill="#eeeeee"/>
<rect x="357.91" y="291.6" width="3.04" height="6.41" fill="#eeeeee"/>
<rect x="361.49" y="291.6" width="3.04" height="6.41" fill="#eeeeee"/>
<rect x="365.08" y="291.6" width="3.04" height="6.41" fill="#eeeeee"/>
<rect x="368.66" y="291.6" width="3.04" height="6.41" fill="#eeeeee"/>
<rect x="372.25" y="291.6" width="3.04" height="6.41" fill="#eeeeee"/>
<rect x="375.83" y="291.6" width="3.04" height="6.41" fill="#eeeeee"/>
<rect x="379.42" y="291.6" width="3.04" height="6.41" fill="#eeeeee"/>
<rect x="383" y="291.6" width="3.04" height="6.41" fill="#eeeeee"/>
<rect x="386.59" y="291.6" width="3.04" height="6.41" fill="#eeeeee"/>
<rect x="390.17" y="291.6" width="3.04" height="6.41" fill="#eeeeee"/>
<rect x="393.76" y="291.6" width="3.04" height="6.41" fill="#eeeeee"/>
<rect x="397.34" y="291.6" width="3.04" height="6.41" fill="#eeeeee"/>
<rect x="400.93" y="291.6" width="3.04" height="6.41" fill="#eeeeee"/>
<rect x="404.51" y="291.6" width="3.04" height="6.41" fill="#eeeeee"/>
<rect x="408.1" y="291.6" width="3.04" height="6.41" fill="#eeeeee"/>
<rect x="411.68" y="291.6" width="3.04" height="6.41" fill="#eeeeee"/>
<rect x="415.27" y="291.6" width="3.04" height="6.41" fill="#eeeeee"/>
<rect x="418.85" y="291.6" width="3.04" height="6.41" fill="#eeeeee"/>
<rect x="422.44" y="291.6" width="3.04" height="6.41" fill="#eeeeee"/>
<rect x="426.02" y="291.6" width="3.04" height="6.41" fill="#eeeeee"/>
<rect x="429.61" y="291.6" width="3.04" height="6.41" fill="#eeeeee"/>
<rect x="433.19" y="291.6" width="3.04" height="6.41" fill="#eeeeee"/>
<rect x="436.78" y="291.6" width="3.04" height="6.41" fill="#eeeeee"/>
<rect x="440.36" y="291.6" width="3.04" height="6.41" fill="#eeeeee"/>
<rect x="443.95" y="291.6" width="3.04" height="6.41" fill="#eeeeee"/>
<rect x="447.53" y="291.6" width="3.04" height="6.41" fill="#eeeeee"/>
<rect x="451.12" y="291.6" width="3.04" height="6.41" fill="#eeeeee"/>
<rect x="454.63" y="291.52" width="3.19" height="6.55" fill="#1c76c2" stroke="#125896" stroke-width="0.4"/>
<rect x="458.29" y="291.6" width="3.04" height="6.41" fill="#eeeeee"/>
<rect x="461.88" y="291.6" width="3.04" height="6.41" fill="#eeeeee"/>
<rect x="465.46" y="291.6" width="3.04" height="6.41" fill="#eeeeee"/>
<rect x="469.04" y="291.6" width="3.04" height="6.41" fill="#eeeeee"/>
<rect x="472.63" y="291.6" width="3.04" height="6.41" fill="#eeeeee"/>
<rect x="476.21" y="291.6" width="3.04" height="6.41" fill="#eeeeee"/>
<rect x="479.8" y="291.6" width="3.04" height="6.41" fill="#eeeeee"/>
<rect x="483.38" y="291.6" width="3.04" height="6.41" fill="#eeeeee"/>
<rect x="318.47" y="298.55" width="3.04" height="6.41" fill="#eeeeee"/>
<rect x="322.06" y="298.55" width="3.04" height="6.41" fill="#eeeeee"/>
<rect x="325.64" y="298.55" width="3.04" height="6.41" fill="#eeeeee"/>
<rect x="329.23" y="298.55" width="3.04" height="6.41" fill="#eeeeee"/>
<rect x="332.81" y="298.55" width="3.04" height="6.41" fill="#eeeeee"/>
<rect x="336.4" y="298.55" width="3.04" height="6.41" fill="#eeeeee"/>
<rect x="339.98" y="298.55" width="3.04" height="6.41" fill="#eeeeee"/>
<rect x="343.57" y="298.55" width="3.04" height="6.41" fill="#eeeeee"/>
<rect x="347.08" y="298.48" width="3.19" height="6.55" fill="#1c76c2" stroke="#125896" stroke-width="0.4"/>
<rect x="350.74" y="298.55" width="3.04" height="6.41" fill="#eeeeee"/>
<rect x="354.32" y="298.55" width="3.04" height="6.41" fill="#eeeeee"/>
<rect x="357.91" y="298.55" width="3.04" height="6.41" fill="#eeeeee"/>
<rect x="361.49" y="298.55" width="3.04" height="6.41" fill="#eeeeee"/>
<rect x="365.08" y="298.55" width="3.04" height="6.41" fill="#eeeeee"/>
<rect x="368.66" y="298.55" width="3.04" height="6.41" fill="#eeeeee"/>
<rect x="372.25" y="298.55" width="3.04" height="6.41" fill="#eeeeee"/>
<rect x="375.83" y="298.55" width="3.04" height="6.41" fill="#eeeeee"/>
<rect x="379.42" y="298.55" width="3.04" height="6.41" fill="#eeeeee"/>
<rect x="383" y="298.55" width="3.04" height="6.41" fill="#eeeeee"/>
<rect x="386.59" y="298.55" width="3.04" height="6.41" fill="#eeeeee"/>
<rect x="390.17" y="298.55" width="3.04" height="6.41" fill="#eeeeee"/>
<rect x="393.76" y="298.55" width="3.04" height="6.41" fill="#eeeeee"/>
<rect x="397.34" y="298.55" width="3.04" height="6.41" fill="#eeeeee"/>
<rect x="400.93" y="298.55" width="3.04" height="6.41" fill="#eeeeee"/>
<rect x="404.51" y="298.55" width="3.04" height="6.41" fill="#eeeeee"/>
<rect x="408.1" y="298.55" width="3.04" height="6.41" fill="#eeeeee"/>
<rect x="411.68" y="298.55" width="3.04" height="6.41" fill="#eeeeee"/>
<rect x="415.27" y="298.55" width="3.04" height="6.41" fill="#eeeeee"/>
<rect x="418.85" y="298.55" width="3.04" height="6.41" fill="#eeeeee"/>
<rect x="422.44" y="298.55" width="3.04" height="6.41" fill="#eeeeee"/>
<rect x="426.02" y="298.55" width="3.04" height="6.41" fill="#eeeeee"/>
<rect x="429.61" y="298.55" width="3.04" height="6.41" fill="#eeeeee"/>
<rect x="433.19" y="298.55" width="3.04" height="6.41" fill="#eeeeee"/>
<rect x="436.78" y="298.55" width="3.04" height="6.41" fill="#eeeeee"/>
<rect x="440.36" y="298.55" width="3.04" height="6.41" fill="#eeeeee"/>
<rect x="443.95" y="298.55" width="3.04" height="6.41" fill="#eeeeee"/>
<rect x="447.53" y="298.55" width="3.04" height="6.41" fill="#eeeeee"/>
<rect x="451.12" y="298.55" width="3.04" height="6.41" fill="#eeeeee"/>
<rect x="454.7" y="298.55" width="3.04" height="6.41" fill="#eeeeee"/>
<rect x="458.29" y="298.55" width="3.04" height="6.41" fill="#eeeeee"/>
<rect x="461.88" y="298.55" width="3.04" height="6.41" fill="#eeeeee"/>
<rect x="465.46" y="298.55" width="3.04" height="6.41" fill="#eeeeee"/>
<rect x="469.04" y="298.55" width="3.04" height="6.41" fill="#eeeeee"/>
<rect x="472.63" y="298.55" width="3.04" height="6.41" fill="#eeeeee"/>
<rect x="476.21" y="298.55" width="3.04" height="6.41" fill="#eeeeee"/>
<rect x="479.8" y="298.55" width="3.04" height="6.41" fill="#eeeeee"/>
<rect x="483.38" y="298.55" width="3.04" height="6.41" fill="#eeeeee"/>
<rect x="318.47" y="305.51" width="3.04" height="6.41" fill="#eeeeee"/>
<rect x="321.98" y="305.43" width="3.19" height="6.55" fill="#1c76c2" stroke="#125896" stroke-width="0.4"/>
<rect x="325.64" y="305.51" width="3.04" height="6.41" fill="#eeeeee"/>
<rect x="329.23" y="305.51" width="3.04" height="6.41" fill="#eeeeee"/>
<rect x="332.81" y="305.51" width="3.04" height="6.41" fill="#eeeeee"/>
<rect x="336.4" y="305.51" width="3.04" height="6.41" fill="#eeeeee"/>
<rect x="339.98" y="305.51" width="3.04" height="6.41" fill="#eeeeee"/>
<rect x="343.57" y="305.51" width="3.04" height="6.41" fill="#eeeeee"/>
<rect x="347.15" y="305.51" width="3.04" height="6.41" fill="#eeeeee"/>
<rect x="350.74" y="305.51" width="3.04" height="6.41" fill="#eeeeee"/>
<rect x="354.32" y="305.51" width="3.04" height="6.41" fill="#eeeeee"/>
<rect x="357.91" y="305.51" width="3.04" height="6.41" fill="#eeeeee"/>
<rect x="361.49" y="305.51" width="3.04" height="6.41" fill="#eeeeee"/>
<rect x="365.08" y="305.51" width="3.04" height="6.41" fill="#eeeeee"/>
<rect x="368.66" y="305.51" width="3.04" height="6.41" fill="#eeeeee"/>
<rect x="372.25" y="305.51" width="3.04" height="6.41" fill="#eeeeee"/>
<rect x="375.83" y="305.51" width="3.04" height="6.41" fill="#eeeeee"/>
<rect x="379.42" y="305.51" width="3.04" height="6.41" fill="#eeeeee"/>
<rect x="383" y="305.51" width="3.04" height="6.41" fill="#eeeeee"/>
<rect x="386.59" y="305.51" width="3.04" height="6.41" fill="#eeeeee"/>
<rect x="390.17" y="305.51" width="3.04" height="6.41" fill="#eeeeee"/>
<rect x="393.76" y="305.51" width="3.04" height="6.41" fill="#eeeeee"/>
<rect x="397.34" y="305.51" width="3.04" height="6.41" fill="#eeeeee"/>
<rect x="400.93" y="305.51" width="3.04" height="6.41" fill="#eeeeee"/>
<rect x="404.51" y="305.51" width="3.04" height="6.41" fill="#eeeeee"/>
<rect x="408.1" y="305.51" width="3.04" height="6.41" fill="#eeeeee"/>
<rect x="411.68" y="305.51" width="3.04" height="6.41" fill="#eeeeee"/>
<rect x="415.27" y="305.51" width="3.04" height="6.41" fill="#eeeeee"/>
<rect x="418.85" y="305.51" width="3.04" height="6.41" fill="#eeeeee"/>
<rect x="422.44" y="305.51" width="3.04" height="6.41" fill="#eeeeee"/>
<rect x="426.02" y="305.51" width="3.04" height="6.41" fill="#eeeeee"/>
<rect x="429.61" y="305.51" width="3.04" height="6.41" fill="#eeeeee"/>
<rect x="433.19" y="305.51" width="3.04" height="6.41" fill="#eeeeee"/>
<rect x="436.78" y="305.51" width="3.04" height="6.41" fill="#eeeeee"/>
<rect x="440.36" y="305.51" width="3.04" height="6.41" fill="#eeeeee"/>
<rect x="443.95" y="305.51" width="3.04" height="6.41" fill="#eeeeee"/>
<rect x="447.53" y="305.51" width="3.04" height="6.41" fill="#eeeeee"/>
<rect x="451.12" y="305.51" width="3.04" height="6.41" fill="#eeeeee"/>
<rect x="454.7" y="305.51" width="3.04" height="6.41" fill="#eeeeee"/>
<rect x="458.29" y="305.51" width="3.04" height="6.41" fill="#eeeeee"/>
<rect x="461.88" y="305.51" width="3.04" height="6.41" fill="#eeeeee"/>
<rect x="465.46" y="305.51" width="3.04" height="6.41" fill="#eeeeee"/>
<rect x="469.04" y="305.51" width="3.04" height="6.41" fill="#eeeeee"/>
<rect x="472.63" y="305.51" width="3.04" height="6.41" fill="#eeeeee"/>
<rect x="476.21" y="305.51" width="3.04" height="6.41" fill="#eeeeee"/>
<rect x="479.8" y="305.51" width="3.04" height="6.41" fill="#eeeeee"/>
<rect x="483.38" y="305.51" width="3.04" height="6.41" fill="#eeeeee"/>
<rect x="318.47" y="312.46" width="3.04" height="6.41" fill="#eeeeee"/>
<rect x="322.06" y="312.46" width="3.04" height="6.41" fill="#eeeeee"/>
<rect x="325.64" y="312.46" width="3.04" height="6.41" fill="#eeeeee"/>
<rect x="329.23" y="312.46" width="3.04" height="6.41" fill="#eeeeee"/>
<rect x="332.81" y="312.46" width="3.04" height="6.41" fill="#eeeeee"/>
<rect x="336.4" y="312.46" width="3.04" height="6.41" fill="#eeeeee"/>
<rect x="339.98" y="312.46" width="3.04" height="6.41" fill="#eeeeee"/>
<rect x="343.57" y="312.46" width="3.04" height="6.41" fill="#eeeeee"/>
<rect x="347.15" y="312.46" width="3.04" height="6.41" fill="#eeeeee"/>
<rect x="350.74" y="312.46" width="3.04" height="6.41" fill="#eeeeee"/>
<rect x="354.32" y="312.46" width="3.04" height="6.41" fill="#eeeeee"/>
<rect x="357.91" y="312.46" width="3.04" height="6.41" fill="#eeeeee"/>
<rect x="361.49" y="312.46" width="3.04" height="6.41" fill="#eeeeee"/>
<rect x="365.08" y="312.46" width="3.04" height="6.41" fill="#eeeeee"/>
<rect x="368.66" y="312.46" width="3.04" height="6.41" fill="#eeeeee"/>
<rect x="372.25" y="312.46" width="3.04" height="6.41" fill="#eeeeee"/>
<rect x="375.83" y="312.46" width="3.04" height="6.41" fill="#eeeeee"/>
<rect x="379.42" y="312.46" width="3.04" height="6.41" fill="#eeeeee"/>
<rect x="383" y="312.46" width="3.04" height="6.41" fill="#eeeeee"/>
<rect x="386.59" y="312.46" width="3.04" height="6.41" fill="#eeeeee"/>
<rect x="390.17" y="312.46" width="3.04" height="6.41" fill="#eeeeee"/>
<rect x="393.76" y="312.46" width="3.04" height="6.41" fill="#eeeeee"/>
<rect x="397.34" y="312.46" width="3.04" height="6.41" fill="#eeeeee"/>
<rect x="400.93" y="312.46" width="3.04" height="6.41" fill="#eeeeee"/>
<rect x="404.51" y="312.46" width="3.04" height="6.41" fill="#eeeeee"/>
<rect x="408.1" y="312.46" width="3.04" height="6.41" fill="#eeeeee"/>
<rect x="411.68" y="312.46" width="3.04" height="6.41" fill="#eeeeee"/>
<rect x="415.27" y="312.46" width="3.04" height="6.41" fill="#eeeeee"/>
<rect x="418.85" y="312.46" width="3.04" height="6.41" fill="#eeeeee"/>
<rect x="422.44" y="312.46" width="3.04" height="6.41" fill="#eeeeee"/>
<rect x="426.02" y="312.46" width="3.04" height="6.41" fill="#eeeeee"/>
<rect x="429.61" y="312.46" width="3.04" height="6.41" fill="#eeeeee"/>
<rect x="433.19" y="312.46" width="3.04" height="6.41" fill="#eeeeee"/>
<rect x="436.78" y="312.46" width="3.04" height="6.41" fill="#eeeeee"/>
<rect x="440.36" y="312.46" width="3.04" height="6.41" fill="#eeeeee"/>
<rect x="443.95" y="312.46" width="3.04" height="6.41" fill="#eeeeee"/>
<rect x="447.53" y="312.46" width="3.04" height="6.41" fill="#eeeeee"/>
<rect x="451.12" y="312.46" width="3.04" height="6.41" fill="#eeeeee"/>
<rect x="454.7" y="312.46" width="3.04" height="6.41" fill="#eeeeee"/>
<rect x="458.21" y="312.39" width="3.19" height="6.55" fill="#1c76c2" stroke="#125896" stroke-width="0.4"/>
<rect x="461.88" y="312.46" width="3.04" height="6.41" fill="#eeeeee"/>
<rect x="465.46" y="312.46" width="3.04" height="6.41" fill="#eeeeee"/>
<rect x="469.04" y="312.46" width="3.04" height="6.41" fill="#eeeeee"/>
<rect x="472.63" y="312.46" width="3.04" height="6.41" fill="#eeeeee"/>
<rect x="476.21" y="312.46" width="3.04" height="6.41" fill="#eeeeee"/>
<rect x="479.8" y="312.46" width="3.04" height="6.41" fill="#eeeeee"/>
<rect x="483.38" y="312.46" width="3.04" height="6.41" fill="#eeeeee"/>
<rect x="318.47" y="319.42" width="3.04" height="6.41" fill="#eeeeee"/>
<rect x="322.06" y="319.42" width="3.04" height="6.41" fill="#eeeeee"/>
<rect x="325.64" y="319.42" width="3.04" height="6.41" fill="#eeeeee"/>
<rect x="329.23" y="319.42" width="3.04" height="6.41" fill="#eeeeee"/>
<rect x="332.81" y="319.42" width="3.04" height="6.41" fill="#eeeeee"/>
<rect x="336.4" y="319.42" width="3.04" height="6.41" fill="#eeeeee"/>
<rect x="339.98" y="319.42" width="3.04" height="6.41" fill="#eeeeee"/>
<rect x="343.57" y="319.42" width="3.04" height="6.41" fill="#eeeeee"/>
<rect x="347.15" y="319.42" width="3.04" height="6.41" fill="#eeeeee"/>
<rect x="350.74" y="319.42" width="3.04" height="6.41" fill="#eeeeee"/>
<rect x="354.32" y="319.42" width="3.04" height="6.41" fill="#eeeeee"/>
<rect x="357.91" y="319.42" width="3.04" height="6.41" fill="#eeeeee"/>
<rect x="361.49" y="319.42" width="3.04" height="6.41" fill="#eeeeee"/>
<rect x="365.08" y="319.42" width="3.04" height="6.41" fill="#eeeeee"/>
<rect x="368.66" y="319.42" width="3.04" height="6.41" fill="#eeeeee"/>
<rect x="372.25" y="319.42" width="3.04" height="6.41" fill="#eeeeee"/>
<rect x="375.83" y="319.42" width="3.04" height="6.41" fill="#eeeeee"/>
<rect x="379.42" y="319.42" width="3.04" height="6.41" fill="#eeeeee"/>
<rect x="383" y="319.42" width="3.04" height="6.41" fill="#eeeeee"/>
<rect x="386.59" y="319.42" width="3.04" height="6.41" fill="#eeeeee"/>
<rect x="390.17" y="319.42" width="3.04" height="6.41" fill="#eeeeee"/>
<rect x="393.76" y="319.42" width="3.04" height="6.41" fill="#eeeeee"/>
<rect x="397.34" y="319.42" width="3.04" height="6.41" fill="#eeeeee"/>
<rect x="400.93" y="319.42" width="3.04" height="6.41" fill="#eeeeee"/>
<rect x="404.51" y="319.42" width="3.04" height="6.41" fill="#eeeeee"/>
<rect x="408.1" y="319.42" width="3.04" height="6.41" fill="#eeeeee"/>
<rect x="411.68" y="319.42" width="3.04" height="6.41" fill="#eeeeee"/>
<rect x="415.27" y="319.42" width="3.04" height="6.41" fill="#eeeeee"/>
<rect x="418.85" y="319.42" width="3.04" height="6.41" fill="#eeeeee"/>
<rect x="422.44" y="319.42" width="3.04" height="6.41" fill="#eeeeee"/>
<rect x="426.02" y="319.42" width="3.04" height="6.41" fill="#eeeeee"/>
<rect x="429.61" y="319.42" width="3.04" height="6.41" fill="#eeeeee"/>
<rect x="433.19" y="319.42" width="3.04" height="6.41" fill="#eeeeee"/>
<rect x="436.78" y="319.42" width="3.04" height="6.41" fill="#eeeeee"/>
<rect x="440.36" y="319.42" width="3.04" height="6.41" fill="#eeeeee"/>
<rect x="443.95" y="319.42" width="3.04" height="6.41" fill="#eeeeee"/>
<rect x="447.46" y="319.34" width="3.19" height="6.55" fill="#1c76c2" stroke="#125896" stroke-width="0.4"/>
<rect x="451.12" y="319.42" width="3.04" height="6.41" fill="#eeeeee"/>
<rect x="454.7" y="319.42" width="3.04" height="6.41" fill="#eeeeee"/>
<rect x="458.29" y="319.42" width="3.04" height="6.41" fill="#eeeeee"/>
<rect x="461.88" y="319.42" width="3.04" height="6.41" fill="#eeeeee"/>
<rect x="465.46" y="319.42" width="3.04" height="6.41" fill="#eeeeee"/>
<rect x="469.04" y="319.42" width="3.04" height="6.41" fill="#eeeeee"/>
<rect x="472.63" y="319.42" width="3.04" height="6.41" fill="#eeeeee"/>
<rect x="476.21" y="319.42" width="3.04" height="6.41" fill="#eeeeee"/>
<rect x="479.8" y="319.42" width="3.04" height="6.41" fill="#eeeeee"/>
<rect x="483.38" y="319.42" width="3.04" height="6.41" fill="#eeeeee"/>
<ellipse cx="323.58" cy="51.78" rx="1.5" ry="2.35" fill="#a03a72" stroke="#4a1a40" stroke-width="0.3"/>
<ellipse cx="370.18" cy="51.78" rx="1.5" ry="2.35" fill="#a03a72" stroke="#4a1a40" stroke-width="0.3"/>
<ellipse cx="402.45" cy="51.78" rx="1.5" ry="2.35" fill="#a03a72" stroke="#4a1a40" stroke-width="0.3"/>
<ellipse cx="406.03" cy="51.78" rx="1.5" ry="2.35" fill="#a03a72" stroke="#4a1a40" stroke-width="0.3"/>
<ellipse cx="413.2" cy="51.78" rx="1.5" ry="2.35" fill="#a03a72" stroke="#4a1a40" stroke-width="0.3"/>
<ellipse cx="416.79" cy="51.78" rx="1.5" ry="2.35" fill="#a03a72" stroke="#4a1a40" stroke-width="0.3"/>
<ellipse cx="427.54" cy="51.78" rx="1.5" ry="2.35" fill="#a03a72" stroke="#4a1a40" stroke-width="0.3"/>
<ellipse cx="434.71" cy="51.78" rx="1.5" ry="2.35" fill="#a03a72" stroke="#4a1a40" stroke-width="0.3"/>
<rect x="318.2" y="326.1" width="3.63" height="6.96" fill="#f57a3a"/>
<rect x="321.78" y="326.1" width="3.63" height="6.96" fill="#f57a3a"/>
<rect x="325.37" y="326.1" width="3.63" height="6.96" fill="#f57a3a"/>
<rect x="328.95" y="326.1" width="3.63" height="6.96" fill="#f57a3a"/>
<rect x="332.54" y="326.1" width="3.63" height="6.96" fill="#f57a3a"/>
<rect x="336.12" y="326.1" width="3.63" height="6.96" fill="#f57a3a"/>
<rect x="339.71" y="326.1" width="3.63" height="6.96" fill="#f57a3a"/>
<rect x="343.29" y="326.1" width="3.63" height="6.96" fill="#f57a3a"/>
<rect x="346.88" y="326.1" width="3.63" height="6.96" fill="#f57a3a"/>
<rect x="350.46" y="326.1" width="3.63" height="6.96" fill="#f57a3a"/>
<rect x="354.05" y="326.1" width="3.63" height="6.96" fill="#f57a3a"/>
<rect x="357.63" y="326.1" width="3.63" height="6.96" fill="#b3122e"/>
<rect x="361.22" y="326.1" width="3.63" height="6.96" fill="#b3122e"/>
<rect x="364.81" y="326.1" width="3.63" height="6.96" fill="#b3122e"/>
<rect x="368.39" y="326.1" width="3.63" height="6.96" fill="#f57a3a"/>
<rect x="371.97" y="326.1" width="3.63" height="6.96" fill="#f57a3a"/>
<rect x="375.56" y="326.1" width="3.63" height="6.96" fill="#f57a3a"/>
<rect x="379.14" y="326.1" width="3.63" height="6.96" fill="#f57a3a"/>
<rect x="382.73" y="326.1" width="3.63" height="6.96" fill="#f57a3a"/>
<rect x="386.31" y="326.1" width="3.63" height="6.96" fill="#f57a3a"/>
<rect x="389.9" y="326.1" width="3.63" height="6.96" fill="#b3122e"/>
<rect x="393.49" y="326.1" width="3.63" height="6.96" fill="#f57a3a"/>
<rect x="397.07" y="326.1" width="3.63" height="6.96" fill="#b3122e"/>
<rect x="400.65" y="326.1" width="3.63" height="6.96" fill="#f57a3a"/>
<rect x="404.24" y="326.1" width="3.63" height="6.96" fill="#f57a3a"/>
<rect x="407.82" y="326.1" width="3.63" height="6.96" fill="#f57a3a"/>
<rect x="411.41" y="326.1" width="3.63" height="6.96" fill="#f57a3a"/>
<rect x="415" y="326.1" width="3.63" height="6.96" fill="#f57a3a"/>
<rect x="418.58" y="326.1" width="3.63" height="6.96" fill="#f57a3a"/>
<rect x="422.16" y="326.1" width="3.63" height="6.96" fill="#b3122e"/>
<rect x="425.75" y="326.1" width="3.63" height="6.96" fill="#f57a3a"/>
<rect x="429.33" y="326.1" width="3.63" height="6.96" fill="#b3122e"/>
<rect x="432.92" y="326.1" width="3.63" height="6.96" fill="#f57a3a"/>
<rect x="436.5" y="326.1" width="3.63" height="6.96" fill="#f57a3a"/>
<rect x="440.09" y="326.1" width="3.63" height="6.96" fill="#f57a3a"/>
<rect x="443.67" y="326.1" width="3.63" height="6.96" fill="#b3122e"/>
<rect x="447.26" y="326.1" width="3.63" height="6.96" fill="#f57a3a"/>
<rect x="450.85" y="326.1" width="3.63" height="6.96" fill="#b3122e"/>
<rect x="454.43" y="326.1" width="3.63" height="6.96" fill="#f57a3a"/>
<rect x="458.01" y="326.1" width="3.63" height="6.96" fill="#b3122e"/>
<rect x="461.6" y="326.1" width="3.63" height="6.96" fill="#f57a3a"/>
<rect x="465.18" y="326.1" width="3.63" height="6.96" fill="#f57a3a"/>
<rect x="468.77" y="326.1" width="3.63" height="6.96" fill="#f57a3a"/>
<rect x="472.36" y="326.1" width="3.63" height="6.96" fill="#f57a3a"/>
<rect x="475.94" y="326.1" width="3.63" height="6.96" fill="#f57a3a"/>
<rect x="479.52" y="326.1" width="3.63" height="6.96" fill="#b3122e"/>
<rect x="483.11" y="326.1" width="3.63" height="6.96" fill="#b3122e"/>
<line x1="321.78" y1="326.1" x2="321.78" y2="333.05" stroke="#e8652c" stroke-width="0.3" opacity="0.6"/>
<line x1="325.37" y1="326.1" x2="325.37" y2="333.05" stroke="#e8652c" stroke-width="0.3" opacity="0.6"/>
<line x1="328.95" y1="326.1" x2="328.95" y2="333.05" stroke="#e8652c" stroke-width="0.3" opacity="0.6"/>
<line x1="332.54" y1="326.1" x2="332.54" y2="333.05" stroke="#e8652c" stroke-width="0.3" opacity="0.6"/>
<line x1="336.12" y1="326.1" x2="336.12" y2="333.05" stroke="#e8652c" stroke-width="0.3" opacity="0.6"/>
<line x1="339.71" y1="326.1" x2="339.71" y2="333.05" stroke="#e8652c" stroke-width="0.3" opacity="0.6"/>
<line x1="343.29" y1="326.1" x2="343.29" y2="333.05" stroke="#e8652c" stroke-width="0.3" opacity="0.6"/>
<line x1="346.88" y1="326.1" x2="346.88" y2="333.05" stroke="#e8652c" stroke-width="0.3" opacity="0.6"/>
<line x1="350.46" y1="326.1" x2="350.46" y2="333.05" stroke="#e8652c" stroke-width="0.3" opacity="0.6"/>
<line x1="354.05" y1="326.1" x2="354.05" y2="333.05" stroke="#e8652c" stroke-width="0.3" opacity="0.6"/>
<line x1="357.63" y1="326.1" x2="357.63" y2="333.05" stroke="#e8652c" stroke-width="0.3" opacity="0.6"/>
<line x1="361.22" y1="326.1" x2="361.22" y2="333.05" stroke="#e8652c" stroke-width="0.3" opacity="0.6"/>
<line x1="364.81" y1="326.1" x2="364.81" y2="333.05" stroke="#e8652c" stroke-width="0.3" opacity="0.6"/>
<line x1="368.39" y1="326.1" x2="368.39" y2="333.05" stroke="#e8652c" stroke-width="0.3" opacity="0.6"/>
<line x1="371.97" y1="326.1" x2="371.97" y2="333.05" stroke="#e8652c" stroke-width="0.3" opacity="0.6"/>
<line x1="375.56" y1="326.1" x2="375.56" y2="333.05" stroke="#e8652c" stroke-width="0.3" opacity="0.6"/>
<line x1="379.14" y1="326.1" x2="379.14" y2="333.05" stroke="#e8652c" stroke-width="0.3" opacity="0.6"/>
<line x1="382.73" y1="326.1" x2="382.73" y2="333.05" stroke="#e8652c" stroke-width="0.3" opacity="0.6"/>
<line x1="386.31" y1="326.1" x2="386.31" y2="333.05" stroke="#e8652c" stroke-width="0.3" opacity="0.6"/>
<line x1="389.9" y1="326.1" x2="389.9" y2="333.05" stroke="#e8652c" stroke-width="0.3" opacity="0.6"/>
<line x1="393.49" y1="326.1" x2="393.49" y2="333.05" stroke="#e8652c" stroke-width="0.3" opacity="0.6"/>
<line x1="397.07" y1="326.1" x2="397.07" y2="333.05" stroke="#e8652c" stroke-width="0.3" opacity="0.6"/>
<line x1="400.65" y1="326.1" x2="400.65" y2="333.05" stroke="#e8652c" stroke-width="0.3" opacity="0.6"/>
<line x1="404.24" y1="326.1" x2="404.24" y2="333.05" stroke="#e8652c" stroke-width="0.3" opacity="0.6"/>
<line x1="407.82" y1="326.1" x2="407.82" y2="333.05" stroke="#e8652c" stroke-width="0.3" opacity="0.6"/>
<line x1="411.41" y1="326.1" x2="411.41" y2="333.05" stroke="#e8652c" stroke-width="0.3" opacity="0.6"/>
<line x1="415" y1="326.1" x2="415" y2="333.05" stroke="#e8652c" stroke-width="0.3" opacity="0.6"/>
<line x1="418.58" y1="326.1" x2="418.58" y2="333.05" stroke="#e8652c" stroke-width="0.3" opacity="0.6"/>
<line x1="422.16" y1="326.1" x2="422.16" y2="333.05" stroke="#e8652c" stroke-width="0.3" opacity="0.6"/>
<line x1="425.75" y1="326.1" x2="425.75" y2="333.05" stroke="#e8652c" stroke-width="0.3" opacity="0.6"/>
<line x1="429.33" y1="326.1" x2="429.33" y2="333.05" stroke="#e8652c" stroke-width="0.3" opacity="0.6"/>
<line x1="432.92" y1="326.1" x2="432.92" y2="333.05" stroke="#e8652c" stroke-width="0.3" opacity="0.6"/>
<line x1="436.5" y1="326.1" x2="436.5" y2="333.05" stroke="#e8652c" stroke-width="0.3" opacity="0.6"/>
<line x1="440.09" y1="326.1" x2="440.09" y2="333.05" stroke="#e8652c" stroke-width="0.3" opacity="0.6"/>
<line x1="443.67" y1="326.1" x2="443.67" y2="333.05" stroke="#e8652c" stroke-width="0.3" opacity="0.6"/>
<line x1="447.26" y1="326.1" x2="447.26" y2="333.05" stroke="#e8652c" stroke-width="0.3" opacity="0.6"/>
<line x1="450.85" y1="326.1" x2="450.85" y2="333.05" stroke="#e8652c" stroke-width="0.3" opacity="0.6"/>
<line x1="454.43" y1="326.1" x2="454.43" y2="333.05" stroke="#e8652c" stroke-width="0.3" opacity="0.6"/>
<line x1="458.01" y1="326.1" x2="458.01" y2="333.05" stroke="#e8652c" stroke-width="0.3" opacity="0.6"/>
<line x1="461.6" y1="326.1" x2="461.6" y2="333.05" stroke="#e8652c" stroke-width="0.3" opacity="0.6"/>
<line x1="465.18" y1="326.1" x2="465.18" y2="333.05" stroke="#e8652c" stroke-width="0.3" opacity="0.6"/>
<line x1="468.77" y1="326.1" x2="468.77" y2="333.05" stroke="#e8652c" stroke-width="0.3" opacity="0.6"/>
<line x1="472.36" y1="326.1" x2="472.36" y2="333.05" stroke="#e8652c" stroke-width="0.3" opacity="0.6"/>
<line x1="475.94" y1="326.1" x2="475.94" y2="333.05" stroke="#e8652c" stroke-width="0.3" opacity="0.6"/>
<line x1="479.52" y1="326.1" x2="479.52" y2="333.05" stroke="#e8652c" stroke-width="0.3" opacity="0.6"/>
<line x1="483.11" y1="326.1" x2="483.11" y2="333.05" stroke="#e8652c" stroke-width="0.3" opacity="0.6"/>
<rect x="318.35" y="333.2" width="3.29" height="6.66" fill="#4d5b59" stroke="#45524f" stroke-width="0.3"/>
<rect x="321.93" y="333.2" width="3.29" height="6.66" fill="#4d5b59" stroke="#45524f" stroke-width="0.3"/>
<rect x="325.52" y="333.2" width="3.29" height="6.66" fill="#4d5b59" stroke="#45524f" stroke-width="0.3"/>
<rect x="329.1" y="333.2" width="3.29" height="6.66" fill="#4d5b59" stroke="#45524f" stroke-width="0.3"/>
<rect x="332.81" y="333.33" width="3.04" height="6.41" fill="#eeeeee"/>
<rect x="336.4" y="333.33" width="3.04" height="6.41" fill="#eeeeee"/>
<rect x="339.98" y="333.33" width="3.04" height="6.41" fill="#eeeeee"/>
<rect x="343.44" y="333.2" width="3.29" height="6.66" fill="#4d5b59" stroke="#45524f" stroke-width="0.3"/>
<rect x="347.15" y="333.33" width="3.04" height="6.41" fill="#eeeeee"/>
<rect x="350.74" y="333.33" width="3.04" height="6.41" fill="#eeeeee"/>
<rect x="354.32" y="333.33" width="3.04" height="6.41" fill="#eeeeee"/>
<rect x="357.91" y="333.33" width="3.04" height="6.41" fill="#eeeeee"/>
<rect x="361.49" y="333.33" width="3.04" height="6.41" fill="#eeeeee"/>
<rect x="365.08" y="333.33" width="3.04" height="6.41" fill="#eeeeee"/>
<rect x="368.54" y="333.2" width="3.29" height="6.66" fill="#4d5b59" stroke="#45524f" stroke-width="0.3"/>
<rect x="372.12" y="333.2" width="3.29" height="6.66" fill="#4d5b59" stroke="#45524f" stroke-width="0.3"/>
<rect x="375.83" y="333.33" width="3.04" height="6.41" fill="#eeeeee"/>
<rect x="379.42" y="333.33" width="3.04" height="6.41" fill="#eeeeee"/>
<rect x="383" y="333.33" width="3.04" height="6.41" fill="#eeeeee"/>
<rect x="386.59" y="333.33" width="3.04" height="6.41" fill="#eeeeee"/>
<rect x="390.17" y="333.33" width="3.04" height="6.41" fill="#eeeeee"/>
<rect x="393.76" y="333.33" width="3.04" height="6.41" fill="#eeeeee"/>
<rect x="397.34" y="333.33" width="3.04" height="6.41" fill="#eeeeee"/>
<rect x="400.93" y="333.33" width="3.04" height="6.41" fill="#eeeeee"/>
<rect x="404.51" y="333.33" width="3.04" height="6.41" fill="#eeeeee"/>
<rect x="408.1" y="333.33" width="3.04" height="6.41" fill="#eeeeee"/>
<rect x="411.68" y="333.33" width="3.04" height="6.41" fill="#eeeeee"/>
<rect x="415.27" y="333.33" width="3.04" height="6.41" fill="#eeeeee"/>
<rect x="418.85" y="333.33" width="3.04" height="6.41" fill="#eeeeee"/>
<rect x="422.44" y="333.33" width="3.04" height="6.41" fill="#eeeeee"/>
<rect x="426.02" y="333.33" width="3.04" height="6.41" fill="#eeeeee"/>
<rect x="429.61" y="333.33" width="3.04" height="6.41" fill="#eeeeee"/>
<rect x="433.19" y="333.33" width="3.04" height="6.41" fill="#eeeeee"/>
<rect x="436.78" y="333.33" width="3.04" height="6.41" fill="#eeeeee"/>
<rect x="440.24" y="333.2" width="3.29" height="6.66" fill="#4d5b59" stroke="#45524f" stroke-width="0.3"/>
<rect x="443.95" y="333.33" width="3.04" height="6.41" fill="#eeeeee"/>
<rect x="447.53" y="333.33" width="3.04" height="6.41" fill="#eeeeee"/>
<rect x="451.12" y="333.33" width="3.04" height="6.41" fill="#eeeeee"/>
<rect x="454.7" y="333.33" width="3.04" height="6.41" fill="#eeeeee"/>
<rect x="458.29" y="333.33" width="3.04" height="6.41" fill="#eeeeee"/>
<rect x="461.88" y="333.33" width="3.04" height="6.41" fill="#eeeeee"/>
<rect x="465.46" y="333.33" width="3.04" height="6.41" fill="#eeeeee"/>
<rect x="469.04" y="333.33" width="3.04" height="6.41" fill="#eeeeee"/>
<rect x="472.63" y="333.33" width="3.04" height="6.41" fill="#eeeeee"/>
<rect x="476.21" y="333.33" width="3.04" height="6.41" fill="#eeeeee"/>
<rect x="479.8" y="333.33" width="3.04" height="6.41" fill="#eeeeee"/>
<rect x="483.38" y="333.33" width="3.04" height="6.41" fill="#eeeeee"/>
<rect x="318.47" y="340.28" width="3.04" height="6.41" fill="#eeeeee"/>
<rect x="322.06" y="340.28" width="3.04" height="6.41" fill="#eeeeee"/>
<rect x="325.64" y="340.28" width="3.04" height="6.41" fill="#eeeeee"/>
<rect x="329.23" y="340.28" width="3.04" height="6.41" fill="#eeeeee"/>
<rect x="332.81" y="340.28" width="3.04" height="6.41" fill="#eeeeee"/>
<rect x="336.27" y="340.16" width="3.29" height="6.66" fill="#4d5b59" stroke="#45524f" stroke-width="0.3"/>
<rect x="339.98" y="340.28" width="3.04" height="6.41" fill="#eeeeee"/>
<rect x="343.57" y="340.28" width="3.04" height="6.41" fill="#eeeeee"/>
<rect x="347.03" y="340.16" width="3.29" height="6.66" fill="#4d5b59" stroke="#45524f" stroke-width="0.3"/>
<rect x="350.61" y="340.16" width="3.29" height="6.66" fill="#4d5b59" stroke="#45524f" stroke-width="0.3"/>
<rect x="354.32" y="340.28" width="3.04" height="6.41" fill="#eeeeee"/>
<rect x="357.91" y="340.28" width="3.04" height="6.41" fill="#eeeeee"/>
<rect x="361.49" y="340.28" width="3.04" height="6.41" fill="#eeeeee"/>
<rect x="365.08" y="340.28" width="3.04" height="6.41" fill="#eeeeee"/>
<rect x="368.66" y="340.28" width="3.04" height="6.41" fill="#eeeeee"/>
<rect x="372.25" y="340.28" width="3.04" height="6.41" fill="#eeeeee"/>
<rect x="375.83" y="340.28" width="3.04" height="6.41" fill="#eeeeee"/>
<rect x="379.42" y="340.28" width="3.04" height="6.41" fill="#eeeeee"/>
<rect x="382.88" y="340.16" width="3.29" height="6.66" fill="#4d5b59" stroke="#45524f" stroke-width="0.3"/>
<rect x="386.46" y="340.16" width="3.29" height="6.66" fill="#4d5b59" stroke="#45524f" stroke-width="0.3"/>
<rect x="390.17" y="340.28" width="3.04" height="6.41" fill="#eeeeee"/>
<rect x="393.76" y="340.28" width="3.04" height="6.41" fill="#eeeeee"/>
<rect x="397.34" y="340.28" width="3.04" height="6.41" fill="#eeeeee"/>
<rect x="400.93" y="340.28" width="3.04" height="6.41" fill="#eeeeee"/>
<rect x="404.39" y="340.16" width="3.29" height="6.66" fill="#4d5b59" stroke="#45524f" stroke-width="0.3"/>
<rect x="407.97" y="340.16" width="3.29" height="6.66" fill="#4d5b59" stroke="#45524f" stroke-width="0.3"/>
<rect x="411.68" y="340.28" width="3.04" height="6.41" fill="#eeeeee"/>
<rect x="415.14" y="340.16" width="3.29" height="6.66" fill="#4d5b59" stroke="#45524f" stroke-width="0.3"/>
<rect x="418.85" y="340.28" width="3.04" height="6.41" fill="#eeeeee"/>
<rect x="422.44" y="340.28" width="3.04" height="6.41" fill="#eeeeee"/>
<rect x="425.9" y="340.16" width="3.29" height="6.66" fill="#4d5b59" stroke="#45524f" stroke-width="0.3"/>
<rect x="429.61" y="340.28" width="3.04" height="6.41" fill="#eeeeee"/>
<rect x="433.19" y="340.28" width="3.04" height="6.41" fill="#eeeeee"/>
<rect x="436.78" y="340.28" width="3.04" height="6.41" fill="#eeeeee"/>
<rect x="440.36" y="340.28" width="3.04" height="6.41" fill="#eeeeee"/>
<rect x="443.95" y="340.28" width="3.04" height="6.41" fill="#eeeeee"/>
<rect x="447.53" y="340.28" width="3.04" height="6.41" fill="#eeeeee"/>
<rect x="451.12" y="340.28" width="3.04" height="6.41" fill="#eeeeee"/>
<rect x="454.7" y="340.28" width="3.04" height="6.41" fill="#eeeeee"/>
<rect x="458.29" y="340.28" width="3.04" height="6.41" fill="#eeeeee"/>
<rect x="461.88" y="340.28" width="3.04" height="6.41" fill="#eeeeee"/>
<rect x="465.33" y="340.16" width="3.29" height="6.66" fill="#4d5b59" stroke="#45524f" stroke-width="0.3"/>
<rect x="469.04" y="340.28" width="3.04" height="6.41" fill="#eeeeee"/>
<rect x="472.5" y="340.16" width="3.29" height="6.66" fill="#4d5b59" stroke="#45524f" stroke-width="0.3"/>
<rect x="476.21" y="340.28" width="3.04" height="6.41" fill="#eeeeee"/>
<rect x="479.8" y="340.28" width="3.04" height="6.41" fill="#eeeeee"/>
<rect x="483.38" y="340.28" width="3.04" height="6.41" fill="#eeeeee"/>
<rect x="318.47" y="347.24" width="3.04" height="6.41" fill="#eeeeee"/>
<rect x="322.06" y="347.24" width="3.04" height="6.41" fill="#eeeeee"/>
<rect x="325.64" y="347.24" width="3.04" height="6.41" fill="#eeeeee"/>
<rect x="329.23" y="347.24" width="3.04" height="6.41" fill="#eeeeee"/>
<rect x="332.81" y="347.24" width="3.04" height="6.41" fill="#eeeeee"/>
<rect x="336.4" y="347.24" width="3.04" height="6.41" fill="#eeeeee"/>
<rect x="339.98" y="347.24" width="3.04" height="6.41" fill="#eeeeee"/>
<rect x="343.57" y="347.24" width="3.04" height="6.41" fill="#eeeeee"/>
<rect x="347.15" y="347.24" width="3.04" height="6.41" fill="#eeeeee"/>
<rect x="350.74" y="347.24" width="3.04" height="6.41" fill="#eeeeee"/>
<rect x="354.32" y="347.24" width="3.04" height="6.41" fill="#eeeeee"/>
<rect x="357.91" y="347.24" width="3.04" height="6.41" fill="#eeeeee"/>
<rect x="361.49" y="347.24" width="3.04" height="6.41" fill="#eeeeee"/>
<rect x="365.08" y="347.24" width="3.04" height="6.41" fill="#eeeeee"/>
<rect x="368.66" y="347.24" width="3.04" height="6.41" fill="#eeeeee"/>
<rect x="372.25" y="347.24" width="3.04" height="6.41" fill="#eeeeee"/>
<rect x="375.83" y="347.24" width="3.04" height="6.41" fill="#eeeeee"/>
<rect x="379.42" y="347.24" width="3.04" height="6.41" fill="#eeeeee"/>
<rect x="383" y="347.24" width="3.04" height="6.41" fill="#eeeeee"/>
<rect x="386.59" y="347.24" width="3.04" height="6.41" fill="#eeeeee"/>
<rect x="390.05" y="347.11" width="3.29" height="6.66" fill="#4d5b59" stroke="#45524f" stroke-width="0.3"/>
<rect x="393.76" y="347.24" width="3.04" height="6.41" fill="#eeeeee"/>
<rect x="397.34" y="347.24" width="3.04" height="6.41" fill="#eeeeee"/>
<rect x="400.93" y="347.24" width="3.04" height="6.41" fill="#eeeeee"/>
<rect x="404.51" y="347.24" width="3.04" height="6.41" fill="#eeeeee"/>
<rect x="408.1" y="347.24" width="3.04" height="6.41" fill="#eeeeee"/>
<rect x="411.68" y="347.24" width="3.04" height="6.41" fill="#eeeeee"/>
<rect x="415.27" y="347.24" width="3.04" height="6.41" fill="#eeeeee"/>
<rect x="418.85" y="347.24" width="3.04" height="6.41" fill="#eeeeee"/>
<rect x="422.44" y="347.24" width="3.04" height="6.41" fill="#eeeeee"/>
<rect x="426.02" y="347.24" width="3.04" height="6.41" fill="#eeeeee"/>
<rect x="429.61" y="347.24" width="3.04" height="6.41" fill="#eeeeee"/>
<rect x="433.19" y="347.24" width="3.04" height="6.41" fill="#eeeeee"/>
<rect x="436.78" y="347.24" width="3.04" height="6.41" fill="#eeeeee"/>
<rect x="440.36" y="347.24" width="3.04" height="6.41" fill="#eeeeee"/>
<rect x="443.95" y="347.24" width="3.04" height="6.41" fill="#eeeeee"/>
<rect x="447.53" y="347.24" width="3.04" height="6.41" fill="#eeeeee"/>
<rect x="451.12" y="347.24" width="3.04" height="6.41" fill="#eeeeee"/>
<rect x="454.7" y="347.24" width="3.04" height="6.41" fill="#eeeeee"/>
<rect x="458.29" y="347.24" width="3.04" height="6.41" fill="#eeeeee"/>
<rect x="461.88" y="347.24" width="3.04" height="6.41" fill="#eeeeee"/>
<rect x="465.46" y="347.24" width="3.04" height="6.41" fill="#eeeeee"/>
<rect x="469.04" y="347.24" width="3.04" height="6.41" fill="#eeeeee"/>
<rect x="472.63" y="347.24" width="3.04" height="6.41" fill="#eeeeee"/>
<rect x="476.21" y="347.24" width="3.04" height="6.41" fill="#eeeeee"/>
<rect x="479.8" y="347.24" width="3.04" height="6.41" fill="#eeeeee"/>
<rect x="483.38" y="347.24" width="3.04" height="6.41" fill="#eeeeee"/>
<rect x="318.2" y="353.9" width="168.5" height="6.7" fill="#ffffff"/>
<rect x="318.2" y="353.9" width="3.58" height="6.7" fill="#4a5452"/>
<rect x="325.37" y="353.9" width="3.58" height="6.7" fill="#4a5452"/>
<rect x="328.95" y="353.9" width="3.58" height="6.7" fill="#4a5452"/>
<rect x="336.12" y="353.9" width="3.58" height="6.7" fill="#4a5452"/>
<rect x="346.88" y="353.9" width="3.58" height="6.7" fill="#4a5452"/>
<rect x="357.63" y="353.9" width="3.58" height="6.7" fill="#4a5452"/>
<rect x="361.22" y="353.9" width="3.58" height="6.7" fill="#4a5452"/>
<rect x="364.81" y="353.9" width="3.58" height="6.7" fill="#4a5452"/>
<rect x="382.73" y="353.9" width="3.58" height="6.7" fill="#4a5452"/>
<rect x="407.82" y="353.9" width="3.58" height="6.7" fill="#4a5452"/>
<rect x="440.09" y="353.9" width="3.58" height="6.7" fill="#4a5452"/>
<rect x="318.2" y="353.9" width="168.5" height="6.7" fill="none" stroke="#333" stroke-width="0.7"/>
<rect x="318.2" y="360.8" width="168.5" height="6.7" fill="#ffffff"/>
<rect x="321.78" y="360.8" width="3.58" height="6.7" fill="#4a5452"/>
<rect x="332.54" y="360.8" width="3.58" height="6.7" fill="#4a5452"/>
<rect x="336.12" y="360.8" width="3.58" height="6.7" fill="#4a5452"/>
<rect x="346.88" y="360.8" width="3.58" height="6.7" fill="#4a5452"/>
<rect x="357.63" y="360.8" width="3.58" height="6.7" fill="#4a5452"/>
<rect x="371.97" y="360.8" width="3.58" height="6.7" fill="#4a5452"/>
<rect x="450.85" y="360.8" width="3.58" height="6.7" fill="#4a5452"/>
<rect x="458.01" y="360.8" width="3.58" height="6.7" fill="#4a5452"/>
<rect x="461.6" y="360.8" width="3.58" height="6.7" fill="#4a5452"/>
<rect x="318.2" y="360.8" width="168.5" height="6.7" fill="none" stroke="#333" stroke-width="0.7"/>
<rect x="318.2" y="367.7" width="168.5" height="6.7" fill="#ffffff"/>
<rect x="346.88" y="367.7" width="3.58" height="6.7" fill="#4a5452"/>
<rect x="429.33" y="367.7" width="3.58" height="6.7" fill="#4a5452"/>
<rect x="458.01" y="367.7" width="3.58" height="6.7" fill="#4a5452"/>
<rect x="483.11" y="367.7" width="3.58" height="6.7" fill="#4a5452"/>
<rect x="318.2" y="367.7" width="168.5" height="6.7" fill="none" stroke="#333" stroke-width="0.7"/>
<rect x="318.2" y="374.6" width="3.63" height="6.7" fill="#f4afb8"/>
<rect x="321.78" y="374.6" width="3.63" height="6.7" fill="#fef8f9"/>
<rect x="325.37" y="374.6" width="3.63" height="6.7" fill="#ef8b98"/>
<rect x="328.95" y="374.6" width="3.63" height="6.7" fill="#ef8b98"/>
<rect x="332.54" y="374.6" width="3.63" height="6.7" fill="#f5b6bf"/>
<rect x="336.12" y="374.6" width="3.63" height="6.7" fill="#a5bbe1"/>
<rect x="339.71" y="374.6" width="3.63" height="6.7" fill="#d6e0f1"/>
<rect x="343.29" y="374.6" width="3.63" height="6.7" fill="#f8ccd2"/>
<rect x="346.88" y="374.6" width="3.63" height="6.7" fill="#f9d3d8"/>
<rect x="350.46" y="374.6" width="3.63" height="6.7" fill="#dee6f4"/>
<rect x="354.05" y="374.6" width="3.63" height="6.7" fill="#fce9ec"/>
<rect x="357.63" y="374.6" width="3.63" height="6.7" fill="#f0929f"/>
<rect x="361.22" y="374.6" width="3.63" height="6.7" fill="#f6bec5"/>
<rect x="364.81" y="374.6" width="3.63" height="6.7" fill="#eff3f9"/>
<rect x="368.39" y="374.6" width="3.63" height="6.7" fill="#fadbdf"/>
<rect x="371.97" y="374.6" width="3.63" height="6.7" fill="#f7c5cc"/>
<rect x="375.56" y="374.6" width="3.63" height="6.7" fill="#e6edf7"/>
<rect x="379.14" y="374.6" width="3.63" height="6.7" fill="#fef8f9"/>
<rect x="382.73" y="374.6" width="3.63" height="6.7" fill="#fdf0f2"/>
<rect x="386.31" y="374.6" width="3.63" height="6.7" fill="#fbe2e5"/>
<rect x="389.9" y="374.6" width="3.63" height="6.7" fill="#94afdb"/>
<rect x="393.49" y="374.6" width="3.63" height="6.7" fill="#fef8f9"/>
<rect x="397.07" y="374.6" width="3.63" height="6.7" fill="#fbe2e5"/>
<rect x="400.65" y="374.6" width="3.63" height="6.7" fill="#cedaee"/>
<rect x="404.24" y="374.6" width="3.63" height="6.7" fill="#e6edf7"/>
<rect x="407.82" y="374.6" width="3.63" height="6.7" fill="#ee8392"/>
<rect x="411.41" y="374.6" width="3.63" height="6.7" fill="#ffffff"/>
<rect x="415" y="374.6" width="3.63" height="6.7" fill="#8ca9d8"/>
<rect x="418.58" y="374.6" width="3.63" height="6.7" fill="#c6d4ec"/>
<rect x="422.16" y="374.6" width="3.63" height="6.7" fill="#eff3f9"/>
<rect x="425.75" y="374.6" width="3.63" height="6.7" fill="#f7c5cc"/>
<rect x="429.33" y="374.6" width="3.63" height="6.7" fill="#f7c5cc"/>
<rect x="432.92" y="374.6" width="3.63" height="6.7" fill="#8ca9d8"/>
<rect x="436.5" y="374.6" width="3.63" height="6.7" fill="#cedaee"/>
<rect x="440.09" y="374.6" width="3.63" height="6.7" fill="#f199a5"/>
<rect x="443.67" y="374.6" width="3.63" height="6.7" fill="#f5b6bf"/>
<rect x="447.26" y="374.6" width="3.63" height="6.7" fill="#fdf0f2"/>
<rect x="450.85" y="374.6" width="3.63" height="6.7" fill="#f2a1ac"/>
<rect x="454.43" y="374.6" width="3.63" height="6.7" fill="#e6edf7"/>
<rect x="458.01" y="374.6" width="3.63" height="6.7" fill="#9db5de"/>
<rect x="461.6" y="374.6" width="3.63" height="6.7" fill="#f199a5"/>
<rect x="465.18" y="374.6" width="3.63" height="6.7" fill="#f8ccd2"/>
<rect x="468.77" y="374.6" width="3.63" height="6.7" fill="#fef8f9"/>
<rect x="472.36" y="374.6" width="3.63" height="6.7" fill="#fbe2e5"/>
<rect x="475.94" y="374.6" width="3.63" height="6.7" fill="#7c9cd3"/>
<rect x="479.52" y="374.6" width="3.63" height="6.7" fill="#ffffff"/>
<rect x="483.11" y="374.6" width="3.63" height="6.7" fill="#f3a8b2"/>
<rect x="318.2" y="374.6" width="168.5" height="6.7" fill="none" stroke="#333" stroke-width="0.7"/>
<line x1="318.2" y1="326.1" x2="486.69" y2="326.1" stroke="#3a3a3a" stroke-width="0.7"/>
<line x1="318.2" y1="353.9" x2="486.69" y2="353.9" stroke="#333" stroke-width="0.7"/>
<line x1="318.2" y1="33.2" x2="318.2" y2="381.3" stroke="#333" stroke-width="0.75"/>
<line x1="343.29" y1="40.6" x2="343.29" y2="381.3" stroke="#333" stroke-width="0.75"/>
<line x1="368.39" y1="33.2" x2="368.39" y2="381.3" stroke="#333" stroke-width="0.75"/>
<line x1="440.09" y1="40.6" x2="440.09" y2="381.3" stroke="#333" stroke-width="0.75"/>
<line x1="486.69" y1="33.2" x2="486.69" y2="381.3" stroke="#333" stroke-width="0.75"/>
<line x1="318.2" y1="33.2" x2="486.69" y2="33.2" stroke="#333" stroke-width="0.75"/>
<line x1="318.2" y1="40.6" x2="486.69" y2="40.6" stroke="#333" stroke-width="0.75"/>
<g font-size="6.2">
<text x="345.09" y="39.3" text-anchor="middle" font-size="6.7" style="stroke-width:0.1px" transform="matrix(1 0 0 1.08 0 -3.14)"><tspan font-style="italic">RUNX1</tspan><tspan font-size="3.8" dy="-2.3">-/-</tspan></text>
<text x="426.54" y="39.3" text-anchor="middle" font-size="6.5" style="stroke-width:0.1px" transform="matrix(1 0 0 1.08 0 -3.14)">RUNX1<tspan font-size="3.8" dy="-2.3">-/+</tspan></text>
<text x="331.05" y="46.7" text-anchor="middle" font-size="6.1" style="stroke-width:0.08px" transform="matrix(1 0 0 1.08 0 -3.74)">ns/fs</text>
<text x="355.84" y="46.7" text-anchor="middle" font-size="5.9" style="stroke-width:0.08px" textLength="23.6" lengthAdjust="spacingAndGlyphs" transform="matrix(1 0 0 1.08 0 -3.74)">missense</text>
<text x="404.24" y="46.7" text-anchor="middle" font-size="6.1" style="stroke-width:0.08px" transform="matrix(1 0 0 1.08 0 -3.74)">ns/fs</text>
<text x="463.39" y="46.7" text-anchor="middle" font-size="5.9" style="stroke-width:0.08px" transform="matrix(1 0 0 1.08 0 -3.74)">missense</text>
</g>
<g font-size="6.15" font-style="italic" text-anchor="end">
<text x="315.3" y="53.53" transform="matrix(1 0 0 1.08 0 -4.28)">RUNX1</text>
<text x="315.3" y="60.48" transform="matrix(1 0 0 1.08 0 -4.84)">ASXL1</text>
<text x="315.3" y="67.44" transform="matrix(1 0 0 1.08 0 -5.4)">SRSF2</text>
<text x="315.3" y="74.39" transform="matrix(1 0 0 1.08 0 -5.95)">TET2</text>
<text x="315.3" y="81.35" transform="matrix(1 0 0 1.08 0 -6.51)">FLT3</text>
<text x="315.3" y="88.3" transform="matrix(1 0 0 1.08 0 -7.06)">BCOR</text>
<text x="315.3" y="95.26" transform="matrix(1 0 0 1.08 0 -7.62)">NRAS</text>
<text x="315.3" y="102.21" transform="matrix(1 0 0 1.08 0 -8.18)">DNMT3A</text>
<text x="315.3" y="109.17" transform="matrix(1 0 0 1.08 0 -8.73)">KMT2A</text>
<text x="315.3" y="116.12" transform="matrix(1 0 0 1.08 0 -9.29)">STAG2</text>
<text x="315.3" y="123.08" transform="matrix(1 0 0 1.08 0 -9.85)">CEBPA</text>
<text x="315.3" y="130.03" transform="matrix(1 0 0 1.08 0 -10.4)">EZH2</text>
<text x="315.3" y="136.99" transform="matrix(1 0 0 1.08 0 -10.96)">IDH1</text>
<text x="315.3" y="143.94" transform="matrix(1 0 0 1.08 0 -11.52)">IDH2</text>
<text x="315.3" y="150.9" transform="matrix(1 0 0 1.08 0 -12.07)">JAK2</text>
<text x="315.3" y="157.85" transform="matrix(1 0 0 1.08 0 -12.63)">TP53</text>
<text x="315.3" y="164.81" transform="matrix(1 0 0 1.08 0 -13.18)">U2AF1</text>
<text x="315.3" y="171.76" transform="matrix(1 0 0 1.08 0 -13.74)">KRAS</text>
<text x="315.3" y="178.72" transform="matrix(1 0 0 1.08 0 -14.3)">NF1</text>
<text x="315.3" y="185.67" transform="matrix(1 0 0 1.08 0 -14.85)">CSF3R</text>
<text x="315.3" y="192.63" transform="matrix(1 0 0 1.08 0 -15.41)">ETV6</text>
<text x="315.3" y="199.58" transform="matrix(1 0 0 1.08 0 -15.97)">GATA2</text>
<text x="315.3" y="206.54" transform="matrix(1 0 0 1.08 0 -16.52)">IKZF1</text>
<text x="315.3" y="213.49" transform="matrix(1 0 0 1.08 0 -17.08)">KIT</text>
<text x="315.3" y="220.45" transform="matrix(1 0 0 1.08 0 -17.64)">KMT2C</text>
<text x="315.3" y="227.4" transform="matrix(1 0 0 1.08 0 -18.19)">KMT2D</text>
<text x="315.3" y="234.36" transform="matrix(1 0 0 1.08 0 -18.75)">PHF6</text>
<text x="315.3" y="241.31" transform="matrix(1 0 0 1.08 0 -19.3)">PTPN11</text>
<text x="315.3" y="248.27" transform="matrix(1 0 0 1.08 0 -19.86)">SF3B1</text>
<text x="315.3" y="255.22" transform="matrix(1 0 0 1.08 0 -20.42)">USP7</text>
<text x="315.3" y="262.18" transform="matrix(1 0 0 1.08 0 -20.97)">WT1</text>
<text x="315.3" y="269.13" transform="matrix(1 0 0 1.08 0 -21.53)">CBL</text>
<text x="315.3" y="276.09" transform="matrix(1 0 0 1.08 0 -22.09)">CUX1</text>
<text x="315.3" y="283.04" transform="matrix(1 0 0 1.08 0 -22.64)">EP300</text>
<text x="315.3" y="290" transform="matrix(1 0 0 1.08 0 -23.2)">HIST1H3H</text>
<text x="315.3" y="296.95" transform="matrix(1 0 0 1.08 0 -23.76)">NPM1</text>
<text x="315.3" y="303.91" transform="matrix(1 0 0 1.08 0 -24.31)">RAD21</text>
<text x="315.3" y="310.86" transform="matrix(1 0 0 1.08 0 -24.87)">SETBP1</text>
<text x="315.3" y="317.82" transform="matrix(1 0 0 1.08 0 -25.43)">SMC5</text>
<text x="315.3" y="324.77" transform="matrix(1 0 0 1.08 0 -25.98)">ZRSR2</text>
</g>
<g font-size="6.15" text-anchor="end">
<text x="315.3" y="331.73" transform="matrix(1 0 0 1.08 0 -26.54)">Risk</text>
<text x="315.3" y="338.68" transform="matrix(1 0 0 1.08 0 -27.09)">+13</text>
<text x="315.3" y="345.64" transform="matrix(1 0 0 1.08 0 -27.65)">NK</text>
<text x="315.3" y="352.59" font-style="italic" transform="matrix(1 0 0 1.08 0 -28.21)">EVI1</text>
<text x="315.3" y="359.4" transform="matrix(1 0 0 1.08 0 -28.75)">FAB M0</text>
<text x="315.3" y="366.3" transform="matrix(1 0 0 1.08 0 -29.3)">MDS</text>
<text x="315.3" y="373.2" transform="matrix(1 0 0 1.08 0 -29.86)">T-rel</text>
<text x="315.3" y="380.1" transform="matrix(1 0 0 1.08 0 -30.41)">Age</text>
</g>
<line x1="297.8" y1="325.6" x2="297.8" y2="352.8" stroke="#555" stroke-width="0.7"/>
<line x1="290.4" y1="352.8" x2="290.4" y2="381.4" stroke="#555" stroke-width="0.7"/>
<text x="276.4" y="342.3" font-size="6.6" text-anchor="middle" transform="matrix(1 0 0 1.08 0 -27.38)">Cytogenetics</text>
<text x="276.8" y="369.6" font-size="6.6" text-anchor="middle" transform="matrix(1 0 0 1.08 0 -29.57)">Clinical</text>
<text x="270.8" y="33.0" font-size="6.6" text-anchor="middle" transform="matrix(1 0 0 1.08 0 -2.64)">Frequency</text>
<text transform="translate(261.1,44.2) rotate(-90)" font-size="5.4">1.0</text>
<text transform="translate(272.4,44.2) rotate(-90)" font-size="5.4">0.5</text>
<text transform="translate(283.7,44.2) rotate(-90)" font-size="5.4">0.0</text>
<line x1="259.2" y1="47.9" x2="259.2" y2="324.1" stroke="#b5b5b5" stroke-width="0.45" stroke-dasharray="0.9,1.4"/>
<line x1="264.85" y1="47.9" x2="264.85" y2="324.1" stroke="#b5b5b5" stroke-width="0.45" stroke-dasharray="0.9,1.4"/>
<line x1="270.5" y1="47.9" x2="270.5" y2="324.1" stroke="#b5b5b5" stroke-width="0.45" stroke-dasharray="0.9,1.4"/>
<line x1="276.15" y1="47.9" x2="276.15" y2="324.1" stroke="#b5b5b5" stroke-width="0.45" stroke-dasharray="0.9,1.4"/>
<rect x="259.2" y="48.35" width="22.6" height="6.05" fill="#3b3b52"/>
<rect x="273.14" y="55.3" width="8.66" height="6.05" fill="#3b3b52"/>
<rect x="275.55" y="62.26" width="6.25" height="6.05" fill="#3b3b52"/>
<rect x="276.99" y="69.22" width="4.81" height="6.05" fill="#3b3b52"/>
<rect x="277.47" y="76.17" width="4.33" height="6.05" fill="#3b3b52"/>
<rect x="277.95" y="83.12" width="3.85" height="6.05" fill="#3b3b52"/>
<rect x="277.95" y="90.08" width="3.85" height="6.05" fill="#3b3b52"/>
<rect x="278.43" y="97.04" width="3.37" height="6.05" fill="#3b3b52"/>
<rect x="278.91" y="103.99" width="2.89" height="6.05" fill="#3b3b52"/>
<rect x="278.91" y="110.95" width="2.89" height="6.05" fill="#3b3b52"/>
<rect x="279.4" y="117.9" width="2.4" height="6.05" fill="#3b3b52"/>
<rect x="279.4" y="124.86" width="2.4" height="6.05" fill="#3b3b52"/>
<rect x="279.4" y="131.81" width="2.4" height="6.05" fill="#3b3b52"/>
<rect x="279.4" y="138.76" width="2.4" height="6.05" fill="#3b3b52"/>
<rect x="279.88" y="145.72" width="1.92" height="6.05" fill="#3b3b52"/>
<rect x="279.88" y="152.67" width="1.92" height="6.05" fill="#3b3b52"/>
<rect x="279.88" y="159.63" width="1.92" height="6.05" fill="#3b3b52"/>
<rect x="280.36" y="166.58" width="1.44" height="6.05" fill="#3b3b52"/>
<rect x="280.36" y="173.54" width="1.44" height="6.05" fill="#3b3b52"/>
<rect x="280.84" y="180.5" width="0.96" height="6.05" fill="#3b3b52"/>
<rect x="280.84" y="187.45" width="0.96" height="6.05" fill="#3b3b52"/>
<rect x="280.84" y="194.41" width="0.96" height="6.05" fill="#3b3b52"/>
<rect x="280.84" y="201.36" width="0.96" height="6.05" fill="#3b3b52"/>
<rect x="280.84" y="208.31" width="0.96" height="6.05" fill="#3b3b52"/>
<rect x="280.84" y="215.27" width="0.96" height="6.05" fill="#3b3b52"/>
<rect x="280.84" y="222.22" width="0.96" height="6.05" fill="#3b3b52"/>
<rect x="280.84" y="229.18" width="0.96" height="6.05" fill="#3b3b52"/>
<rect x="280.84" y="236.13" width="0.96" height="6.05" fill="#3b3b52"/>
<rect x="280.84" y="243.09" width="0.96" height="6.05" fill="#3b3b52"/>
<rect x="280.84" y="250.04" width="0.96" height="6.05" fill="#3b3b52"/>
<rect x="280.84" y="257" width="0.96" height="6.05" fill="#3b3b52"/>
<rect x="281.3" y="263.95" width="0.5" height="6.05" fill="#3b3b52"/>
<rect x="281.3" y="270.91" width="0.5" height="6.05" fill="#3b3b52"/>
<rect x="281.3" y="277.87" width="0.5" height="6.05" fill="#3b3b52"/>
<rect x="281.3" y="284.82" width="0.5" height="6.05" fill="#3b3b52"/>
<rect x="281.3" y="291.77" width="0.5" height="6.05" fill="#3b3b52"/>
<rect x="281.3" y="298.73" width="0.5" height="6.05" fill="#3b3b52"/>
<rect x="281.3" y="305.68" width="0.5" height="6.05" fill="#3b3b52"/>
<rect x="281.3" y="312.64" width="0.5" height="6.05" fill="#3b3b52"/>
<rect x="281.3" y="319.59" width="0.5" height="6.05" fill="#3b3b52"/>
<path d="M483,27.4 H491.9 V44.3" fill="none" stroke="#555" stroke-width="0.75"/>
<text x="478.9" y="29.7" font-size="6.8" text-anchor="end" transform="matrix(1 0 0 1.08 0 -2.38)"><tspan font-style="italic">RUNX1</tspan><tspan font-size="3.7" dy="-2.4">mut</tspan><tspan dy="2.4">vs. </tspan><tspan font-style="italic">RUNX1</tspan><tspan font-size="3.7" dy="-2.4">wt</tspan></text>
<path d="M483,19.3 H497.9 V44.3" fill="none" stroke="#555" stroke-width="0.75"/>
<text x="480.4" y="21.4" font-size="6.8" text-anchor="end" transform="matrix(1 0 0 1.08 0 -1.71)"><tspan font-style="italic">RUNX1</tspan><tspan font-size="3.5" dy="-2.4">ns/fs</tspan><tspan dy="2.4"> vs. </tspan><tspan font-style="italic">RUNX1</tspan><tspan font-size="3.5" dy="-2.4">mis</tspan></text>
<path d="M482.3,11.9 H504.1 V44.3" fill="none" stroke="#555" stroke-width="0.75"/>
<text x="476.6" y="13.2" font-size="6.8" text-anchor="end" transform="matrix(1 0 0 1.08 0 -1.06)"><tspan font-style="italic">RUNX1</tspan><tspan font-size="4.0" dy="-2.4">-/-</tspan><tspan dy="2.4" dx="1.6">vs. </tspan><tspan font-style="italic">RUNX1</tspan><tspan font-size="4.0" dy="-2.4">-/+</tspan></text>
<path d="M482.3,3.5 H510.8 V44.3" fill="none" stroke="#555" stroke-width="0.75"/>
<text x="476.9" y="5.8" font-size="6.8" text-anchor="end" transform="matrix(1 0 0 1.08 0 -0.46)"><tspan font-style="italic">RUNX1</tspan><tspan font-size="3.6" dy="-2.4">ns/fs and -/-</tspan><tspan dy="2.4"> vs. </tspan><tspan font-style="italic">other </tspan><tspan font-style="italic">RUNX1</tspan><tspan font-size="4.0" dy="-2.4">mut</tspan></text>
<rect x="490.3" y="55.2" width="4.1" height="6.25" fill="#d8283a" stroke="#7a5a3a" stroke-width="0.35" stroke-opacity="0.6"/>
<rect x="490.3" y="62.16" width="4.1" height="6.25" fill="#d8283a" stroke="#7a5a3a" stroke-width="0.35" stroke-opacity="0.6"/>
<rect x="490.3" y="76.07" width="4.1" height="6.25" fill="#4f9fd8" stroke="#7a5a3a" stroke-width="0.35" stroke-opacity="0.6"/>
<rect x="490.3" y="83.02" width="4.1" height="6.25" fill="#d8283a" stroke="#7a5a3a" stroke-width="0.35" stroke-opacity="0.6"/>
<rect x="490.3" y="110.84" width="4.1" height="6.25" fill="#f5c21b" stroke="#7a5a3a" stroke-width="0.35" stroke-opacity="0.6"/>
<rect x="490.3" y="124.75" width="4.1" height="6.25" fill="#ee8a26" stroke="#7a5a3a" stroke-width="0.35" stroke-opacity="0.6"/>
<rect x="490.3" y="145.62" width="4.1" height="6.25" fill="#f5c21b" stroke="#7a5a3a" stroke-width="0.35" stroke-opacity="0.6"/>
<rect x="490.3" y="229.08" width="4.1" height="6.25" fill="#f5c21b" stroke="#7a5a3a" stroke-width="0.35" stroke-opacity="0.6"/>
<rect x="490.3" y="291.68" width="4.1" height="6.25" fill="#2d53a3" stroke="#7a5a3a" stroke-width="0.35" stroke-opacity="0.6"/>
<rect x="496.3" y="62.16" width="4.1" height="6.25" fill="#ee8a26" stroke="#7a5a3a" stroke-width="0.35" stroke-opacity="0.6"/>
<rect x="496.3" y="117.8" width="4.1" height="6.25" fill="#a5d8ef" stroke="#7a5a3a" stroke-width="0.35" stroke-opacity="0.6"/>
<rect x="508.6" y="55.2" width="4.1" height="6.25" fill="#ee8a26" stroke="#7a5a3a" stroke-width="0.35" stroke-opacity="0.6"/>
<rect x="490.3" y="326.45" width="4.1" height="6.25" fill="#ee8a26" stroke="#7a5a3a" stroke-width="0.35" stroke-opacity="0.6"/>
<rect x="502.25" y="333.41" width="4.1" height="6.25" fill="#f5c21b" stroke="#7a5a3a" stroke-width="0.35" stroke-opacity="0.6"/>
<rect x="508.6" y="333.41" width="4.1" height="6.25" fill="#f5c21b" stroke="#7a5a3a" stroke-width="0.35" stroke-opacity="0.6"/>
<rect x="502.25" y="354.2" width="4.1" height="6.1" fill="#ee8a26" stroke="#7a5a3a" stroke-width="0.35" stroke-opacity="0.6"/>
<rect x="508.6" y="354.2" width="4.1" height="6.1" fill="#f5c21b" stroke="#7a5a3a" stroke-width="0.35" stroke-opacity="0.6"/>
<rect x="246.4" y="385.4" width="64.9" height="38.4" fill="#fff" stroke="#333" stroke-width="0.75"/>
<line x1="246.4" y1="396.1" x2="311.3" y2="396.1" stroke="#333" stroke-width="0.75"/>
<text x="304.6" y="394.2" font-size="8.4" text-anchor="end" transform="matrix(1 0 0 1.08 0 -31.54)">Mutations</text>
<g font-size="6.5" text-anchor="end">
<text x="301.3" y="403.6" transform="matrix(1 0 0 1.08 0 -32.29)">RUNX1 Elongating</text>
<text x="301.3" y="412.9" transform="matrix(1 0 0 1.08 0 -33.03)">ITD</text>
<text x="301.3" y="421.7" font-style="italic" transform="matrix(1 0 0 1.08 0 -33.74)">CEBPA<tspan font-size="3.6" dy="-2.3">*</tspan></text>
</g>
<ellipse cx="306.6" cy="400.8" rx="1.25" ry="2.4" fill="#a3355f"/>
<rect x="303.3" y="407.1" width="6.6" height="6.4" fill="#f3773d"/>
<rect x="303.9" y="415.7" width="6.2" height="6.6" fill="#0d0d0d"/>
<rect x="315.4" y="385.4" width="50.9" height="38.4" fill="#fff" stroke="#333" stroke-width="0.75"/>
<line x1="315.4" y1="396.1" x2="366.3" y2="396.1" stroke="#333" stroke-width="0.75"/>
<text x="340.8" y="394.2" font-size="8.4" text-anchor="middle" transform="matrix(1 0 0 1.08 0 -31.54)">Cytogenetics</text>
<g font-size="6.5" text-anchor="end">
<text x="353.7" y="404.2" transform="matrix(1 0 0 1.08 0 -32.34)">Altered</text>
<text x="353.7" y="412.9" transform="matrix(1 0 0 1.08 0 -33.03)">Intermediate</text>
<text x="353.7" y="421.6" transform="matrix(1 0 0 1.08 0 -33.73)">Adverse</text>
</g>
<rect x="359.2" y="398.1" width="5.3" height="6.2" fill="#4d5b59" stroke="#333" stroke-width="0.3"/>
<rect x="359.2" y="407.0" width="5.3" height="6.4" fill="#f57a3a"/>
<rect x="359.2" y="415.7" width="5.3" height="6.6" fill="#b3122e"/>
<rect x="370" y="385.4" width="108.7" height="38.4" fill="#fff" stroke="#333" stroke-width="0.75"/>
<line x1="370" y1="396.1" x2="478.7" y2="396.1" stroke="#333" stroke-width="0.75"/>
<text x="425.5" y="394.2" font-size="8.4" text-anchor="middle" transform="matrix(1 0 0 1.08 0 -31.54)">Enrichments</text>
<g font-size="6.5">
<text x="435.6" y="404.3" text-anchor="end" transform="matrix(1 0 0 1.08 0 -32.34)"><tspan font-style="italic">P</tspan> &lt;0.05</text>
<text x="438.8" y="404.3" transform="matrix(1 0 0 1.08 0 -32.34)">&lt;0.01</text>
<text x="457.3" y="404.3" transform="matrix(1 0 0 1.08 0 -32.34)">&lt;0.001</text>
<text x="418.6" y="412.3" text-anchor="end" transform="matrix(1 0 0 1.08 0 -32.98)">Co-association</text>
<text x="418.6" y="421.4" text-anchor="end" transform="matrix(1 0 0 1.08 0 -33.71)">Anti-association</text>
</g>
<rect x="422.4" y="407.2" width="13.0" height="7.1" fill="#f5c21b" stroke="#666" stroke-width="0.35"/>
<rect x="441.6" y="407.2" width="13.0" height="7.1" fill="#ee8a26" stroke="#666" stroke-width="0.35"/>
<rect x="460.2" y="407.2" width="13.0" height="7.1" fill="#d8283a" stroke="#666" stroke-width="0.35"/>
<rect x="422.4" y="415.5" width="13.0" height="7.1" fill="#a5d8ef" stroke="#666" stroke-width="0.35"/>
<rect x="441.6" y="415.5" width="13.0" height="7.1" fill="#4f9fd8" stroke="#666" stroke-width="0.35"/>
<rect x="460.2" y="415.5" width="13.0" height="7.1" fill="#2d53a3" stroke="#666" stroke-width="0.35"/>
<rect x="481.2" y="385.4" width="38.2" height="38.4" fill="#fff" stroke="#333" stroke-width="0.75"/>
<line x1="481.2" y1="396.1" x2="519.4" y2="396.1" stroke="#333" stroke-width="0.75"/>
<text x="500.3" y="394.2" font-size="8.4" text-anchor="middle" transform="matrix(1 0 0 1.08 0 -31.54)">Age</text>
<g font-size="6.5" text-anchor="end">
<text x="510.6" y="404.6" transform="matrix(1 0 0 1.08 0 -32.37)">Minimum</text>
<text x="510.6" y="413.3" transform="matrix(1 0 0 1.08 0 -33.06)">Median</text>
<text x="510.6" y="422.0" transform="matrix(1 0 0 1.08 0 -33.76)">Maximum</text>
</g>
<rect x="512.2" y="398.4" width="5.0" height="6.6" fill="#3d6dbf" stroke="#555" stroke-width="0.3"/>
<rect x="512.2" y="407.1" width="5.0" height="6.6" fill="#fff" stroke="#555" stroke-width="0.4"/>
<rect x="512.2" y="415.8" width="5.0" height="6.6" fill="#e45a70" stroke="#555" stroke-width="0.3"/>
</svg>
</body></html>
